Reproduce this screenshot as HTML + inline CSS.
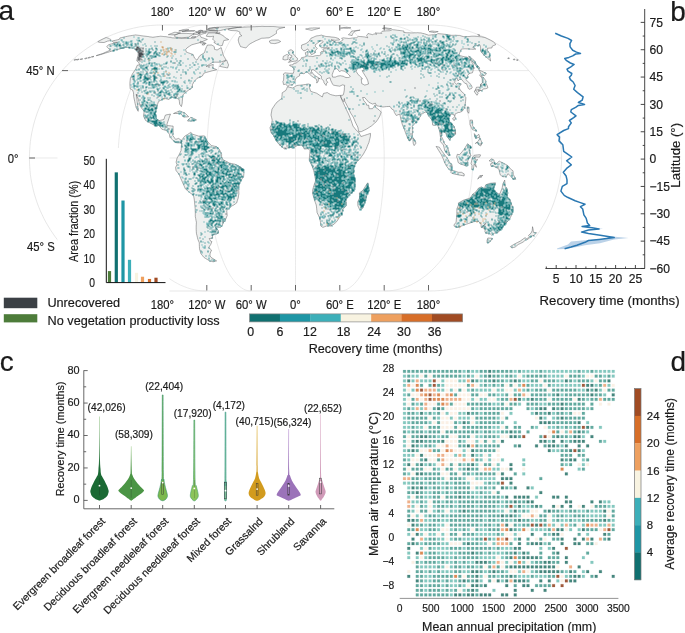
<!DOCTYPE html><html><head><meta charset="utf-8"><style>html,body{margin:0;padding:0;background:#fff;}svg{display:block}</style></head><body><svg width="685" height="633" viewBox="0 0 685 633" font-family="'Liberation Sans', Arial, sans-serif"><rect width="685" height="633" fill="#fff"/><path d="M206.8,25.0 202.7,25.1 198.8,25.5 194.9,26.1 191.2,27.0 187.6,28.1 184.1,29.4 180.7,30.8 177.4,32.5 174.2,34.3 171.1,36.2 168.1,38.3 165.1,40.5 162.3,42.9 159.6,45.4 156.9,48.0 154.4,50.7 151.9,53.5 149.5,56.4 147.2,59.4 145.0,62.5 142.9,65.7 140.9,69.0 138.9,72.3 137.1,75.7 135.3,79.2 133.6,82.8 132.1,86.4 130.5,90.0 129.1,93.8 127.8,97.5 126.5,101.4 125.4,105.2 124.3,109.1 123.3,113.1 122.4,117.0 121.6,121.1 120.9,125.1 120.2,129.2 119.7,133.2 119.2,137.3 118.8,141.4 118.5,145.6 118.3,149.7 118.1,153.9 118.1,158.0 118.1,162.1 118.3,166.3 118.5,170.4 118.8,174.6 119.2,178.7 119.7,182.8 120.2,186.8 120.9,190.9 121.6,194.9 122.4,199.0 123.3,202.9 124.3,206.9 125.4,210.8 126.5,214.6 127.8,218.5 129.1,222.2 130.5,226.0 132.1,229.6 133.6,233.2 135.3,236.8 137.1,240.3 138.9,243.7 140.9,247.0 142.9,250.3 145.0,253.5 147.2,256.6 149.5,259.6 151.9,262.5 154.4,265.3 156.9,268.0 159.6,270.6 162.3,273.1 165.1,275.5 168.1,277.7 171.1,279.8 174.2,281.7 177.4,283.5 180.7,285.2 184.1,286.6 187.6,287.9 191.2,289.0 194.9,289.9 198.8,290.5 202.7,290.9 206.8,291.0M251.2,25.0 249.1,25.1 247.1,25.5 245.2,26.1 243.4,27.0 241.6,28.1 239.8,29.4 238.1,30.8 236.4,32.5 234.8,34.3 233.3,36.2 231.8,38.3 230.3,40.5 228.9,42.9 227.5,45.4 226.2,48.0 224.9,50.7 223.7,53.5 222.5,56.4 221.4,59.4 220.3,62.5 219.2,65.7 218.2,69.0 217.2,72.3 216.3,75.7 215.4,79.2 214.6,82.8 213.8,86.4 213.0,90.0 212.3,93.8 211.6,97.5 211.0,101.4 210.4,105.2 209.9,109.1 209.4,113.1 209.0,117.0 208.5,121.1 208.2,125.1 207.9,129.2 207.6,133.2 207.3,137.3 207.1,141.4 207.0,145.6 206.9,149.7 206.8,153.9 206.8,158.0 206.8,162.1 206.9,166.3 207.0,170.4 207.1,174.6 207.3,178.7 207.6,182.8 207.9,186.8 208.2,190.9 208.5,194.9 209.0,199.0 209.4,202.9 209.9,206.9 210.4,210.8 211.0,214.6 211.6,218.5 212.3,222.2 213.0,226.0 213.8,229.6 214.6,233.2 215.4,236.8 216.3,240.3 217.2,243.7 218.2,247.0 219.2,250.3 220.3,253.5 221.4,256.6 222.5,259.6 223.7,262.5 224.9,265.3 226.2,268.0 227.5,270.6 228.9,273.1 230.3,275.5 231.8,277.7 233.3,279.8 234.8,281.7 236.4,283.5 238.1,285.2 239.8,286.6 241.6,287.9 243.4,289.0 245.2,289.9 247.1,290.5 249.1,290.9 251.2,291.0M295.5,25.0 295.5,25.1 295.5,25.5 295.5,26.1 295.5,27.0 295.5,28.1 295.5,29.4 295.5,30.8 295.5,32.5 295.5,34.3 295.5,36.2 295.5,38.3 295.5,40.5 295.5,42.9 295.5,45.4 295.5,48.0 295.5,50.7 295.5,53.5 295.5,56.4 295.5,59.4 295.5,62.5 295.5,65.7 295.5,69.0 295.5,72.3 295.5,75.7 295.5,79.2 295.5,82.8 295.5,86.4 295.5,90.0 295.5,93.8 295.5,97.5 295.5,101.4 295.5,105.2 295.5,109.1 295.5,113.1 295.5,117.0 295.5,121.1 295.5,125.1 295.5,129.2 295.5,133.2 295.5,137.3 295.5,141.4 295.5,145.6 295.5,149.7 295.5,153.9 295.5,158.0 295.5,162.1 295.5,166.3 295.5,170.4 295.5,174.6 295.5,178.7 295.5,182.8 295.5,186.8 295.5,190.9 295.5,194.9 295.5,199.0 295.5,202.9 295.5,206.9 295.5,210.8 295.5,214.6 295.5,218.5 295.5,222.2 295.5,226.0 295.5,229.6 295.5,233.2 295.5,236.8 295.5,240.3 295.5,243.7 295.5,247.0 295.5,250.3 295.5,253.5 295.5,256.6 295.5,259.6 295.5,262.5 295.5,265.3 295.5,268.0 295.5,270.6 295.5,273.1 295.5,275.5 295.5,277.7 295.5,279.8 295.5,281.7 295.5,283.5 295.5,285.2 295.5,286.6 295.5,287.9 295.5,289.0 295.5,289.9 295.5,290.5 295.5,290.9 295.5,291.0M339.8,25.0 341.9,25.1 343.9,25.5 345.8,26.1 347.6,27.0 349.4,28.1 351.2,29.4 352.9,30.8 354.6,32.5 356.2,34.3 357.7,36.2 359.2,38.3 360.7,40.5 362.1,42.9 363.5,45.4 364.8,48.0 366.1,50.7 367.3,53.5 368.5,56.4 369.6,59.4 370.7,62.5 371.8,65.7 372.8,69.0 373.8,72.3 374.7,75.7 375.6,79.2 376.4,82.8 377.2,86.4 378.0,90.0 378.7,93.8 379.4,97.5 380.0,101.4 380.6,105.2 381.1,109.1 381.6,113.1 382.0,117.0 382.5,121.1 382.8,125.1 383.1,129.2 383.4,133.2 383.7,137.3 383.9,141.4 384.0,145.6 384.1,149.7 384.2,153.9 384.2,158.0 384.2,162.1 384.1,166.3 384.0,170.4 383.9,174.6 383.7,178.7 383.4,182.8 383.1,186.8 382.8,190.9 382.5,194.9 382.0,199.0 381.6,202.9 381.1,206.9 380.6,210.8 380.0,214.6 379.4,218.5 378.7,222.2 378.0,226.0 377.2,229.6 376.4,233.2 375.6,236.8 374.7,240.3 373.8,243.7 372.8,247.0 371.8,250.3 370.7,253.5 369.6,256.6 368.5,259.6 367.3,262.5 366.1,265.3 364.8,268.0 363.5,270.6 362.1,273.1 360.7,275.5 359.2,277.7 357.7,279.8 356.2,281.7 354.6,283.5 352.9,285.2 351.2,286.6 349.4,287.9 347.6,289.0 345.8,289.9 343.9,290.5 341.9,290.9 339.8,291.0M384.2,25.0 388.3,25.1 392.2,25.5 396.1,26.1 399.8,27.0 403.4,28.1 406.9,29.4 410.3,30.8 413.6,32.5 416.8,34.3 419.9,36.2 422.9,38.3 425.9,40.5 428.7,42.9 431.4,45.4 434.1,48.0 436.6,50.7 439.1,53.5 441.5,56.4 443.8,59.4 446.0,62.5 448.1,65.7 450.1,69.0 452.1,72.3 453.9,75.7 455.7,79.2 457.4,82.8 458.9,86.4 460.5,90.0 461.9,93.8 463.2,97.5 464.5,101.4 465.6,105.2 466.7,109.1 467.7,113.1 468.6,117.0 469.4,121.1 470.1,125.1 470.8,129.2 471.3,133.2 471.8,137.3 472.2,141.4 472.5,145.6 472.7,149.7 472.9,153.9 472.9,158.0 472.9,162.1 472.7,166.3 472.5,170.4 472.2,174.6 471.8,178.7 471.3,182.8 470.8,186.8 470.1,190.9 469.4,194.9 468.6,199.0 467.7,202.9 466.7,206.9 465.6,210.8 464.5,214.6 463.2,218.5 461.9,222.2 460.5,226.0 458.9,229.6 457.4,233.2 455.7,236.8 453.9,240.3 452.1,243.7 450.1,247.0 448.1,250.3 446.0,253.5 443.8,256.6 441.5,259.6 439.1,262.5 436.6,265.3 434.1,268.0 431.4,270.6 428.7,273.1 425.9,275.5 422.9,277.7 419.9,279.8 416.8,281.7 413.6,283.5 410.3,285.2 406.9,286.6 403.4,287.9 399.8,289.0 396.1,289.9 392.2,290.5 388.3,290.9 384.2,291.0M62.1,70.6H528.9M29.4,158.0H561.6" fill="none" stroke="#dcdcdc" stroke-width="0.6"/><path d="M428.5,25.0 434.7,25.1 440.6,25.5 446.3,26.1 451.9,27.0 457.3,28.1 462.6,29.4 467.7,30.8 472.7,32.5 477.5,34.3 482.1,36.2 486.7,38.3 491.0,40.5 495.3,42.9 499.4,45.4 503.4,48.0 507.2,50.7 510.9,53.5 514.5,56.4 517.9,59.4 521.2,62.5 524.4,65.7 527.4,69.0 530.3,72.3 533.1,75.7 535.8,79.2 538.3,82.8 540.7,86.4 542.9,90.0 545.1,93.8 547.1,97.5 548.9,101.4 550.7,105.2 552.3,109.1 553.8,113.1 555.1,117.0 556.4,121.1 557.5,125.1 558.4,129.2 559.3,133.2 560.0,137.3 560.6,141.4 561.0,145.6 561.3,149.7 561.5,153.9 561.6,158.0 561.5,162.1 561.3,166.3 561.0,170.4 560.6,174.6 560.0,178.7 559.3,182.8 558.4,186.8 557.5,190.9 556.4,194.9 555.1,199.0 553.8,202.9 552.3,206.9 550.7,210.8 548.9,214.6 547.1,218.5 545.1,222.2 542.9,226.0 540.7,229.6 538.3,233.2 535.8,236.8 533.1,240.3 530.3,243.7 527.4,247.0 524.4,250.3 521.2,253.5 517.9,256.6 514.5,259.6 510.9,262.5 507.2,265.3 503.4,268.0 499.4,270.6 495.3,273.1 491.0,275.5 486.7,277.7 482.1,279.8 477.5,281.7 472.7,283.5 467.7,285.2 462.6,286.6 457.3,287.9 451.9,289.0 446.3,289.9 440.6,290.5 434.7,290.9 428.5,291.0 162.5,291.0 156.3,290.9 150.4,290.5 144.7,289.9 139.1,289.0 133.7,287.9 128.4,286.6 123.3,285.2 118.3,283.5 113.5,281.7 108.9,279.8 104.3,277.7 100.0,275.5 95.7,273.1 91.6,270.6 87.6,268.0 83.8,265.3 80.1,262.5 76.5,259.6 73.1,256.6 69.8,253.5 66.6,250.3 63.6,247.0 60.7,243.7 57.9,240.3 55.2,236.8 52.7,233.2 50.3,229.6 48.1,226.0 45.9,222.2 43.9,218.5 42.1,214.6 40.3,210.8 38.7,206.9 37.2,202.9 35.9,199.0 34.6,194.9 33.5,190.9 32.6,186.8 31.7,182.8 31.0,178.7 30.4,174.6 30.0,170.4 29.7,166.3 29.5,162.1 29.4,158.0 29.5,153.9 29.7,149.7 30.0,145.6 30.4,141.4 31.0,137.3 31.7,133.2 32.6,129.2 33.5,125.1 34.6,121.1 35.9,117.0 37.2,113.1 38.7,109.1 40.3,105.2 42.1,101.4 43.9,97.5 45.9,93.8 48.1,90.0 50.3,86.4 52.7,82.8 55.2,79.2 57.9,75.7 60.7,72.3 63.6,69.0 66.6,65.7 69.8,62.5 73.1,59.4 76.5,56.4 80.1,53.5 83.8,50.7 87.6,48.0 91.6,45.4 95.7,42.9 100.0,40.5 104.3,38.3 108.9,36.2 113.5,34.3 118.3,32.5 123.3,30.8 128.4,29.4 133.7,28.1 139.1,27.0 144.7,26.1 150.4,25.5 156.3,25.1 162.5,25.0Z" fill="none" stroke="#dcdcdc" stroke-width="0.7"/><path d="M112.2,41.0 114.0,40.6 115.8,40.2 117.5,39.8 119.3,39.4 119.6,38.7 119.8,38.0 121.7,37.6 123.6,37.1 125.4,36.7 127.3,36.3 129.2,35.9 130.9,35.7 132.5,35.4 134.2,35.2 135.8,34.9 136.7,35.1 137.6,35.2 138.5,35.3 139.5,35.4 140.3,35.5 141.1,35.7 141.9,35.8 142.7,35.9 143.5,36.0 144.3,36.1 145.1,36.2 146.0,36.3 146.9,36.4 147.7,36.5 148.6,36.6 149.4,36.8 150.2,36.9 151.1,37.0 151.9,37.1 152.8,37.3 154.1,37.1 155.4,36.9 156.7,36.7 158.1,36.6 159.4,36.4 160.7,36.2 161.6,36.3 162.5,36.4 163.4,36.5 164.3,36.6 165.2,36.6 166.1,36.7 167.0,36.9 167.8,37.0 168.6,37.2 169.4,37.3 170.3,37.5 171.1,37.6 172.0,37.8 172.9,37.9 173.9,37.9 174.8,38.0 175.8,38.1 176.8,38.2 177.7,38.2 178.7,38.3 179.7,38.3 180.8,38.3 181.9,38.3 182.9,38.3 184.0,38.3 185.0,38.3 186.1,38.3 187.2,38.3 188.2,38.3 189.3,38.3 190.4,38.3 191.4,38.3 192.7,38.1 193.9,38.0 195.2,37.8 196.7,36.7 198.3,35.7 199.9,34.7 200.1,35.4 200.4,36.0 200.7,36.6 201.0,37.3 201.8,37.5 202.6,37.8 203.4,38.0 204.2,38.3 205.0,38.6 205.8,38.9 206.6,39.1 207.4,39.4 205.7,40.2 203.9,40.9 202.1,41.7 200.5,42.3 198.9,42.9 197.5,43.3 196.1,43.6 194.7,44.0 193.2,44.4 191.8,44.8 189.4,46.3 186.9,48.0 185.6,49.7 186.0,50.9 186.3,52.1 187.3,52.4 188.3,52.8 189.2,53.1 190.2,53.5 191.2,53.8 192.2,54.2 193.2,54.5 193.8,56.3 194.5,58.1 195.7,59.1 196.9,60.2 197.9,58.7 198.8,57.2 199.8,55.7 202.1,54.2 204.3,52.8 204.9,51.2 205.4,49.5 206.0,48.0 206.7,46.5 207.4,45.0 208.5,45.0 209.7,45.0 210.8,45.0 211.9,45.0 212.7,45.6 213.5,46.1 214.3,46.7 214.4,48.0 214.5,49.3 215.8,49.7 217.1,50.0 219.1,48.8 221.2,47.6 221.7,49.5 222.3,51.4 222.7,53.1 223.1,54.9 223.8,56.2 224.6,57.4 225.3,58.7 226.0,60.2 224.6,60.7 223.2,61.2 221.8,61.7 220.4,62.2 219.1,62.2 217.9,62.2 216.6,62.2 215.4,62.2 214.1,62.2 212.9,62.2 211.2,63.3 209.5,64.3 207.9,65.4 206.2,66.5 207.6,66.1 209.0,65.7 210.5,65.3 211.9,64.8 213.3,64.4 213.0,66.3 212.7,68.1 214.0,68.6 215.4,69.1 216.7,69.6 215.3,70.0 213.9,70.4 212.5,70.7 211.1,71.1 209.7,71.5 208.2,71.9 206.8,72.3 205.3,72.7 203.9,73.2 202.3,76.1 200.6,76.8 198.8,77.6 197.0,78.3 195.5,80.1 193.9,81.9 192.5,84.6 192.3,87.7 190.3,89.0 188.2,90.4 186.4,91.8 184.7,93.3 183.0,94.7 182.7,96.8 182.5,99.0 182.3,101.1 182.2,103.3 181.4,106.6 179.7,104.3 179.4,101.8 179.1,99.4 177.8,98.8 176.6,98.1 175.2,97.8 173.9,97.5 172.6,97.3 171.3,97.0 169.2,99.4 167.9,99.2 166.6,98.9 165.3,98.6 163.9,98.3 162.1,99.4 160.2,100.6 158.4,101.7 157.6,104.4 156.8,107.2 156.3,109.1 155.7,111.1 155.2,113.1 155.6,115.6 156.1,118.0 157.4,119.4 158.6,120.7 160.4,120.3 162.1,119.9 163.9,119.5 164.6,117.2 165.4,115.1 167.1,114.7 168.8,114.4 170.5,114.1 169.6,116.4 168.8,118.7 168.0,121.1 167.3,123.3 166.7,125.5 168.3,125.6 169.9,125.8 171.5,126.0 173.1,126.1 173.1,128.5 173.1,130.9 173.1,133.2 172.8,135.5 174.2,137.4 175.6,139.4 177.1,138.9 178.6,138.4 180.0,139.4 181.4,140.4 180.9,142.9 179.2,142.9 177.6,142.9 175.4,142.5 174.0,141.2 172.6,139.9 171.2,138.6 169.9,137.3 169.4,134.3 168.1,132.5 166.8,130.8 165.1,130.2 163.5,129.7 161.8,129.2 160.3,127.1 158.7,125.1 156.8,125.4 155.0,125.7 153.4,124.8 151.8,123.9 150.3,123.1 148.7,122.2 147.1,121.3 145.6,120.5 144.5,118.2 143.5,116.1 143.8,113.8 144.2,111.5 142.8,109.7 141.5,108.0 140.2,106.2 139.5,103.9 138.9,101.7 138.4,99.4 137.3,96.9 136.3,94.3 136.6,96.9 137.0,99.4 137.2,101.7 137.5,103.9 137.9,106.2 138.0,108.7 138.2,111.3 137.1,109.4 136.1,107.6 135.6,105.5 135.1,103.4 134.7,101.4 134.2,99.0 133.7,96.6 133.6,94.7 133.5,92.8 132.6,90.0 131.4,89.5 130.2,88.9 130.0,86.3 129.9,83.7 130.0,81.9 130.2,80.1 130.4,78.3 131.4,76.2 132.4,74.0 133.5,72.3 134.6,70.6 135.7,69.0 136.5,67.0 137.4,65.1 139.6,64.9 139.2,63.7 138.8,62.5 137.8,61.7 136.8,61.0 137.1,59.2 137.5,57.4 138.0,55.7 138.1,54.2 138.2,52.8 137.7,52.1 137.2,51.4 136.7,50.7 136.3,50.0 135.6,49.6 134.9,49.1 134.2,48.7 133.5,48.2 132.6,48.1 131.6,47.9 130.6,47.7 129.7,47.6 128.6,47.5 127.5,47.5 126.5,47.4 125.4,47.3 123.3,47.9 121.3,48.5 119.2,49.1 117.2,49.5 115.2,50.0 113.3,50.6 111.5,51.2 109.6,51.8 107.7,52.4 105.9,52.9 104.0,53.5 102.2,54.1 100.3,54.7 98.3,55.2 96.2,55.7 98.4,54.9 100.6,54.2 102.8,53.5 105.4,52.3 107.9,51.2 110.5,50.0 109.9,49.6 109.3,49.1 108.7,48.7 108.1,48.2 107.6,47.7 107.2,47.2 106.8,46.7 108.4,44.8 111.4,43.9 113.5,43.3 115.6,42.8 117.7,42.3 116.6,42.3 115.5,42.3 114.4,42.3 113.3,42.3 112.9,41.9 112.6,41.4ZM193.4,34.3 194.3,34.3 195.3,34.4 196.2,34.4 197.2,34.5 200.4,32.9 199.5,32.8 198.7,32.7 197.9,32.6 197.1,32.5 195.4,32.9 193.7,33.4ZM191.3,37.5 192.3,37.6 193.2,37.7 194.1,37.8 195.9,36.7 194.9,36.5 193.9,36.2 192.2,36.7ZM198.2,31.2 199.1,31.2 200.1,31.2 201.1,31.2 202.9,30.5 201.9,30.4 201.0,30.3 200.0,30.2ZM202.1,31.8 203.0,31.8 204.0,31.8 205.0,31.8 206.3,31.0 205.3,31.0 204.3,31.0 203.4,31.0ZM207.3,29.4 208.3,29.3 209.4,29.3 210.4,29.2 211.4,29.2 212.4,29.1 213.4,29.1 214.4,29.0 216.6,28.4 218.8,27.8 218.1,27.7 217.3,27.7 216.6,27.6 215.9,27.6 215.2,27.5 214.4,27.4 213.1,27.6 211.8,27.8 210.5,27.9 209.2,28.1 208.2,28.7ZM178.8,30.8 179.7,30.8 180.7,30.8 181.6,30.8 182.6,30.8 183.6,30.8 184.5,30.8 186.7,30.3 188.9,29.7 187.9,29.7 187.0,29.7 186.0,29.7 185.1,29.7 184.2,29.7 183.2,29.7 181.0,30.3ZM215.7,33.4 216.6,33.4 217.5,33.5 218.4,33.6 220.2,32.9 219.3,32.8 218.4,32.8 217.4,32.7 216.5,32.7ZM201.9,44.8 202.9,44.9 203.9,45.1 205.2,44.1 204.2,43.9 203.3,43.8ZM340.5,28.1 341.2,28.0 341.9,27.9 342.7,27.8 343.4,27.6 344.1,27.5 345.1,27.6 346.0,27.6 347.0,27.7 347.9,27.7 348.9,27.7 349.8,27.8 350.8,27.8 350.1,27.9 349.3,28.0 348.6,28.1 347.8,28.2 346.9,28.2 346.0,28.2 345.1,28.2 344.1,28.2 343.2,28.1 342.3,28.1 341.4,28.1ZM228.3,29.0 229.6,28.8 230.8,28.6 232.1,28.4 233.4,28.1 234.6,27.9 235.9,27.7 237.1,27.5 238.1,27.5 239.1,27.4 240.1,27.4 241.1,27.3 242.1,27.2 243.0,27.2 244.0,27.1 245.0,27.1 246.0,27.0 246.9,27.0 247.9,26.9 248.8,26.9 249.7,26.9 250.6,26.8 251.6,26.8 252.5,26.8 253.4,26.7 254.3,26.7 255.2,26.7 256.1,26.6 257.0,26.6 257.9,26.6 258.8,26.5 259.7,26.5 260.6,26.5 261.5,26.4 262.4,26.4 263.2,26.4 264.1,26.5 264.9,26.5 265.7,26.5 266.6,26.5 267.4,26.5 268.3,26.5 269.1,26.5 269.9,26.5 270.8,26.5 271.6,26.5 272.5,26.5 273.3,26.5 274.2,26.6 274.9,26.6 275.7,26.7 276.5,26.8 277.3,26.9 278.1,27.0 279.0,27.1 279.8,27.1 280.7,27.1 281.5,27.1 282.4,27.2 283.3,27.2 284.1,27.2 285.0,27.3 284.0,27.5 283.1,27.7 282.1,28.0 281.1,28.2 280.1,28.5 279.1,28.7 278.2,29.4 277.3,30.1 276.4,30.8 276.4,31.6 276.5,32.5 276.5,33.4 275.3,34.1 274.1,34.9 272.8,35.7 271.6,36.4 270.4,37.1 269.1,37.8 268.0,37.9 266.9,37.9 265.9,38.0 264.8,38.1 263.7,38.2 262.6,38.2 261.5,38.3 260.2,38.9 259.0,39.4 257.7,40.0 256.4,40.5 255.1,41.1 253.7,41.9 252.3,42.6 250.9,43.4 249.5,44.1 248.3,45.4 247.1,46.7 245.8,48.0 244.8,47.7 243.7,47.5 242.7,47.2 241.6,46.9 240.6,46.7 240.0,45.4 239.4,44.1 238.9,42.9 238.5,41.4 238.2,40.0 238.5,38.9 238.8,37.8 239.2,36.7 240.5,36.2 241.9,35.7 241.2,35.2 240.6,34.7 239.9,34.3 239.8,33.1 239.8,32.1 239.1,31.7 238.4,31.4 237.8,31.1 237.1,30.8 236.2,30.8 235.4,30.7 234.5,30.7 233.6,30.6 232.7,30.6 231.8,30.5 230.9,30.5 230.2,30.3 229.5,30.1 228.8,29.9 228.1,29.7ZM222.4,45.4 222.7,44.1 223.1,42.9 223.4,41.7 223.8,40.5 225.0,40.3 226.3,40.1 227.5,39.9 228.7,39.6 227.9,39.1 227.1,38.7 226.2,38.2 225.4,37.7 224.7,37.3 224.0,36.5 223.4,35.7 222.7,35.4 222.0,35.0 221.3,34.7 220.6,34.3 220.0,34.0 219.2,33.8 218.4,33.6 217.7,33.3 217.0,33.1 216.2,32.9 215.2,32.9 214.2,32.9 213.2,32.9 212.3,32.9 211.3,32.9 210.3,32.9 209.3,32.9 208.3,32.9 207.6,34.0 206.9,35.1 206.3,36.2 207.2,36.4 208.1,36.5 209.0,36.6 210.0,36.7 211.2,36.6 212.4,36.4 213.6,36.2 213.3,37.3 213.0,38.3 212.8,39.4 213.4,40.0 214.0,40.5 214.7,41.1 215.3,41.7 213.8,42.3 214.5,42.8 215.3,43.3 216.1,43.9 216.8,44.4 217.7,44.7 218.7,45.1 219.6,45.4 220.5,45.8ZM174.7,35.2 176.7,34.3 178.8,33.4 179.8,33.4 180.8,33.4 181.8,33.4 182.8,33.4 183.8,33.4 184.8,33.4 185.8,33.4 186.7,33.4 187.6,33.5 188.5,33.5 189.4,33.6 190.3,33.6 191.3,33.7 192.2,33.7 193.1,33.8 194.1,33.8 192.2,34.9 190.3,36.1 188.4,37.3 187.3,37.3 186.1,37.4 185.0,37.5 183.8,37.6 182.6,37.7 181.5,37.8 180.5,37.7 179.6,37.6 178.7,37.5 177.7,37.4 176.8,37.3 175.8,37.3 175.3,36.9 174.8,36.5 174.4,36.1 173.9,35.7ZM210.0,30.5 210.9,30.5 211.8,30.5 212.7,30.6 213.6,30.6 214.5,30.7 215.4,30.7 216.3,30.7 217.2,30.8 218.1,30.8 219.0,30.8 220.5,30.5 222.0,30.1 223.5,29.7 224.9,29.4 226.4,29.0 227.7,28.8 228.9,28.7 230.1,28.5 231.3,28.3 232.6,28.1 233.7,28.0 234.9,27.8 236.0,27.7 237.1,27.5 238.3,27.4 239.4,27.3 240.5,27.1 241.6,27.0 240.8,27.0 240.0,26.9 239.2,26.9 238.5,26.9 237.7,26.8 236.9,26.8 236.1,26.8 235.3,26.7 234.6,26.7 233.8,26.7 233.0,26.6 232.2,26.6 231.5,26.6 230.5,26.6 229.5,26.6 228.6,26.7 227.6,26.7 226.6,26.8 225.6,26.8 224.6,26.9 223.6,26.9 222.6,27.0 221.6,27.0 220.6,27.1 219.6,27.1 218.6,27.2 217.6,27.2 216.6,27.3 215.0,27.5 213.5,27.8 211.9,28.1 210.3,28.4 208.7,28.7 208.7,29.2 208.7,29.6 208.8,30.1 209.4,30.3ZM205.6,32.1 206.6,32.1 207.5,32.1 208.5,32.1 209.5,32.1 210.5,32.1 211.4,32.1 212.4,32.1 213.4,32.1 214.4,32.1 215.3,32.1 216.3,32.1 217.3,32.1 217.4,31.2 217.6,30.5 216.7,30.5 215.7,30.5 214.8,30.5 213.8,30.5 212.9,30.5 211.9,30.5 211.0,30.5 210.0,30.5 209.1,30.5 208.1,30.5 206.8,31.2ZM168.3,34.7 171.6,33.4 174.9,32.2 175.7,32.3 176.5,32.4 177.3,32.5 178.1,32.6 178.9,32.7 179.7,32.8 180.5,32.9 178.0,33.8 175.4,34.7 174.4,34.7 173.4,34.7 172.4,34.7 171.4,34.7 170.3,34.7 169.3,34.7ZM198.1,33.8 198.9,33.9 199.8,34.0 200.6,34.2 201.5,34.3 203.1,33.8 204.7,33.4 206.3,32.9 205.5,32.8 204.7,32.6 204.0,32.5 202.9,32.5 201.9,32.5 200.9,32.6 199.9,32.6 198.9,32.6 197.8,32.6 196.8,32.7 196.4,32.3 195.9,32.0 195.5,31.6 196.8,31.5 198.0,31.3 199.3,31.2 200.5,31.0 201.7,30.8 200.5,31.8 199.3,32.8ZM181.9,31.6 183.0,31.6 184.0,31.6 185.0,31.5 186.1,31.5 187.1,31.5 188.1,31.4 189.2,31.4 190.2,31.4 191.2,31.3 192.3,31.3 193.3,31.3 194.3,31.2 194.8,30.5 193.9,30.5 192.9,30.5 192.0,30.5 191.0,30.5 190.1,30.5 189.1,30.5 188.2,30.5 187.2,30.5 186.3,30.5 184.1,31.0ZM200.0,42.9 201.1,43.0 202.1,43.1 203.1,43.2 204.2,43.3 205.2,43.4 206.2,43.5 205.4,43.2 204.6,42.8 203.7,42.5 202.9,42.1 202.1,41.8 201.3,41.5 200.5,41.1ZM219.6,66.4 220.9,66.6 222.2,66.9 223.5,67.2 224.9,67.4 226.2,67.7 227.5,68.0 228.6,64.9 227.9,63.3 227.3,61.7 226.7,60.2 225.2,61.0 223.7,61.7 221.7,64.0ZM173.5,113.5 175.0,112.8 176.6,112.2 178.1,111.5 179.6,110.9 181.0,111.4 182.3,112.0 183.7,112.5 185.0,113.1 186.8,114.9 188.7,116.7 187.0,116.9 185.3,117.0 183.7,117.2 182.2,115.4 180.6,113.5 179.0,113.5 177.3,113.5 175.6,113.5ZM187.6,120.5 189.2,118.8 190.9,117.2 192.3,117.9 193.7,118.5 195.1,119.2 196.5,119.9 194.6,120.5 192.6,121.1 191.0,121.1 189.3,121.1 187.7,121.1ZM181.4,140.4 183.0,138.4 184.6,136.3 186.2,135.3 187.7,134.4 189.2,133.4 190.8,132.4 192.8,134.3 194.3,134.7 195.7,135.2 197.2,135.6 198.6,136.1 200.1,136.1 201.5,136.0 203.0,135.9 204.5,135.9 205.5,138.2 206.5,140.4 208.1,142.1 209.8,143.9 211.4,145.6 213.1,145.9 214.8,146.3 216.6,146.6 218.0,148.0 219.4,149.3 220.5,151.8 221.6,154.3 221.6,158.0 223.8,160.1 225.3,160.9 226.8,161.6 228.3,162.4 229.7,163.2 231.5,163.5 233.2,163.9 234.9,164.2 236.8,165.0 238.6,165.9 240.3,167.0 241.9,168.2 243.6,169.4 243.7,171.5 243.9,173.5 243.6,176.6 242.2,178.7 240.9,180.7 239.7,182.8 238.6,184.8 238.7,187.1 238.7,189.4 238.8,191.7 238.9,193.9 238.5,195.9 238.2,198.0 237.4,200.4 236.7,202.9 235.3,203.9 234.0,204.9 232.6,205.6 231.2,206.3 229.7,207.8 228.2,209.3 226.7,210.8 227.0,213.2 227.2,215.6 226.2,218.0 225.2,220.4 223.2,222.8 222.0,226.0 220.3,227.6 218.8,227.2 217.3,226.9 215.3,226.9 217.5,229.6 218.5,230.7 218.0,233.4 216.5,233.8 215.1,234.1 213.7,234.5 212.3,234.8 212.7,238.2 211.0,238.4 209.2,238.5 210.6,241.1 211.9,241.6 210.7,244.5 209.7,246.0 208.7,247.5 211.5,250.0 210.7,252.0 210.0,253.9 210.0,256.0 211.2,257.3 211.1,257.5 213.0,258.6 214.8,259.8 216.6,260.9 215.5,261.2 214.3,261.5 213.2,261.8 211.5,261.4 209.8,261.1 207.8,259.8 205.8,258.6 203.8,257.3 202.3,255.4 200.8,253.5 200.4,251.9 199.9,250.3 199.5,248.7 199.4,246.6 199.3,244.5 199.3,242.8 198.6,241.1 197.9,239.4 197.4,237.4 196.9,235.3 196.4,233.2 196.3,231.4 196.2,229.6 196.2,227.8 196.2,226.0 196.3,224.1 196.4,222.2 196.0,220.4 195.7,218.5 195.3,216.6 195.3,214.6 195.3,212.7 195.2,210.8 195.2,208.8 195.0,206.9 194.8,204.9 194.6,202.9 194.4,200.9 194.2,199.0 193.5,195.5 191.9,194.2 190.2,192.9 188.6,191.6 187.0,190.2 185.4,188.9 184.5,186.8 183.6,184.8 182.7,182.8 181.8,180.7 180.9,178.7 180.0,176.6 179.2,174.6 177.6,172.5 176.0,170.4 175.6,167.3 177.0,164.8 176.1,162.1 176.6,160.1 177.1,158.0 179.0,154.9 180.0,152.8 181.0,150.7 181.2,148.7 181.3,146.6 181.5,144.5 181.5,142.5ZM271.0,115.1 271.3,113.1 271.7,111.1 272.0,109.1 273.5,106.9 275.0,104.6 277.2,101.9 278.7,100.8 280.2,99.6 281.8,98.5 281.9,96.6 282.1,94.7 282.2,92.8 284.0,91.6 285.9,90.4 286.7,88.6 287.5,86.7 289.2,87.2 291.0,87.6 292.8,88.0 294.1,87.2 295.5,86.3 296.9,85.5 298.2,85.3 299.6,85.2 300.9,85.1 302.3,84.9 303.8,84.7 305.3,84.5 306.8,84.2 308.4,84.0 310.4,84.6 309.4,87.3 310.0,89.3 310.7,91.3 312.1,91.8 313.6,92.3 315.1,92.7 316.5,93.2 318.0,94.1 319.4,95.1 320.9,96.0 322.3,97.0 323.5,93.4 325.4,93.0 327.3,92.6 328.9,93.6 330.5,94.5 332.3,95.0 334.1,95.4 335.9,95.8 337.4,95.6 338.9,95.5 340.4,95.3 341.1,97.9 342.3,100.6 343.5,103.3 344.4,105.2 345.3,107.2 346.1,109.1 347.1,111.1 348.1,113.1 349.0,115.1 349.8,117.0 350.5,119.0 351.3,121.1 352.2,123.6 353.0,126.1 354.6,128.1 356.2,130.2 358.9,132.4 359.9,134.5 360.9,136.5 363.0,135.9 364.5,135.4 366.0,134.9 367.5,134.4 369.0,133.9 370.5,133.4 370.4,136.3 369.9,138.4 369.4,140.4 368.9,142.5 368.0,144.5 367.2,146.6 366.4,148.7 364.9,151.3 363.5,153.9 361.7,156.4 359.8,159.0 358.3,160.4 356.8,161.7 354.6,165.3 354.0,167.3 353.5,169.4 353.6,172.0 353.7,174.6 354.3,177.1 355.0,179.7 354.9,181.7 354.9,183.8 354.8,185.8 354.8,187.9 353.7,190.1 352.6,192.3 350.7,193.6 348.8,194.9 347.4,197.0 346.0,199.0 346.1,201.3 346.2,203.6 346.2,205.9 344.3,207.8 342.4,209.8 342.1,212.2 341.8,214.6 339.6,217.1 338.4,219.0 337.2,220.9 335.7,222.5 334.2,224.1 332.4,225.0 330.7,226.0 329.3,226.0 327.8,226.0 326.4,226.0 324.7,226.7 322.9,227.4 320.8,226.0 320.6,224.1 320.5,222.2 320.0,219.9 319.4,217.5 318.3,215.1 317.1,212.7 316.9,210.8 316.7,208.8 316.5,206.9 316.2,204.9 315.3,202.4 314.4,199.9 313.8,197.8 313.2,195.7 312.6,193.5 312.7,189.9 313.2,187.9 313.8,185.8 314.7,183.3 315.6,180.7 315.3,178.7 314.9,176.6 314.5,174.6 314.1,172.5 313.6,170.4 312.8,168.2 312.0,165.9 310.6,163.0 309.2,160.1 309.4,158.0 309.5,155.9 309.8,153.3 310.0,150.7 308.1,148.7 306.2,148.9 304.4,149.1 303.2,147.0 302.1,145.0 300.7,145.1 299.2,145.2 297.7,145.4 296.0,146.3 294.3,147.2 292.5,148.1 291.1,147.6 289.6,147.2 287.9,147.8 286.1,148.3 284.4,148.9 283.0,147.7 281.5,146.6 280.0,145.2 278.5,143.7 275.9,140.4 274.7,138.0 273.5,135.5 271.0,132.4 270.5,130.1 270.0,127.7 271.5,124.7 271.8,122.4 272.2,120.1 271.6,117.5ZM367.7,182.8 368.2,185.1 368.6,187.5 369.1,189.9 368.2,191.9 367.3,193.9 366.7,196.1 366.0,198.2 365.3,200.3 364.6,202.4 363.9,204.5 363.2,206.6 362.5,208.6 359.7,209.8 358.8,207.8 357.9,205.9 357.8,203.9 357.7,201.9 358.7,199.9 359.6,198.0 359.5,195.4 359.4,192.9 361.2,191.6 362.9,190.3 364.3,188.1 365.7,185.8ZM283.3,74.0 283.9,75.7 283.7,77.9 283.6,80.1 282.9,81.5 283.6,84.6 285.5,84.2 287.3,85.6 287.9,86.4 289.4,85.1 291.0,85.0 292.5,84.9 294.8,82.2 295.1,80.1 296.6,77.5 298.1,76.6 299.7,75.7 299.6,73.8 301.4,73.2 302.7,73.5 304.0,73.8 305.3,72.7 307.0,71.6 309.3,74.0 311.8,76.2 314.1,77.8 316.3,79.2 317.0,81.9 316.5,82.8 317.2,82.8 318.3,81.0 318.4,78.3 320.2,78.9 318.4,77.7 316.7,76.6 315.3,75.7 313.9,74.9 312.7,73.2 311.5,71.5 311.5,69.8 313.2,69.5 314.9,70.6 316.7,72.3 318.5,74.0 319.9,75.0 321.3,76.1 321.4,78.7 323.7,81.0 324.0,82.8 326.1,85.5 326.6,83.1 327.8,82.4 326.1,80.1 326.8,78.7 328.4,78.2 330.1,77.8 330.6,80.1 331.9,82.8 332.8,84.6 333.5,85.1 335.2,85.5 337.0,85.8 338.4,86.0 339.7,86.2 341.0,85.6 342.3,84.9 344.7,85.3 344.4,87.3 344.3,90.0 343.8,92.8 343.4,94.5 343.1,95.1 340.6,95.5 341.1,97.7 342.6,100.4 343.8,101.7 344.4,98.5 344.8,101.4 346.1,103.8 347.3,106.2 348.5,108.5 349.6,110.8 350.7,113.1 352.0,115.1 353.2,117.0 354.1,119.0 354.9,121.1 355.8,123.1 356.8,125.1 357.8,127.1 358.3,129.5 358.9,131.8 361.4,131.6 363.0,130.8 364.7,130.0 366.3,129.2 368.1,128.1 369.8,127.0 371.5,125.9 373.0,124.6 374.4,123.3 375.9,122.1 377.9,119.3 379.8,116.1 380.5,114.1 381.2,112.1 379.1,109.9 377.4,108.6 375.7,107.4 375.1,104.8 374.3,106.2 372.5,108.7 370.8,108.7 369.1,108.7 368.7,105.2 366.7,105.2 366.1,103.3 363.7,100.4 362.6,97.5 364.7,97.5 366.3,99.4 368.8,102.3 370.7,103.2 372.6,104.1 374.0,103.6 375.3,103.1 376.8,105.8 378.4,106.1 380.0,106.4 381.5,106.7 382.9,107.0 384.7,106.8 386.4,106.6 388.2,106.5 390.0,106.4 391.8,109.1 393.8,110.1 394.4,112.5 396.3,115.5 398.0,114.8 399.8,114.1 400.3,116.6 400.8,119.0 401.3,121.1 401.9,123.1 402.5,125.1 403.4,127.1 404.3,129.2 405.3,132.2 406.1,134.3 406.9,136.3 407.7,138.4 409.6,141.2 410.5,139.6 412.0,136.7 412.5,134.3 412.6,132.2 412.7,130.2 412.5,128.1 412.3,126.1 414.0,124.3 415.3,123.1 416.5,121.3 417.7,119.5 419.0,118.2 420.3,117.0 420.5,114.1 422.6,113.7 423.9,112.9 425.2,112.1 427.1,112.5 428.4,115.7 430.2,117.8 432.0,120.1 432.4,122.6 432.7,125.1 434.5,125.5 435.9,124.8 437.3,124.1 438.1,126.4 438.9,128.8 439.6,131.2 439.9,133.2 440.2,135.3 440.5,137.3 440.4,139.4 440.3,141.4 441.8,143.2 443.4,145.0 444.1,147.8 444.7,150.7 446.5,153.0 448.3,155.3 449.5,155.1 449.0,152.4 448.4,149.7 447.3,147.4 446.2,145.2 444.4,143.7 443.5,141.0 442.5,138.4 441.2,136.3 441.4,134.3 441.5,132.2 441.7,130.2 443.2,131.8 445.7,132.8 446.9,136.3 449.7,140.2 450.6,138.2 452.6,136.3 454.1,135.3 455.6,134.3 455.5,132.2 455.3,130.2 454.7,128.1 454.0,126.1 452.0,123.9 449.9,121.7 448.4,119.3 449.2,116.1 450.7,114.1 452.2,114.3 453.6,114.5 454.8,116.5 455.0,114.1 456.6,113.3 458.2,112.5 459.4,112.5 460.8,111.9 462.2,111.3 463.3,109.7 464.3,108.2 465.1,105.2 465.3,103.3 465.6,101.4 465.9,97.7 464.4,95.6 464.5,94.1 461.9,91.9 460.3,90.0 458.8,88.2 459.5,86.0 460.4,85.1 461.4,84.2 458.6,83.1 456.6,84.2 454.5,82.4 454.9,81.9 455.2,79.6 456.0,78.6 456.9,77.6 458.1,81.0 459.2,79.6 461.5,79.4 463.1,81.3 464.8,83.3 466.5,83.7 467.4,85.9 468.2,88.2 469.1,89.3 470.3,88.9 471.5,88.6 472.2,87.3 471.0,84.6 468.0,81.7 465.9,79.6 466.8,78.5 467.7,77.5 467.7,75.2 469.2,73.7 470.3,73.3 471.4,73.0 472.5,72.7 472.9,71.2 473.2,69.8 473.4,68.1 473.5,66.5 473.5,64.9 472.6,63.3 471.5,61.7 470.5,60.2 469.4,58.7 467.1,57.2 465.7,56.9 464.2,56.7 462.8,56.4 460.8,55.8 458.9,55.2 459.3,54.1 459.6,53.1 460.0,52.2 460.3,51.4 460.6,50.6 461.0,49.8 461.3,49.1 462.3,49.0 463.4,48.9 464.5,48.8 465.7,48.8 466.9,48.9 468.1,48.9 469.7,49.1 471.4,49.2 473.0,49.3 474.4,49.2 475.8,49.1 472.7,47.3 473.3,46.8 473.8,46.2 474.3,45.6 475.7,45.6 477.1,45.6 478.0,45.3 478.9,45.0 479.8,44.8 480.2,46.0 480.5,47.3 480.6,48.2 480.6,49.1 480.5,50.0 480.5,51.0 482.1,52.9 483.7,54.9 485.5,56.4 487.2,57.9 488.9,59.4 490.6,61.0 490.1,58.2 489.4,55.7 489.5,54.4 489.6,53.2 487.6,50.7 487.6,49.5 487.6,48.2 488.6,48.2 489.7,48.1 490.8,48.0 491.8,48.0 492.0,47.3 492.2,46.7 492.4,46.0 493.2,45.7 494.0,45.4 494.8,45.1 495.6,44.8 495.2,43.5 493.2,41.7 490.5,40.2 487.7,38.8 484.9,37.5 481.4,36.8 480.1,36.7 478.8,36.6 477.5,36.5 476.2,36.3 474.9,36.2 473.8,36.2 472.8,36.2 471.8,36.2 470.9,36.3 470.0,36.4 469.2,36.5 468.3,36.5 467.4,36.6 466.4,36.6 465.3,36.6 464.3,36.6 463.3,36.6 459.5,35.4 458.1,35.4 456.6,35.3 455.3,35.2 454.3,35.3 453.3,35.3 452.3,35.3 451.4,35.3 449.6,35.0 447.9,34.7 446.6,34.5 445.2,34.3 443.9,34.2 442.5,34.0 441.3,33.9 440.1,33.8 438.9,33.7 437.7,33.6 437.4,34.0 437.1,34.3 436.8,34.7 435.7,34.7 434.7,34.7 433.7,34.7 432.7,34.7 431.9,34.8 431.1,34.9 430.3,35.0 429.4,35.1 428.6,35.2 424.6,33.8 422.7,33.4 420.9,32.9 419.8,32.9 418.7,32.8 417.6,32.7 416.5,32.8 415.5,32.8 414.5,32.8 413.5,32.9 412.4,32.9 411.3,32.9 410.1,32.9 409.0,32.8 407.8,32.8 406.5,32.7 405.1,32.6 403.8,32.5 403.8,32.0 403.9,31.5 403.9,31.0 402.7,30.9 401.4,30.7 400.2,30.6 399.0,30.4 397.8,30.3 396.4,30.1 395.1,29.9 393.8,29.8 392.5,29.6 392.0,29.8 391.5,30.0 391.0,30.2 390.5,30.5 389.9,30.7 389.1,30.7 388.2,30.8 387.3,30.8 386.4,30.8 385.6,30.9 384.7,31.0 383.9,31.1 383.1,31.2 382.2,31.2 381.9,31.6 381.5,32.1 381.1,32.5 381.8,33.4 380.7,33.3 379.6,33.2 378.5,33.1 377.4,33.1 376.4,33.0 375.3,32.9 376.8,34.2 375.4,34.0 373.9,33.9 373.4,34.3 372.8,34.7 371.2,34.3 369.6,33.9 368.0,33.5 367.6,34.2 367.1,35.0 366.6,35.7 367.2,36.7 367.8,37.8 366.2,37.4 364.5,36.9 363.3,36.8 362.1,36.7 360.8,36.6 359.6,36.5 358.4,36.4 357.5,37.0 356.7,37.7 355.7,37.8 354.7,37.8 353.7,37.9 352.6,38.0 351.7,38.1 350.7,38.3 349.7,38.4 348.7,38.5 347.4,38.3 346.1,38.2 344.8,38.0 343.5,37.8 342.6,38.0 341.6,38.2 343.2,39.9 342.3,40.4 341.4,41.0 340.5,41.6 339.6,42.2 338.3,42.2 337.1,42.3 335.8,42.3 333.3,40.8 331.1,39.8 332.2,39.9 333.3,40.0 334.5,40.2 335.6,40.3 336.6,40.2 337.7,40.1 338.7,40.0 339.7,39.9 338.7,38.6 337.1,38.0 335.5,37.5 334.4,37.3 333.3,37.2 332.2,37.1 331.1,37.0 330.0,36.8 328.9,36.7 327.8,36.6 326.7,36.5 325.6,36.4 324.3,36.0 322.9,35.6 321.6,35.1 320.5,35.3 319.4,35.5 318.4,35.7 317.3,35.8 316.2,36.0 315.2,36.4 314.3,36.8 313.3,37.3 312.1,37.8 310.9,38.3 310.0,39.7 309.2,41.1 308.2,41.9 307.1,42.7 306.1,43.5 305.0,43.9 303.9,44.3 302.8,44.6 301.7,45.0 301.5,46.5 301.3,48.0 302.3,49.6 303.7,50.7 305.1,50.6 306.4,49.7 307.7,48.9 308.6,50.3 309.4,51.4 310.4,53.1 311.1,54.4 312.7,54.2 313.9,53.5 315.2,52.8 315.0,50.8 316.2,49.7 317.3,48.6 316.2,47.3 315.1,46.0 315.5,44.5 316.6,43.8 317.6,43.0 318.7,42.3 319.8,40.8 321.0,40.8 322.2,40.8 323.3,41.7 322.1,42.6 320.9,43.6 319.7,44.5 319.7,46.0 321.4,47.7 322.9,47.7 324.3,47.7 325.4,47.6 326.6,47.5 327.7,47.3 329.6,48.1 328.0,48.6 326.6,48.7 325.3,48.7 324.0,48.8 322.9,49.3 323.1,50.4 324.1,51.0 323.6,51.8 321.5,51.4 320.5,52.4 321.0,54.7 319.7,55.2 319.1,55.8 317.9,55.5 316.7,55.6 315.5,55.7 314.1,56.1 312.8,56.6 311.4,56.3 310.1,56.1 308.8,56.4 308.2,55.8 307.6,55.2 307.9,54.2 307.9,52.8 307.9,51.4 306.8,51.9 305.2,52.8 305.9,55.1 306.2,56.4 304.0,57.2 302.8,57.4 301.6,57.6 301.1,59.1 299.8,60.3 298.6,60.8 297.5,62.2 295.8,63.2 293.9,63.2 293.1,64.7 291.3,64.9 289.5,65.1 290.2,66.0 291.4,66.5 292.7,67.0 294.0,69.0 293.8,71.5 293.3,73.3 291.4,73.3 289.6,73.3 288.1,73.2 286.6,73.0 285.0,72.8ZM288.4,62.4 290.1,62.0 291.8,61.6 293.1,61.4 294.4,61.2 295.8,61.0 297.1,60.8 297.6,58.4 295.9,57.2 294.9,55.7 293.3,53.8 292.5,53.1 293.4,51.2 291.4,49.9 289.7,49.9 288.2,51.4 288.8,53.5 289.7,54.9 291.7,55.5 291.8,57.3 289.9,57.5 290.3,59.0 288.9,59.9 290.2,60.1 291.4,60.3 289.9,60.8ZM288.1,59.3 288.0,56.6 288.7,55.2 286.7,54.5 285.2,55.4 283.3,56.4 283.1,57.9 282.8,59.4 285.0,60.0 286.5,59.7ZM269.3,41.1 270.5,40.6 271.7,40.1 272.8,40.1 273.9,40.1 275.0,40.0 276.0,40.0 277.1,40.0 278.2,40.0 279.4,40.7 280.7,41.5 278.9,42.5 277.5,42.9 276.1,43.3 274.6,43.6 273.5,43.5 272.4,43.4 271.3,43.3 270.3,43.1ZM475.4,90.0 476.4,87.3 477.7,87.2 479.1,87.2 480.4,87.1 480.7,84.0 482.4,82.9 482.3,80.9 482.2,78.9 481.2,76.6 483.1,77.1 484.6,79.0 486.0,81.0 485.5,82.4 487.1,85.5 487.9,87.7 486.8,88.4 485.3,88.8 483.3,88.9 481.8,90.8 480.0,90.2 478.2,89.7 476.9,89.9 475.7,90.2ZM474.2,91.0 475.7,90.2 478.1,93.4 477.0,95.3 475.1,92.8ZM478.4,91.9 479.5,91.2 480.5,90.4 478.2,89.9ZM480.8,76.6 481.8,74.9 484.7,75.7 485.6,74.6 486.5,73.5 484.0,72.3 481.5,71.1 478.9,70.0 480.0,71.8 481.0,73.7 479.6,74.9ZM478.5,69.0 479.8,68.1 478.4,66.5 476.9,64.9 475.5,63.3 474.8,61.0 472.8,59.3 470.8,57.6 468.6,56.0 469.9,57.9 471.4,60.2 472.7,61.7 474.1,63.3 475.4,64.9 477.0,66.9ZM467.3,111.1 467.4,108.9 467.5,106.8 469.0,107.2 469.0,109.3 469.0,111.5 468.7,113.3ZM452.5,118.6 454.8,116.9 455.8,117.8 454.1,120.7ZM413.0,141.4 413.1,137.7 414.7,140.2 416.0,143.1 414.2,145.6 413.3,143.7ZM470.1,124.7 470.1,122.4 470.1,120.1 472.4,120.1 472.7,123.1 472.6,125.7 474.8,128.7 476.9,131.2 475.4,130.6 473.8,130.1 472.3,129.6 471.5,127.9ZM475.3,143.5 477.4,141.9 478.4,141.0 480.0,138.0 481.0,140.4 482.0,142.9 480.6,146.0 478.4,144.7 477.6,142.1ZM474.3,133.6 476.4,136.3 478.8,134.3 479.9,137.3 477.7,137.7 475.6,138.4 474.6,136.1ZM457.3,154.3 459.6,154.7 461.0,153.0 462.4,151.4 463.9,149.5 465.2,147.6 467.5,143.7 469.5,145.4 471.4,147.0 469.7,149.1 469.3,151.8 470.2,153.9 471.1,155.9 469.6,156.3 468.7,158.7 467.7,161.1 467.7,163.2 467.6,165.3 466.1,166.3 464.6,165.3 462.6,164.7 460.5,164.2 458.1,162.4 457.5,159.0 456.6,157.0ZM436.1,146.4 437.8,146.8 439.4,147.2 441.0,149.7 442.5,151.8 444.0,153.9 445.9,156.4 447.8,159.0 449.9,162.8 452.1,164.6 451.9,167.3 451.6,170.0 449.7,170.2 448.1,168.3 446.6,166.3 444.8,163.0 443.8,160.5 442.9,158.0 441.1,154.3 438.8,150.7 437.5,148.6ZM450.6,172.1 451.9,170.2 453.7,170.7 455.5,171.3 456.9,171.8 458.4,172.3 459.9,172.3 461.5,172.3 464.2,173.9 464.1,176.0 462.4,175.6 460.7,175.3 458.9,175.0 457.5,174.7 456.0,174.4 454.6,174.1 453.1,173.7 451.7,173.3ZM471.7,169.6 471.9,167.4 472.0,165.3 471.0,163.8 471.6,160.9 472.2,158.0 474.1,155.3 475.9,155.1 477.7,154.9 479.5,154.7 480.6,154.9 479.5,157.2 477.8,157.1 476.1,157.0 474.4,157.0 475.1,159.9 477.8,159.7 475.1,161.9 475.7,164.6 476.4,167.3 474.3,163.8 473.8,166.6 473.3,169.4ZM489.1,160.9 491.4,158.8 493.9,159.9 494.4,162.4 494.9,164.8 497.1,163.0 499.2,161.1 500.7,161.9 502.3,162.6 503.9,163.4 505.3,164.2 506.8,165.0 508.2,165.9 510.7,169.2 513.0,170.8 513.3,174.6 514.6,176.9 515.8,179.3 514.4,179.2 512.9,179.1 511.0,176.4 509.5,175.1 507.9,173.7 506.3,176.6 504.6,176.7 502.9,176.8 501.5,175.8 500.2,174.8 499.5,171.9 498.9,169.0 497.1,168.0 495.3,167.1 493.1,165.9 491.2,166.5 490.5,163.8 492.8,162.8 490.3,161.1ZM477.7,179.1 479.8,175.6 481.3,175.5 482.9,175.4 481.1,176.5 479.3,177.6ZM458.4,202.9 459.3,202.5 461.4,201.3 463.6,200.1 465.2,199.6 466.9,199.1 468.6,198.5 470.2,198.0 471.6,195.9 472.9,193.9 474.9,192.9 476.8,190.4 478.7,187.9 480.2,187.4 481.7,186.8 483.0,187.9 484.3,188.9 485.0,186.8 485.7,184.8 487.6,184.1 489.6,183.4 491.1,183.2 492.6,183.1 494.0,182.9 495.5,182.8 494.4,185.4 493.1,188.9 494.3,190.1 495.5,191.3 497.5,193.7 499.8,193.9 500.6,191.9 501.4,189.9 502.2,187.9 502.8,184.0 504.7,180.1 504.9,182.2 505.1,184.3 505.2,186.4 507.4,188.9 507.3,190.9 507.3,192.9 507.2,194.9 507.0,197.0 508.5,198.3 510.0,199.5 510.7,201.7 511.3,203.9 512.3,206.4 513.2,208.8 512.7,211.1 512.0,213.4 511.4,215.6 510.0,218.0 508.5,220.4 506.1,223.0 503.7,225.6 501.9,227.9 500.1,230.1 498.3,232.3 496.4,232.8 494.4,233.2 491.7,235.2 490.7,234.3 489.6,233.4 488.3,233.4 487.0,233.3 485.7,233.2 484.9,231.4 485.3,228.7 483.8,228.9 485.6,226.0 483.7,227.6 481.7,227.6 483.9,225.4 486.2,223.2 483.7,225.3 481.2,227.4 481.1,225.6 480.9,223.7 479.6,222.5 478.2,221.3 476.8,221.4 475.3,221.5 473.9,221.7 472.1,222.3 470.3,222.9 468.5,223.5 466.7,224.1 464.7,224.8 462.7,225.6 461.0,226.2 459.4,226.8 457.8,227.4 456.0,226.9 454.3,226.3 453.9,225.0 456.1,222.2 456.3,219.9 456.5,217.5 456.7,215.6 456.8,213.7 456.8,211.7 456.9,208.8 457.7,206.9 458.5,204.9ZM487.8,238.0 489.3,238.1 490.9,238.2 492.5,238.4 491.0,240.4 489.5,242.3 487.1,243.0 487.0,240.6ZM532.5,226.7 533.2,229.6 533.3,232.3 535.0,232.5 536.6,232.7 534.0,235.4 532.1,235.9 529.7,237.8 527.3,239.6 527.0,238.9 529.3,236.4 528.5,235.4 531.0,233.2 532.2,230.5 532.4,228.6ZM525.4,237.7 526.5,239.1 523.2,242.0 520.7,243.3 518.2,244.5 515.2,247.0 513.5,247.5 511.8,248.0 511.1,247.3 510.4,246.5 515.1,243.7 517.7,242.4 520.3,241.1 523.8,238.5ZM305.6,29.0 306.5,28.8 307.4,28.7 308.2,28.5 309.1,28.3 309.9,28.1 310.8,28.1 311.6,28.0 312.5,28.0 313.4,27.9 314.3,27.9 315.1,27.9 316.1,27.9 317.0,28.0 317.9,28.0 318.8,28.1 319.8,28.1 319.0,28.3 318.2,28.5 317.5,28.8 316.7,29.0 315.9,29.2 315.0,29.5 314.2,29.7 313.3,29.9 312.5,30.2 311.6,30.4 310.6,30.2 309.6,29.9 308.6,29.7 307.6,29.5 306.6,29.3ZM348.4,34.7 349.1,34.1 349.8,33.5 350.5,32.9 351.0,32.1 351.4,31.2 352.2,31.1 353.0,31.0 353.9,30.8 354.7,30.7 355.5,30.6 356.3,30.5 357.2,30.4 358.2,30.3 359.1,30.2 360.1,30.1 359.3,30.3 358.5,30.5 357.7,30.6 356.9,30.8 356.1,31.0 355.3,31.2 354.5,31.4 354.1,32.0 353.7,32.6 353.2,33.2 352.7,33.8 352.4,34.7 352.1,35.6 350.9,35.3 349.6,35.0ZM382.5,28.4 383.0,28.2 383.4,28.0 383.8,27.8 384.2,27.6 385.6,27.8 387.1,28.1 388.5,28.3 390.0,28.5 391.5,28.7 390.9,28.9 390.4,29.0 389.8,29.2 389.3,29.4 387.9,29.2 386.5,29.0 385.2,28.8 383.9,28.6ZM429.0,31.6 429.7,31.5 430.4,31.3 431.1,31.2 431.8,31.0 433.0,31.1 434.3,31.3 435.6,31.4 436.9,31.5 438.2,31.6 437.6,31.8 437.0,32.0 436.5,32.1 435.9,32.3 435.3,32.5 434.7,32.7 432.8,32.3 430.9,32.0ZM97.8,41.7 98.4,42.0 99.0,42.3 100.0,42.3 101.0,42.4 102.0,42.4 103.1,42.5 104.1,42.5 107.6,41.1 109.2,40.8 110.8,40.5 110.8,40.0 110.7,39.4 110.2,39.1 109.6,38.9 109.1,38.6 108.6,38.3 108.0,38.1 107.3,37.9 106.7,37.7 106.1,37.5 103.3,38.8 100.5,40.2ZM477.6,34.7 479.0,34.9 480.0,35.3 478.8,35.2ZM91.3,56.9 92.1,57.2 94.0,56.5 93.1,56.3ZM87.9,57.8 88.7,58.1 90.6,57.4 89.7,57.2ZM84.6,58.6 85.5,58.8 87.3,58.1 86.4,57.9ZM80.1,59.3 81.0,59.6 82.8,58.9 81.9,58.7ZM76.5,59.8 77.4,60.0 79.2,59.3 78.4,59.1ZM73.9,60.0 74.7,60.2 76.6,59.5 75.7,59.3ZM516.5,60.3 517.8,60.5 518.2,59.8 516.8,59.6ZM513.3,59.7 514.7,59.9 515.1,59.2 513.7,59.0ZM507.7,58.4 509.1,58.7 509.4,58.0 508.1,57.8Z" fill="#eef0ef" stroke="#5a5d5f" stroke-width="0.5" fill-rule="nonzero"/><path d="M332.6,77.1 332.1,74.9 332.9,72.7 333.8,70.3 335.1,68.1 337.4,69.0 339.4,71.6 341.5,70.6 342.9,70.9 344.2,71.1 345.7,72.1 347.2,73.2 348.8,74.8 350.4,76.4 348.6,77.5 347.3,77.5 346.0,77.6 344.5,76.9 343.1,76.2 341.7,76.0 340.4,75.7 339.1,75.9 337.8,76.1 336.5,76.6 335.3,77.1 334.0,77.1ZM356.2,71.5 356.8,69.5 358.4,68.1 359.9,67.7 361.4,67.3 363.4,67.7 364.1,70.1 362.0,70.6 363.0,72.3 364.1,74.0 365.1,75.7 366.3,77.5 367.6,80.1 368.1,82.0 368.5,84.0 366.6,84.6 364.7,85.1 363.2,84.3 361.7,83.5 361.5,81.2 361.2,78.9 362.5,78.7 359.7,76.1 357.8,74.0Z" fill="#fff" stroke="#5a5d5f" stroke-width="0.5"/><g transform="translate(0.5,0.5)"><path d="M216 28h1v1h-1zM224 29h1v1h-1zM392 34h1v1h-1zM408 34h1v1h-1zM435 34h1v1h-1zM446 34h1v1h-1zM390 35h1v1h-1zM394 35h1v1h-1zM422 35h1v1h-1zM432 35h1v1h-1zM434 35h1v1h-1zM442 35h1v1h-1zM446 35h4v1h-4zM322 36h1v1h-1zM390 36h1v1h-1zM395 36h1v1h-1zM406 36h1v1h-1zM417 36h1v1h-1zM424 36h1v1h-1zM435 36h1v1h-1zM442 36h2v1h-2zM446 36h3v1h-3zM452 36h2v1h-2zM465 36h1v1h-1zM123 37h1v1h-1zM138 37h1v1h-1zM176 37h1v1h-1zM187 37h1v1h-1zM391 37h2v1h-2zM400 37h1v1h-1zM404 37h1v1h-1zM407 37h1v1h-1zM415 37h1v1h-1zM426 37h1v1h-1zM428 37h1v1h-1zM432 37h1v1h-1zM447 37h2v1h-2zM464 37h1v1h-1zM142 38h1v1h-1zM353 38h1v1h-1zM399 38h3v1h-3zM403 38h2v1h-2zM414 38h1v1h-1zM416 38h1v1h-1zM423 38h1v1h-1zM428 38h1v1h-1zM432 38h1v1h-1zM446 38h1v1h-1zM448 38h2v1h-2zM453 38h1v1h-1zM466 38h2v1h-2zM121 39h1v1h-1zM138 39h1v1h-1zM141 39h1v1h-1zM197 39h1v1h-1zM355 39h1v1h-1zM393 39h1v1h-1zM395 39h2v1h-2zM407 39h1v1h-1zM409 39h1v1h-1zM411 39h2v1h-2zM416 39h1v1h-1zM420 39h2v1h-2zM423 39h1v1h-1zM428 39h1v1h-1zM430 39h1v1h-1zM436 39h1v1h-1zM448 39h1v1h-1zM450 39h1v1h-1zM467 39h1v1h-1zM110 40h1v1h-1zM130 40h1v1h-1zM138 40h2v1h-2zM310 40h2v1h-2zM318 40h2v1h-2zM328 40h1v1h-1zM330 40h1v1h-1zM407 40h1v1h-1zM415 40h1v1h-1zM426 40h1v1h-1zM428 40h1v1h-1zM434 40h2v1h-2zM439 40h2v1h-2zM445 40h2v1h-2zM452 40h1v1h-1zM456 40h2v1h-2zM467 40h1v1h-1zM118 41h1v1h-1zM122 41h1v1h-1zM125 41h1v1h-1zM130 41h1v1h-1zM140 41h1v1h-1zM154 41h1v1h-1zM329 41h1v1h-1zM333 41h2v1h-2zM353 41h2v1h-2zM393 41h1v1h-1zM400 41h2v1h-2zM403 41h1v1h-1zM405 41h1v1h-1zM413 41h2v1h-2zM418 41h1v1h-1zM420 41h1v1h-1zM423 41h1v1h-1zM426 41h1v1h-1zM428 41h1v1h-1zM431 41h2v1h-2zM435 41h1v1h-1zM439 41h1v1h-1zM441 41h3v1h-3zM450 41h1v1h-1zM466 41h1v1h-1zM478 41h1v1h-1zM125 42h2v1h-2zM137 42h1v1h-1zM312 42h2v1h-2zM326 42h2v1h-2zM338 42h1v1h-1zM340 42h2v1h-2zM352 42h1v1h-1zM355 42h1v1h-1zM363 42h1v1h-1zM390 42h1v1h-1zM403 42h1v1h-1zM405 42h1v1h-1zM410 42h4v1h-4zM423 42h1v1h-1zM425 42h1v1h-1zM437 42h1v1h-1zM440 42h3v1h-3zM471 42h1v1h-1zM113 43h2v1h-2zM116 43h2v1h-2zM119 43h1v1h-1zM123 43h1v1h-1zM125 43h1v1h-1zM127 43h1v1h-1zM130 43h1v1h-1zM134 43h2v1h-2zM137 43h1v1h-1zM144 43h1v1h-1zM217 43h1v1h-1zM324 43h1v1h-1zM329 43h1v1h-1zM335 43h1v1h-1zM339 43h1v1h-1zM343 43h1v1h-1zM351 43h1v1h-1zM363 43h1v1h-1zM392 43h1v1h-1zM397 43h1v1h-1zM408 43h3v1h-3zM416 43h2v1h-2zM423 43h1v1h-1zM426 43h1v1h-1zM429 43h1v1h-1zM432 43h1v1h-1zM434 43h1v1h-1zM438 43h1v1h-1zM442 43h2v1h-2zM446 43h1v1h-1zM452 43h1v1h-1zM455 43h1v1h-1zM474 43h2v1h-2zM114 44h1v1h-1zM116 44h1v1h-1zM118 44h2v1h-2zM122 44h1v1h-1zM126 44h1v1h-1zM130 44h2v1h-2zM307 44h1v1h-1zM324 44h1v1h-1zM329 44h3v1h-3zM337 44h1v1h-1zM341 44h3v1h-3zM347 44h1v1h-1zM363 44h1v1h-1zM376 44h1v1h-1zM392 44h1v1h-1zM397 44h3v1h-3zM402 44h2v1h-2zM406 44h2v1h-2zM409 44h1v1h-1zM413 44h5v1h-5zM419 44h1v1h-1zM424 44h2v1h-2zM428 44h1v1h-1zM430 44h1v1h-1zM437 44h2v1h-2zM441 44h1v1h-1zM443 44h1v1h-1zM447 44h1v1h-1zM449 44h1v1h-1zM452 44h1v1h-1zM454 44h1v1h-1zM467 44h1v1h-1zM478 44h1v1h-1zM483 44h1v1h-1zM109 45h2v1h-2zM115 45h2v1h-2zM118 45h3v1h-3zM123 45h1v1h-1zM131 45h1v1h-1zM135 45h1v1h-1zM145 45h1v1h-1zM154 45h1v1h-1zM156 45h1v1h-1zM319 45h1v1h-1zM323 45h1v1h-1zM326 45h1v1h-1zM344 45h1v1h-1zM361 45h1v1h-1zM386 45h1v1h-1zM399 45h1v1h-1zM402 45h1v1h-1zM404 45h1v1h-1zM406 45h2v1h-2zM409 45h1v1h-1zM416 45h2v1h-2zM422 45h1v1h-1zM424 45h2v1h-2zM427 45h4v1h-4zM437 45h2v1h-2zM443 45h1v1h-1zM445 45h2v1h-2zM448 45h1v1h-1zM451 45h1v1h-1zM477 45h1v1h-1zM125 46h1v1h-1zM128 46h1v1h-1zM133 46h1v1h-1zM342 46h1v1h-1zM355 46h1v1h-1zM388 46h1v1h-1zM395 46h1v1h-1zM398 46h1v1h-1zM401 46h2v1h-2zM404 46h4v1h-4zM409 46h1v1h-1zM411 46h2v1h-2zM415 46h2v1h-2zM419 46h1v1h-1zM423 46h1v1h-1zM430 46h1v1h-1zM440 46h1v1h-1zM442 46h2v1h-2zM448 46h3v1h-3zM473 46h1v1h-1zM485 46h1v1h-1zM119 47h5v1h-5zM128 47h2v1h-2zM151 47h1v1h-1zM155 47h1v1h-1zM169 47h1v1h-1zM313 47h1v1h-1zM331 47h1v1h-1zM340 47h1v1h-1zM349 47h2v1h-2zM391 47h1v1h-1zM399 47h1v1h-1zM402 47h5v1h-5zM408 47h2v1h-2zM411 47h2v1h-2zM416 47h3v1h-3zM420 47h2v1h-2zM423 47h2v1h-2zM427 47h3v1h-3zM433 47h1v1h-1zM435 47h2v1h-2zM438 47h5v1h-5zM444 47h1v1h-1zM109 48h1v1h-1zM137 48h1v1h-1zM145 48h1v1h-1zM149 48h1v1h-1zM151 48h1v1h-1zM155 48h2v1h-2zM167 48h1v1h-1zM171 48h1v1h-1zM327 48h1v1h-1zM336 48h1v1h-1zM340 48h2v1h-2zM343 48h1v1h-1zM345 48h6v1h-6zM383 48h1v1h-1zM394 48h1v1h-1zM397 48h7v1h-7zM405 48h2v1h-2zM408 48h1v1h-1zM410 48h1v1h-1zM412 48h1v1h-1zM414 48h1v1h-1zM418 48h1v1h-1zM421 48h5v1h-5zM427 48h4v1h-4zM435 48h1v1h-1zM438 48h2v1h-2zM442 48h1v1h-1zM453 48h1v1h-1zM468 48h1v1h-1zM482 48h1v1h-1zM113 49h1v1h-1zM116 49h1v1h-1zM148 49h1v1h-1zM152 49h1v1h-1zM175 49h1v1h-1zM311 49h1v1h-1zM329 49h1v1h-1zM333 49h1v1h-1zM340 49h1v1h-1zM343 49h1v1h-1zM350 49h1v1h-1zM352 49h1v1h-1zM360 49h1v1h-1zM366 49h1v1h-1zM392 49h1v1h-1zM394 49h1v1h-1zM396 49h1v1h-1zM399 49h1v1h-1zM403 49h5v1h-5zM410 49h1v1h-1zM416 49h3v1h-3zM420 49h1v1h-1zM425 49h1v1h-1zM427 49h1v1h-1zM429 49h8v1h-8zM439 49h2v1h-2zM443 49h7v1h-7zM454 49h1v1h-1zM481 49h2v1h-2zM485 49h1v1h-1zM112 50h2v1h-2zM140 50h1v1h-1zM145 50h1v1h-1zM148 50h1v1h-1zM155 50h1v1h-1zM160 50h1v1h-1zM167 50h1v1h-1zM311 50h2v1h-2zM324 50h1v1h-1zM331 50h1v1h-1zM336 50h2v1h-2zM341 50h1v1h-1zM343 50h1v1h-1zM350 50h2v1h-2zM353 50h2v1h-2zM365 50h2v1h-2zM374 50h1v1h-1zM389 50h2v1h-2zM394 50h1v1h-1zM400 50h1v1h-1zM404 50h1v1h-1zM407 50h1v1h-1zM409 50h3v1h-3zM414 50h5v1h-5zM420 50h1v1h-1zM424 50h1v1h-1zM427 50h1v1h-1zM429 50h1v1h-1zM431 50h1v1h-1zM435 50h5v1h-5zM442 50h4v1h-4zM448 50h2v1h-2zM451 50h2v1h-2zM454 50h1v1h-1zM460 50h1v1h-1zM481 50h4v1h-4zM147 51h4v1h-4zM154 51h2v1h-2zM173 51h3v1h-3zM206 51h1v1h-1zM292 51h1v1h-1zM309 51h1v1h-1zM311 51h1v1h-1zM314 51h1v1h-1zM325 51h1v1h-1zM330 51h3v1h-3zM334 51h6v1h-6zM343 51h1v1h-1zM348 51h1v1h-1zM350 51h1v1h-1zM354 51h1v1h-1zM365 51h1v1h-1zM381 51h1v1h-1zM384 51h1v1h-1zM390 51h1v1h-1zM400 51h1v1h-1zM402 51h4v1h-4zM407 51h2v1h-2zM411 51h6v1h-6zM418 51h3v1h-3zM425 51h1v1h-1zM427 51h1v1h-1zM429 51h2v1h-2zM432 51h1v1h-1zM441 51h1v1h-1zM447 51h3v1h-3zM451 51h2v1h-2zM481 51h1v1h-1zM484 51h2v1h-2zM487 51h1v1h-1zM148 52h2v1h-2zM153 52h2v1h-2zM156 52h1v1h-1zM158 52h2v1h-2zM292 52h1v1h-1zM321 52h1v1h-1zM325 52h1v1h-1zM328 52h1v1h-1zM331 52h4v1h-4zM337 52h1v1h-1zM339 52h2v1h-2zM342 52h1v1h-1zM346 52h4v1h-4zM351 52h2v1h-2zM367 52h1v1h-1zM373 52h1v1h-1zM378 52h1v1h-1zM400 52h5v1h-5zM408 52h2v1h-2zM419 52h2v1h-2zM422 52h1v1h-1zM424 52h1v1h-1zM427 52h4v1h-4zM433 52h1v1h-1zM435 52h1v1h-1zM437 52h1v1h-1zM441 52h2v1h-2zM445 52h1v1h-1zM447 52h2v1h-2zM452 52h5v1h-5zM483 52h2v1h-2zM143 53h1v1h-1zM146 53h3v1h-3zM153 53h1v1h-1zM155 53h2v1h-2zM164 53h1v1h-1zM329 53h2v1h-2zM332 53h1v1h-1zM337 53h2v1h-2zM340 53h1v1h-1zM342 53h5v1h-5zM349 53h1v1h-1zM353 53h1v1h-1zM365 53h3v1h-3zM370 53h1v1h-1zM373 53h1v1h-1zM375 53h1v1h-1zM377 53h2v1h-2zM383 53h2v1h-2zM392 53h2v1h-2zM400 53h1v1h-1zM402 53h3v1h-3zM409 53h5v1h-5zM416 53h1v1h-1zM418 53h1v1h-1zM420 53h1v1h-1zM422 53h1v1h-1zM424 53h1v1h-1zM426 53h1v1h-1zM430 53h1v1h-1zM433 53h2v1h-2zM438 53h2v1h-2zM445 53h3v1h-3zM449 53h1v1h-1zM453 53h1v1h-1zM484 53h2v1h-2zM145 54h1v1h-1zM147 54h1v1h-1zM156 54h3v1h-3zM163 54h1v1h-1zM191 54h1v1h-1zM220 54h1v1h-1zM329 54h3v1h-3zM334 54h2v1h-2zM340 54h1v1h-1zM346 54h1v1h-1zM360 54h1v1h-1zM365 54h1v1h-1zM367 54h2v1h-2zM372 54h1v1h-1zM374 54h1v1h-1zM378 54h1v1h-1zM387 54h1v1h-1zM391 54h1v1h-1zM396 54h1v1h-1zM404 54h1v1h-1zM406 54h1v1h-1zM408 54h5v1h-5zM414 54h2v1h-2zM417 54h1v1h-1zM419 54h2v1h-2zM433 54h1v1h-1zM435 54h1v1h-1zM437 54h4v1h-4zM442 54h1v1h-1zM446 54h2v1h-2zM450 54h2v1h-2zM457 54h1v1h-1zM483 54h1v1h-1zM489 54h1v1h-1zM142 55h1v1h-1zM146 55h1v1h-1zM149 55h3v1h-3zM154 55h2v1h-2zM159 55h1v1h-1zM167 55h1v1h-1zM202 55h1v1h-1zM331 55h1v1h-1zM337 55h1v1h-1zM339 55h1v1h-1zM341 55h4v1h-4zM350 55h1v1h-1zM352 55h1v1h-1zM361 55h1v1h-1zM365 55h4v1h-4zM370 55h1v1h-1zM376 55h1v1h-1zM379 55h1v1h-1zM385 55h1v1h-1zM390 55h1v1h-1zM403 55h2v1h-2zM406 55h5v1h-5zM413 55h2v1h-2zM417 55h3v1h-3zM422 55h1v1h-1zM425 55h4v1h-4zM433 55h1v1h-1zM435 55h3v1h-3zM441 55h1v1h-1zM445 55h3v1h-3zM449 55h3v1h-3zM455 55h2v1h-2zM458 55h1v1h-1zM489 55h1v1h-1zM142 56h1v1h-1zM152 56h4v1h-4zM166 56h1v1h-1zM202 56h1v1h-1zM350 56h1v1h-1zM352 56h3v1h-3zM358 56h1v1h-1zM364 56h1v1h-1zM366 56h2v1h-2zM369 56h1v1h-1zM376 56h1v1h-1zM390 56h2v1h-2zM402 56h4v1h-4zM408 56h2v1h-2zM413 56h1v1h-1zM418 56h1v1h-1zM421 56h1v1h-1zM424 56h1v1h-1zM426 56h3v1h-3zM430 56h2v1h-2zM433 56h1v1h-1zM435 56h1v1h-1zM442 56h2v1h-2zM445 56h2v1h-2zM449 56h2v1h-2zM454 56h3v1h-3zM485 56h1v1h-1zM488 56h1v1h-1zM148 57h1v1h-1zM150 57h2v1h-2zM171 57h1v1h-1zM202 57h1v1h-1zM208 57h1v1h-1zM211 57h1v1h-1zM316 57h1v1h-1zM330 57h1v1h-1zM339 57h3v1h-3zM355 57h1v1h-1zM362 57h1v1h-1zM366 57h2v1h-2zM371 57h1v1h-1zM373 57h1v1h-1zM387 57h1v1h-1zM389 57h2v1h-2zM394 57h1v1h-1zM398 57h2v1h-2zM401 57h1v1h-1zM404 57h1v1h-1zM408 57h2v1h-2zM412 57h2v1h-2zM416 57h2v1h-2zM419 57h3v1h-3zM423 57h1v1h-1zM426 57h3v1h-3zM437 57h1v1h-1zM439 57h1v1h-1zM441 57h3v1h-3zM445 57h4v1h-4zM452 57h1v1h-1zM454 57h2v1h-2zM457 57h1v1h-1zM461 57h1v1h-1zM464 57h3v1h-3zM144 58h1v1h-1zM147 58h2v1h-2zM175 58h1v1h-1zM187 58h1v1h-1zM203 58h2v1h-2zM208 58h1v1h-1zM212 58h1v1h-1zM292 58h1v1h-1zM302 58h1v1h-1zM330 58h1v1h-1zM341 58h1v1h-1zM355 58h1v1h-1zM357 58h1v1h-1zM368 58h1v1h-1zM370 58h1v1h-1zM375 58h1v1h-1zM383 58h1v1h-1zM389 58h2v1h-2zM393 58h1v1h-1zM409 58h1v1h-1zM411 58h1v1h-1zM416 58h8v1h-8zM426 58h1v1h-1zM430 58h2v1h-2zM435 58h4v1h-4zM440 58h3v1h-3zM445 58h1v1h-1zM447 58h3v1h-3zM452 58h1v1h-1zM455 58h2v1h-2zM459 58h2v1h-2zM462 58h6v1h-6zM470 58h1v1h-1zM200 59h1v1h-1zM212 59h1v1h-1zM306 59h1v1h-1zM353 59h1v1h-1zM356 59h3v1h-3zM360 59h1v1h-1zM363 59h1v1h-1zM367 59h2v1h-2zM373 59h1v1h-1zM381 59h3v1h-3zM389 59h2v1h-2zM394 59h1v1h-1zM399 59h1v1h-1zM404 59h3v1h-3zM409 59h4v1h-4zM414 59h1v1h-1zM417 59h5v1h-5zM423 59h2v1h-2zM430 59h5v1h-5zM436 59h1v1h-1zM440 59h3v1h-3zM444 59h5v1h-5zM450 59h2v1h-2zM453 59h1v1h-1zM456 59h1v1h-1zM458 59h3v1h-3zM462 59h1v1h-1zM465 59h2v1h-2zM469 59h1v1h-1zM143 60h1v1h-1zM148 60h1v1h-1zM170 60h1v1h-1zM176 60h1v1h-1zM179 60h2v1h-2zM219 60h1v1h-1zM303 60h1v1h-1zM306 60h1v1h-1zM322 60h1v1h-1zM344 60h1v1h-1zM351 60h1v1h-1zM361 60h1v1h-1zM363 60h1v1h-1zM367 60h7v1h-7zM381 60h4v1h-4zM386 60h1v1h-1zM388 60h3v1h-3zM393 60h3v1h-3zM399 60h1v1h-1zM401 60h4v1h-4zM406 60h2v1h-2zM409 60h1v1h-1zM414 60h1v1h-1zM417 60h5v1h-5zM423 60h1v1h-1zM425 60h7v1h-7zM433 60h1v1h-1zM435 60h2v1h-2zM439 60h1v1h-1zM441 60h2v1h-2zM445 60h1v1h-1zM449 60h5v1h-5zM455 60h2v1h-2zM466 60h1v1h-1zM468 60h1v1h-1zM472 60h1v1h-1zM141 61h1v1h-1zM170 61h1v1h-1zM195 61h1v1h-1zM212 61h1v1h-1zM329 61h1v1h-1zM350 61h1v1h-1zM352 61h6v1h-6zM360 61h4v1h-4zM366 61h8v1h-8zM375 61h5v1h-5zM384 61h2v1h-2zM387 61h3v1h-3zM391 61h1v1h-1zM393 61h3v1h-3zM397 61h1v1h-1zM399 61h1v1h-1zM401 61h2v1h-2zM404 61h1v1h-1zM409 61h2v1h-2zM412 61h2v1h-2zM415 61h1v1h-1zM417 61h1v1h-1zM421 61h1v1h-1zM423 61h3v1h-3zM430 61h2v1h-2zM433 61h1v1h-1zM438 61h1v1h-1zM441 61h2v1h-2zM448 61h4v1h-4zM460 61h2v1h-2zM464 61h1v1h-1zM474 61h1v1h-1zM148 62h2v1h-2zM151 62h1v1h-1zM153 62h2v1h-2zM165 62h2v1h-2zM172 62h1v1h-1zM178 62h2v1h-2zM192 62h1v1h-1zM325 62h1v1h-1zM336 62h1v1h-1zM338 62h1v1h-1zM342 62h1v1h-1zM351 62h1v1h-1zM353 62h1v1h-1zM355 62h4v1h-4zM362 62h3v1h-3zM366 62h8v1h-8zM377 62h1v1h-1zM380 62h5v1h-5zM386 62h2v1h-2zM389 62h1v1h-1zM391 62h8v1h-8zM400 62h5v1h-5zM406 62h1v1h-1zM409 62h2v1h-2zM414 62h1v1h-1zM419 62h1v1h-1zM421 62h2v1h-2zM425 62h2v1h-2zM431 62h2v1h-2zM434 62h2v1h-2zM437 62h1v1h-1zM439 62h1v1h-1zM441 62h2v1h-2zM445 62h1v1h-1zM450 62h1v1h-1zM453 62h1v1h-1zM458 62h1v1h-1zM463 62h3v1h-3zM468 62h1v1h-1zM474 62h1v1h-1zM148 63h1v1h-1zM151 63h1v1h-1zM156 63h1v1h-1zM163 63h1v1h-1zM165 63h1v1h-1zM197 63h1v1h-1zM222 63h1v1h-1zM305 63h1v1h-1zM320 63h2v1h-2zM325 63h1v1h-1zM331 63h1v1h-1zM339 63h1v1h-1zM351 63h5v1h-5zM357 63h4v1h-4zM363 63h5v1h-5zM370 63h7v1h-7zM378 63h8v1h-8zM387 63h3v1h-3zM391 63h2v1h-2zM394 63h5v1h-5zM400 63h7v1h-7zM410 63h1v1h-1zM414 63h2v1h-2zM418 63h2v1h-2zM427 63h1v1h-1zM429 63h1v1h-1zM433 63h1v1h-1zM435 63h1v1h-1zM437 63h1v1h-1zM439 63h3v1h-3zM449 63h1v1h-1zM455 63h1v1h-1zM457 63h2v1h-2zM461 63h1v1h-1zM465 63h1v1h-1zM140 64h1v1h-1zM143 64h1v1h-1zM145 64h1v1h-1zM154 64h1v1h-1zM177 64h1v1h-1zM179 64h2v1h-2zM189 64h1v1h-1zM193 64h2v1h-2zM201 64h1v1h-1zM203 64h1v1h-1zM205 64h1v1h-1zM320 64h1v1h-1zM328 64h1v1h-1zM330 64h1v1h-1zM340 64h1v1h-1zM352 64h4v1h-4zM357 64h2v1h-2zM360 64h4v1h-4zM365 64h4v1h-4zM371 64h2v1h-2zM375 64h3v1h-3zM380 64h15v1h-15zM397 64h3v1h-3zM405 64h2v1h-2zM415 64h2v1h-2zM421 64h2v1h-2zM429 64h2v1h-2zM433 64h1v1h-1zM437 64h3v1h-3zM443 64h2v1h-2zM456 64h1v1h-1zM458 64h2v1h-2zM463 64h2v1h-2zM468 64h2v1h-2zM471 64h1v1h-1zM139 65h1v1h-1zM141 65h2v1h-2zM147 65h1v1h-1zM151 65h1v1h-1zM160 65h1v1h-1zM201 65h1v1h-1zM302 65h1v1h-1zM305 65h1v1h-1zM321 65h1v1h-1zM323 65h1v1h-1zM326 65h1v1h-1zM328 65h1v1h-1zM331 65h1v1h-1zM334 65h1v1h-1zM337 65h1v1h-1zM351 65h3v1h-3zM356 65h2v1h-2zM359 65h8v1h-8zM370 65h4v1h-4zM380 65h3v1h-3zM385 65h1v1h-1zM387 65h1v1h-1zM389 65h5v1h-5zM397 65h1v1h-1zM400 65h4v1h-4zM418 65h2v1h-2zM421 65h2v1h-2zM427 65h1v1h-1zM433 65h2v1h-2zM438 65h1v1h-1zM443 65h1v1h-1zM446 65h1v1h-1zM448 65h1v1h-1zM451 65h1v1h-1zM454 65h2v1h-2zM461 65h1v1h-1zM464 65h1v1h-1zM467 65h2v1h-2zM471 65h2v1h-2zM476 65h1v1h-1zM140 66h1v1h-1zM145 66h2v1h-2zM154 66h1v1h-1zM163 66h1v1h-1zM165 66h1v1h-1zM170 66h1v1h-1zM292 66h1v1h-1zM294 66h1v1h-1zM309 66h1v1h-1zM319 66h1v1h-1zM325 66h1v1h-1zM334 66h1v1h-1zM338 66h1v1h-1zM349 66h1v1h-1zM352 66h3v1h-3zM357 66h1v1h-1zM359 66h9v1h-9zM369 66h2v1h-2zM373 66h1v1h-1zM377 66h1v1h-1zM379 66h3v1h-3zM385 66h3v1h-3zM389 66h3v1h-3zM394 66h1v1h-1zM400 66h2v1h-2zM410 66h1v1h-1zM414 66h1v1h-1zM425 66h2v1h-2zM428 66h1v1h-1zM435 66h2v1h-2zM441 66h2v1h-2zM447 66h1v1h-1zM452 66h1v1h-1zM456 66h1v1h-1zM463 66h2v1h-2zM467 66h3v1h-3zM471 66h2v1h-2zM476 66h2v1h-2zM140 67h1v1h-1zM142 67h1v1h-1zM144 67h3v1h-3zM153 67h4v1h-4zM161 67h1v1h-1zM175 67h1v1h-1zM189 67h1v1h-1zM212 67h1v1h-1zM316 67h1v1h-1zM348 67h1v1h-1zM351 67h3v1h-3zM355 67h1v1h-1zM357 67h1v1h-1zM359 67h1v1h-1zM364 67h4v1h-4zM370 67h1v1h-1zM373 67h4v1h-4zM380 67h2v1h-2zM385 67h2v1h-2zM388 67h1v1h-1zM392 67h1v1h-1zM400 67h1v1h-1zM404 67h1v1h-1zM428 67h1v1h-1zM441 67h1v1h-1zM445 67h1v1h-1zM452 67h1v1h-1zM456 67h1v1h-1zM459 67h2v1h-2zM470 67h1v1h-1zM138 68h1v1h-1zM143 68h1v1h-1zM146 68h1v1h-1zM151 68h6v1h-6zM161 68h1v1h-1zM197 68h1v1h-1zM293 68h1v1h-1zM309 68h1v1h-1zM315 68h2v1h-2zM324 68h1v1h-1zM328 68h1v1h-1zM334 68h1v1h-1zM344 68h2v1h-2zM350 68h1v1h-1zM352 68h4v1h-4zM364 68h4v1h-4zM372 68h2v1h-2zM375 68h1v1h-1zM378 68h1v1h-1zM381 68h2v1h-2zM385 68h1v1h-1zM388 68h1v1h-1zM400 68h2v1h-2zM421 68h2v1h-2zM424 68h1v1h-1zM441 68h1v1h-1zM445 68h1v1h-1zM449 68h1v1h-1zM456 68h2v1h-2zM459 68h1v1h-1zM461 68h1v1h-1zM470 68h2v1h-2zM478 68h1v1h-1zM136 69h1v1h-1zM138 69h1v1h-1zM142 69h1v1h-1zM144 69h1v1h-1zM147 69h1v1h-1zM154 69h1v1h-1zM156 69h1v1h-1zM178 69h1v1h-1zM182 69h1v1h-1zM187 69h1v1h-1zM195 69h1v1h-1zM308 69h1v1h-1zM345 69h2v1h-2zM352 69h1v1h-1zM378 69h1v1h-1zM381 69h2v1h-2zM388 69h1v1h-1zM402 69h1v1h-1zM427 69h1v1h-1zM430 69h1v1h-1zM437 69h2v1h-2zM444 69h1v1h-1zM453 69h1v1h-1zM459 69h1v1h-1zM466 69h1v1h-1zM155 70h1v1h-1zM165 70h1v1h-1zM204 70h1v1h-1zM297 70h2v1h-2zM308 70h1v1h-1zM325 70h1v1h-1zM327 70h1v1h-1zM346 70h2v1h-2zM354 70h1v1h-1zM363 70h1v1h-1zM373 70h1v1h-1zM379 70h1v1h-1zM420 70h1v1h-1zM439 70h1v1h-1zM446 70h1v1h-1zM456 70h5v1h-5zM463 70h1v1h-1zM467 70h1v1h-1zM140 71h1v1h-1zM142 71h1v1h-1zM155 71h2v1h-2zM176 71h1v1h-1zM182 71h1v1h-1zM184 71h1v1h-1zM193 71h1v1h-1zM306 71h1v1h-1zM319 71h1v1h-1zM323 71h1v1h-1zM346 71h1v1h-1zM353 71h1v1h-1zM374 71h1v1h-1zM390 71h1v1h-1zM427 71h1v1h-1zM440 71h1v1h-1zM446 71h1v1h-1zM462 71h1v1h-1zM467 71h1v1h-1zM137 72h2v1h-2zM146 72h1v1h-1zM149 72h3v1h-3zM154 72h1v1h-1zM185 72h1v1h-1zM199 72h1v1h-1zM301 72h1v1h-1zM321 72h1v1h-1zM327 72h2v1h-2zM428 72h3v1h-3zM455 72h1v1h-1zM458 72h1v1h-1zM460 72h3v1h-3zM468 72h1v1h-1zM484 72h1v1h-1zM139 73h2v1h-2zM145 73h2v1h-2zM154 73h1v1h-1zM162 73h2v1h-2zM166 73h1v1h-1zM185 73h1v1h-1zM420 73h1v1h-1zM438 73h1v1h-1zM445 73h1v1h-1zM455 73h1v1h-1zM460 73h1v1h-1zM138 74h4v1h-4zM144 74h1v1h-1zM153 74h1v1h-1zM157 74h1v1h-1zM168 74h1v1h-1zM180 74h1v1h-1zM286 74h1v1h-1zM291 74h1v1h-1zM422 74h1v1h-1zM453 74h1v1h-1zM457 74h1v1h-1zM460 74h1v1h-1zM462 74h2v1h-2zM482 74h1v1h-1zM132 75h2v1h-2zM137 75h1v1h-1zM140 75h1v1h-1zM144 75h1v1h-1zM147 75h1v1h-1zM149 75h1v1h-1zM152 75h3v1h-3zM159 75h1v1h-1zM163 75h1v1h-1zM286 75h1v1h-1zM289 75h3v1h-3zM388 75h1v1h-1zM436 75h1v1h-1zM454 75h1v1h-1zM456 75h2v1h-2zM462 75h2v1h-2zM131 76h3v1h-3zM139 76h2v1h-2zM143 76h3v1h-3zM150 76h1v1h-1zM153 76h2v1h-2zM173 76h1v1h-1zM199 76h1v1h-1zM287 76h2v1h-2zM291 76h1v1h-1zM293 76h1v1h-1zM314 76h1v1h-1zM386 76h1v1h-1zM423 76h1v1h-1zM438 76h1v1h-1zM459 76h1v1h-1zM464 76h1v1h-1zM467 76h1v1h-1zM139 77h2v1h-2zM144 77h4v1h-4zM149 77h1v1h-1zM153 77h4v1h-4zM169 77h1v1h-1zM180 77h1v1h-1zM191 77h1v1h-1zM286 77h1v1h-1zM420 77h1v1h-1zM443 77h1v1h-1zM459 77h1v1h-1zM465 77h2v1h-2zM482 77h1v1h-1zM133 78h1v1h-1zM139 78h1v1h-1zM143 78h6v1h-6zM153 78h2v1h-2zM292 78h2v1h-2zM452 78h1v1h-1zM454 78h1v1h-1zM133 79h1v1h-1zM143 79h1v1h-1zM146 79h2v1h-2zM153 79h2v1h-2zM160 79h1v1h-1zM188 79h1v1h-1zM287 79h1v1h-1zM449 79h2v1h-2zM453 79h1v1h-1zM482 79h1v1h-1zM134 80h1v1h-1zM140 80h1v1h-1zM144 80h2v1h-2zM153 80h1v1h-1zM155 80h1v1h-1zM159 80h1v1h-1zM163 80h1v1h-1zM165 80h2v1h-2zM171 80h1v1h-1zM174 80h1v1h-1zM188 80h1v1h-1zM190 80h1v1h-1zM289 80h1v1h-1zM137 81h1v1h-1zM143 81h2v1h-2zM148 81h2v1h-2zM151 81h1v1h-1zM153 81h1v1h-1zM160 81h5v1h-5zM167 81h1v1h-1zM183 81h1v1h-1zM286 81h1v1h-1zM290 81h1v1h-1zM389 81h2v1h-2zM482 81h1v1h-1zM137 82h1v1h-1zM143 82h1v1h-1zM145 82h2v1h-2zM148 82h2v1h-2zM160 82h4v1h-4zM166 82h1v1h-1zM184 82h1v1h-1zM286 82h1v1h-1zM288 82h1v1h-1zM449 82h1v1h-1zM137 83h1v1h-1zM148 83h1v1h-1zM151 83h1v1h-1zM155 83h3v1h-3zM162 83h1v1h-1zM446 83h1v1h-1zM450 83h1v1h-1zM459 83h1v1h-1zM483 83h2v1h-2zM133 84h1v1h-1zM148 84h2v1h-2zM151 84h5v1h-5zM158 84h2v1h-2zM162 84h1v1h-1zM168 84h1v1h-1zM172 84h2v1h-2zM175 84h1v1h-1zM177 84h1v1h-1zM291 84h1v1h-1zM306 84h1v1h-1zM309 84h1v1h-1zM446 84h1v1h-1zM482 84h3v1h-3zM133 85h3v1h-3zM137 85h1v1h-1zM142 85h1v1h-1zM167 85h1v1h-1zM174 85h1v1h-1zM176 85h2v1h-2zM301 85h1v1h-1zM309 85h1v1h-1zM441 85h1v1h-1zM447 85h1v1h-1zM450 85h2v1h-2zM455 85h1v1h-1zM480 85h1v1h-1zM484 85h1v1h-1zM133 86h1v1h-1zM136 86h1v1h-1zM142 86h1v1h-1zM145 86h2v1h-2zM152 86h3v1h-3zM169 86h1v1h-1zM173 86h1v1h-1zM175 86h1v1h-1zM177 86h2v1h-2zM191 86h1v1h-1zM350 86h1v1h-1zM437 86h1v1h-1zM455 86h2v1h-2zM140 87h1v1h-1zM142 87h1v1h-1zM145 87h1v1h-1zM148 87h1v1h-1zM150 87h1v1h-1zM152 87h1v1h-1zM162 87h2v1h-2zM167 87h1v1h-1zM172 87h1v1h-1zM176 87h2v1h-2zM186 87h2v1h-2zM303 87h1v1h-1zM437 87h2v1h-2zM479 87h1v1h-1zM138 88h1v1h-1zM156 88h2v1h-2zM163 88h1v1h-1zM174 88h1v1h-1zM176 88h1v1h-1zM178 88h2v1h-2zM181 88h1v1h-1zM189 88h1v1h-1zM293 88h1v1h-1zM302 88h1v1h-1zM306 88h1v1h-1zM352 88h1v1h-1zM435 88h2v1h-2zM448 88h1v1h-1zM458 88h1v1h-1zM137 89h2v1h-2zM145 89h1v1h-1zM157 89h1v1h-1zM165 89h1v1h-1zM170 89h1v1h-1zM178 89h2v1h-2zM304 89h1v1h-1zM404 89h1v1h-1zM447 89h1v1h-1zM143 90h2v1h-2zM149 90h1v1h-1zM151 90h1v1h-1zM153 90h1v1h-1zM157 90h1v1h-1zM160 90h2v1h-2zM167 90h1v1h-1zM177 90h2v1h-2zM180 90h2v1h-2zM183 90h1v1h-1zM295 90h1v1h-1zM297 90h1v1h-1zM306 90h1v1h-1zM351 90h1v1h-1zM360 90h1v1h-1zM438 90h1v1h-1zM481 90h1v1h-1zM141 91h1v1h-1zM147 91h1v1h-1zM149 91h1v1h-1zM154 91h1v1h-1zM159 91h2v1h-2zM162 91h1v1h-1zM165 91h2v1h-2zM171 91h1v1h-1zM176 91h2v1h-2zM183 91h1v1h-1zM349 91h1v1h-1zM351 91h1v1h-1zM137 92h1v1h-1zM145 92h3v1h-3zM158 92h3v1h-3zM163 92h1v1h-1zM165 92h1v1h-1zM168 92h2v1h-2zM300 92h1v1h-1zM438 92h2v1h-2zM442 92h1v1h-1zM449 92h1v1h-1zM454 92h1v1h-1zM146 93h1v1h-1zM157 93h1v1h-1zM166 93h3v1h-3zM174 93h4v1h-4zM353 93h1v1h-1zM433 93h1v1h-1zM449 93h1v1h-1zM151 94h1v1h-1zM159 94h2v1h-2zM163 94h2v1h-2zM168 94h2v1h-2zM173 94h1v1h-1zM436 94h1v1h-1zM445 94h1v1h-1zM448 94h2v1h-2zM452 94h2v1h-2zM458 94h1v1h-1zM464 94h1v1h-1zM138 95h2v1h-2zM142 95h1v1h-1zM153 95h1v1h-1zM158 95h2v1h-2zM164 95h1v1h-1zM173 95h1v1h-1zM176 95h1v1h-1zM356 95h2v1h-2zM406 95h1v1h-1zM425 95h1v1h-1zM434 95h1v1h-1zM447 95h1v1h-1zM453 95h1v1h-1zM164 96h1v1h-1zM170 96h2v1h-2zM174 96h1v1h-1zM180 96h1v1h-1zM405 96h1v1h-1zM410 96h1v1h-1zM412 96h1v1h-1zM424 96h1v1h-1zM439 96h1v1h-1zM441 96h1v1h-1zM446 96h2v1h-2zM454 96h1v1h-1zM460 96h3v1h-3zM141 97h1v1h-1zM143 97h2v1h-2zM147 97h1v1h-1zM149 97h1v1h-1zM166 97h1v1h-1zM169 97h1v1h-1zM174 97h2v1h-2zM178 97h1v1h-1zM300 97h1v1h-1zM346 97h1v1h-1zM409 97h2v1h-2zM413 97h1v1h-1zM445 97h2v1h-2zM452 97h2v1h-2zM460 97h1v1h-1zM143 98h1v1h-1zM281 98h1v1h-1zM417 98h1v1h-1zM429 98h1v1h-1zM436 98h1v1h-1zM446 98h1v1h-1zM453 98h1v1h-1zM139 99h1v1h-1zM143 99h1v1h-1zM147 99h2v1h-2zM161 99h1v1h-1zM359 99h1v1h-1zM410 99h2v1h-2zM417 99h1v1h-1zM425 99h1v1h-1zM462 99h1v1h-1zM143 100h2v1h-2zM150 100h1v1h-1zM409 100h2v1h-2zM412 100h2v1h-2zM415 100h3v1h-3zM422 100h3v1h-3zM426 100h1v1h-1zM435 100h1v1h-1zM447 100h2v1h-2zM450 100h1v1h-1zM460 100h1v1h-1zM141 101h1v1h-1zM143 101h1v1h-1zM146 101h1v1h-1zM151 101h1v1h-1zM398 101h1v1h-1zM407 101h1v1h-1zM411 101h1v1h-1zM414 101h1v1h-1zM416 101h1v1h-1zM424 101h2v1h-2zM427 101h2v1h-2zM430 101h2v1h-2zM449 101h1v1h-1zM142 102h1v1h-1zM146 102h2v1h-2zM149 102h1v1h-1zM398 102h1v1h-1zM401 102h1v1h-1zM407 102h2v1h-2zM411 102h1v1h-1zM413 102h1v1h-1zM416 102h1v1h-1zM422 102h3v1h-3zM427 102h2v1h-2zM434 102h1v1h-1zM436 102h1v1h-1zM443 102h2v1h-2zM137 103h1v1h-1zM142 103h1v1h-1zM144 103h1v1h-1zM151 103h1v1h-1zM153 103h1v1h-1zM362 103h2v1h-2zM399 103h1v1h-1zM406 103h2v1h-2zM409 103h1v1h-1zM422 103h1v1h-1zM424 103h1v1h-1zM426 103h1v1h-1zM429 103h2v1h-2zM436 103h1v1h-1zM438 103h1v1h-1zM442 103h1v1h-1zM444 103h1v1h-1zM141 104h2v1h-2zM145 104h2v1h-2zM148 104h1v1h-1zM150 104h6v1h-6zM358 104h1v1h-1zM396 104h1v1h-1zM404 104h1v1h-1zM406 104h2v1h-2zM410 104h1v1h-1zM413 104h1v1h-1zM418 104h4v1h-4zM424 104h2v1h-2zM428 104h1v1h-1zM430 104h2v1h-2zM440 104h1v1h-1zM464 104h1v1h-1zM143 105h1v1h-1zM145 105h2v1h-2zM150 105h3v1h-3zM156 105h1v1h-1zM380 105h1v1h-1zM398 105h1v1h-1zM405 105h1v1h-1zM413 105h1v1h-1zM417 105h2v1h-2zM420 105h1v1h-1zM424 105h2v1h-2zM428 105h3v1h-3zM434 105h1v1h-1zM437 105h2v1h-2zM441 105h2v1h-2zM136 106h1v1h-1zM146 106h2v1h-2zM149 106h1v1h-1zM153 106h1v1h-1zM155 106h1v1h-1zM398 106h1v1h-1zM403 106h1v1h-1zM406 106h2v1h-2zM413 106h1v1h-1zM423 106h5v1h-5zM431 106h4v1h-4zM447 106h1v1h-1zM452 106h1v1h-1zM456 106h1v1h-1zM462 106h1v1h-1zM144 107h2v1h-2zM148 107h1v1h-1zM151 107h1v1h-1zM154 107h3v1h-3zM401 107h1v1h-1zM410 107h2v1h-2zM418 107h1v1h-1zM420 107h1v1h-1zM424 107h1v1h-1zM426 107h7v1h-7zM435 107h1v1h-1zM438 107h2v1h-2zM464 107h1v1h-1zM467 107h1v1h-1zM137 108h1v1h-1zM144 108h5v1h-5zM150 108h3v1h-3zM154 108h2v1h-2zM348 108h2v1h-2zM352 108h1v1h-1zM406 108h1v1h-1zM418 108h1v1h-1zM421 108h1v1h-1zM428 108h2v1h-2zM431 108h2v1h-2zM436 108h3v1h-3zM440 108h2v1h-2zM446 108h1v1h-1zM461 108h1v1h-1zM144 109h1v1h-1zM147 109h6v1h-6zM402 109h2v1h-2zM413 109h1v1h-1zM415 109h1v1h-1zM417 109h1v1h-1zM424 109h1v1h-1zM426 109h3v1h-3zM430 109h3v1h-3zM435 109h8v1h-8zM446 109h1v1h-1zM460 109h2v1h-2zM143 110h2v1h-2zM148 110h2v1h-2zM151 110h2v1h-2zM155 110h1v1h-1zM408 110h1v1h-1zM416 110h2v1h-2zM425 110h1v1h-1zM427 110h6v1h-6zM434 110h7v1h-7zM444 110h2v1h-2zM145 111h3v1h-3zM150 111h1v1h-1zM154 111h2v1h-2zM178 111h1v1h-1zM402 111h1v1h-1zM406 111h3v1h-3zM414 111h1v1h-1zM417 111h1v1h-1zM426 111h1v1h-1zM429 111h3v1h-3zM434 111h5v1h-5zM440 111h1v1h-1zM444 111h2v1h-2zM447 111h1v1h-1zM149 112h3v1h-3zM153 112h2v1h-2zM183 112h1v1h-1zM402 112h1v1h-1zM404 112h1v1h-1zM406 112h1v1h-1zM408 112h1v1h-1zM412 112h1v1h-1zM427 112h4v1h-4zM432 112h10v1h-10zM443 112h4v1h-4zM448 112h1v1h-1zM451 112h1v1h-1zM150 113h1v1h-1zM153 113h2v1h-2zM401 113h1v1h-1zM403 113h1v1h-1zM406 113h1v1h-1zM408 113h1v1h-1zM410 113h1v1h-1zM418 113h1v1h-1zM427 113h1v1h-1zM429 113h6v1h-6zM437 113h1v1h-1zM441 113h2v1h-2zM444 113h5v1h-5zM144 114h1v1h-1zM147 114h1v1h-1zM149 114h1v1h-1zM151 114h1v1h-1zM153 114h3v1h-3zM404 114h5v1h-5zM410 114h2v1h-2zM414 114h1v1h-1zM418 114h1v1h-1zM428 114h5v1h-5zM434 114h1v1h-1zM437 114h2v1h-2zM440 114h1v1h-1zM442 114h2v1h-2zM445 114h5v1h-5zM144 115h1v1h-1zM147 115h1v1h-1zM152 115h2v1h-2zM155 115h1v1h-1zM182 115h2v1h-2zM354 115h1v1h-1zM374 115h1v1h-1zM402 115h1v1h-1zM407 115h1v1h-1zM409 115h3v1h-3zM414 115h1v1h-1zM430 115h1v1h-1zM432 115h3v1h-3zM436 115h11v1h-11zM448 115h2v1h-2zM145 116h2v1h-2zM149 116h2v1h-2zM152 116h2v1h-2zM155 116h1v1h-1zM411 116h3v1h-3zM431 116h12v1h-12zM444 116h3v1h-3zM144 117h1v1h-1zM148 117h1v1h-1zM150 117h4v1h-4zM401 117h1v1h-1zM403 117h1v1h-1zM407 117h1v1h-1zM412 117h1v1h-1zM414 117h2v1h-2zM417 117h1v1h-1zM431 117h5v1h-5zM438 117h4v1h-4zM443 117h2v1h-2zM446 117h3v1h-3zM147 118h2v1h-2zM150 118h1v1h-1zM153 118h2v1h-2zM403 118h1v1h-1zM405 118h1v1h-1zM409 118h1v1h-1zM411 118h3v1h-3zM416 118h3v1h-3zM431 118h5v1h-5zM437 118h1v1h-1zM439 118h2v1h-2zM442 118h7v1h-7zM455 118h1v1h-1zM147 119h2v1h-2zM155 119h3v1h-3zM188 119h1v1h-1zM191 119h3v1h-3zM289 119h1v1h-1zM348 119h1v1h-1zM405 119h1v1h-1zM407 119h1v1h-1zM412 119h1v1h-1zM417 119h1v1h-1zM431 119h3v1h-3zM436 119h1v1h-1zM438 119h5v1h-5zM445 119h1v1h-1zM447 119h2v1h-2zM147 120h10v1h-10zM193 120h1v1h-1zM275 120h1v1h-1zM401 120h2v1h-2zM405 120h1v1h-1zM412 120h3v1h-3zM432 120h1v1h-1zM434 120h1v1h-1zM437 120h7v1h-7zM445 120h2v1h-2zM448 120h1v1h-1zM147 121h1v1h-1zM151 121h6v1h-6zM158 121h2v1h-2zM163 121h1v1h-1zM275 121h3v1h-3zM292 121h2v1h-2zM402 121h1v1h-1zM405 121h1v1h-1zM411 121h2v1h-2zM415 121h2v1h-2zM434 121h3v1h-3zM438 121h2v1h-2zM441 121h3v1h-3zM445 121h4v1h-4zM471 121h1v1h-1zM153 122h4v1h-4zM158 122h4v1h-4zM276 122h6v1h-6zM283 122h1v1h-1zM289 122h1v1h-1zM412 122h1v1h-1zM415 122h1v1h-1zM434 122h4v1h-4zM442 122h2v1h-2zM445 122h1v1h-1zM447 122h4v1h-4zM153 123h5v1h-5zM159 123h2v1h-2zM163 123h1v1h-1zM271 123h3v1h-3zM275 123h2v1h-2zM279 123h3v1h-3zM283 123h2v1h-2zM288 123h1v1h-1zM292 123h5v1h-5zM299 123h1v1h-1zM307 123h1v1h-1zM408 123h2v1h-2zM435 123h1v1h-1zM437 123h2v1h-2zM440 123h1v1h-1zM445 123h3v1h-3zM450 123h2v1h-2zM154 124h2v1h-2zM157 124h3v1h-3zM161 124h2v1h-2zM164 124h1v1h-1zM271 124h1v1h-1zM274 124h1v1h-1zM278 124h7v1h-7zM286 124h4v1h-4zM292 124h7v1h-7zM303 124h2v1h-2zM318 124h1v1h-1zM329 124h1v1h-1zM435 124h1v1h-1zM437 124h2v1h-2zM440 124h1v1h-1zM443 124h6v1h-6zM450 124h2v1h-2zM154 125h3v1h-3zM159 125h4v1h-4zM272 125h1v1h-1zM274 125h1v1h-1zM276 125h5v1h-5zM283 125h4v1h-4zM288 125h9v1h-9zM298 125h1v1h-1zM302 125h1v1h-1zM307 125h1v1h-1zM314 125h3v1h-3zM320 125h1v1h-1zM403 125h2v1h-2zM443 125h5v1h-5zM451 125h1v1h-1zM162 126h1v1h-1zM164 126h1v1h-1zM166 126h1v1h-1zM271 126h4v1h-4zM276 126h2v1h-2zM279 126h3v1h-3zM283 126h8v1h-8zM293 126h6v1h-6zM303 126h2v1h-2zM309 126h1v1h-1zM311 126h1v1h-1zM315 126h1v1h-1zM317 126h1v1h-1zM320 126h2v1h-2zM327 126h1v1h-1zM444 126h4v1h-4zM450 126h2v1h-2zM453 126h1v1h-1zM272 127h2v1h-2zM275 127h5v1h-5zM281 127h3v1h-3zM285 127h2v1h-2zM289 127h3v1h-3zM293 127h8v1h-8zM302 127h2v1h-2zM305 127h1v1h-1zM308 127h6v1h-6zM317 127h2v1h-2zM325 127h2v1h-2zM328 127h1v1h-1zM403 127h1v1h-1zM409 127h1v1h-1zM412 127h1v1h-1zM438 127h1v1h-1zM444 127h4v1h-4zM451 127h1v1h-1zM473 127h1v1h-1zM164 128h1v1h-1zM167 128h1v1h-1zM171 128h1v1h-1zM272 128h1v1h-1zM274 128h6v1h-6zM281 128h1v1h-1zM284 128h3v1h-3zM289 128h1v1h-1zM291 128h1v1h-1zM295 128h2v1h-2zM299 128h9v1h-9zM309 128h2v1h-2zM312 128h3v1h-3zM316 128h3v1h-3zM320 128h2v1h-2zM323 128h1v1h-1zM325 128h1v1h-1zM328 128h1v1h-1zM331 128h2v1h-2zM408 128h1v1h-1zM440 128h1v1h-1zM442 128h1v1h-1zM444 128h5v1h-5zM450 128h2v1h-2zM166 129h1v1h-1zM171 129h1v1h-1zM270 129h6v1h-6zM277 129h5v1h-5zM283 129h4v1h-4zM288 129h5v1h-5zM295 129h10v1h-10zM306 129h1v1h-1zM309 129h1v1h-1zM311 129h8v1h-8zM321 129h1v1h-1zM323 129h1v1h-1zM325 129h1v1h-1zM328 129h1v1h-1zM330 129h3v1h-3zM334 129h2v1h-2zM408 129h1v1h-1zM440 129h1v1h-1zM443 129h3v1h-3zM447 129h6v1h-6zM454 129h1v1h-1zM167 130h1v1h-1zM170 130h2v1h-2zM273 130h1v1h-1zM275 130h1v1h-1zM277 130h10v1h-10zM288 130h1v1h-1zM292 130h2v1h-2zM295 130h3v1h-3zM299 130h2v1h-2zM302 130h1v1h-1zM304 130h3v1h-3zM308 130h2v1h-2zM311 130h6v1h-6zM318 130h4v1h-4zM324 130h3v1h-3zM332 130h1v1h-1zM334 130h1v1h-1zM338 130h2v1h-2zM406 130h1v1h-1zM408 130h1v1h-1zM439 130h16v1h-16zM475 130h1v1h-1zM170 131h2v1h-2zM271 131h1v1h-1zM273 131h13v1h-13zM289 131h3v1h-3zM295 131h1v1h-1zM298 131h1v1h-1zM300 131h1v1h-1zM303 131h4v1h-4zM308 131h1v1h-1zM311 131h2v1h-2zM314 131h4v1h-4zM320 131h1v1h-1zM322 131h4v1h-4zM327 131h2v1h-2zM332 131h6v1h-6zM412 131h1v1h-1zM440 131h2v1h-2zM443 131h2v1h-2zM446 131h3v1h-3zM450 131h1v1h-1zM170 132h1v1h-1zM271 132h1v1h-1zM273 132h1v1h-1zM275 132h15v1h-15zM291 132h3v1h-3zM295 132h1v1h-1zM297 132h8v1h-8zM306 132h4v1h-4zM311 132h1v1h-1zM313 132h8v1h-8zM322 132h3v1h-3zM327 132h2v1h-2zM331 132h3v1h-3zM335 132h3v1h-3zM408 132h1v1h-1zM441 132h1v1h-1zM448 132h1v1h-1zM450 132h2v1h-2zM172 133h1v1h-1zM190 133h1v1h-1zM272 133h1v1h-1zM276 133h17v1h-17zM295 133h5v1h-5zM301 133h8v1h-8zM311 133h1v1h-1zM314 133h2v1h-2zM317 133h1v1h-1zM319 133h1v1h-1zM321 133h4v1h-4zM326 133h1v1h-1zM328 133h11v1h-11zM341 133h1v1h-1zM343 133h3v1h-3zM348 133h1v1h-1zM446 133h1v1h-1zM448 133h2v1h-2zM451 133h3v1h-3zM191 134h1v1h-1zM275 134h13v1h-13zM289 134h1v1h-1zM292 134h9v1h-9zM303 134h3v1h-3zM308 134h2v1h-2zM312 134h4v1h-4zM319 134h3v1h-3zM323 134h2v1h-2zM327 134h1v1h-1zM332 134h1v1h-1zM334 134h4v1h-4zM339 134h2v1h-2zM344 134h1v1h-1zM357 134h1v1h-1zM408 134h1v1h-1zM441 134h1v1h-1zM447 134h2v1h-2zM450 134h1v1h-1zM452 134h1v1h-1zM186 135h1v1h-1zM188 135h1v1h-1zM273 135h3v1h-3zM277 135h5v1h-5zM284 135h2v1h-2zM287 135h1v1h-1zM292 135h5v1h-5zM298 135h12v1h-12zM312 135h2v1h-2zM315 135h4v1h-4zM320 135h2v1h-2zM325 135h4v1h-4zM330 135h1v1h-1zM332 135h1v1h-1zM334 135h2v1h-2zM337 135h4v1h-4zM342 135h5v1h-5zM349 135h1v1h-1zM411 135h1v1h-1zM440 135h1v1h-1zM447 135h4v1h-4zM452 135h1v1h-1zM474 135h1v1h-1zM170 136h1v1h-1zM186 136h1v1h-1zM191 136h2v1h-2zM199 136h3v1h-3zM274 136h4v1h-4zM280 136h2v1h-2zM283 136h1v1h-1zM285 136h1v1h-1zM287 136h10v1h-10zM298 136h4v1h-4zM303 136h3v1h-3zM307 136h4v1h-4zM312 136h4v1h-4zM317 136h2v1h-2zM321 136h4v1h-4zM327 136h1v1h-1zM329 136h5v1h-5zM335 136h3v1h-3zM339 136h8v1h-8zM348 136h2v1h-2zM354 136h1v1h-1zM407 136h1v1h-1zM447 136h5v1h-5zM475 136h1v1h-1zM186 137h2v1h-2zM189 137h2v1h-2zM192 137h1v1h-1zM200 137h1v1h-1zM203 137h2v1h-2zM276 137h2v1h-2zM279 137h3v1h-3zM283 137h1v1h-1zM285 137h1v1h-1zM288 137h8v1h-8zM297 137h3v1h-3zM301 137h1v1h-1zM303 137h3v1h-3zM309 137h10v1h-10zM321 137h1v1h-1zM324 137h2v1h-2zM328 137h6v1h-6zM335 137h3v1h-3zM340 137h5v1h-5zM346 137h1v1h-1zM348 137h1v1h-1zM353 137h2v1h-2zM407 137h2v1h-2zM411 137h1v1h-1zM449 137h1v1h-1zM475 137h1v1h-1zM183 138h1v1h-1zM187 138h1v1h-1zM189 138h6v1h-6zM197 138h4v1h-4zM205 138h1v1h-1zM275 138h2v1h-2zM279 138h2v1h-2zM283 138h10v1h-10zM294 138h2v1h-2zM297 138h5v1h-5zM303 138h2v1h-2zM308 138h1v1h-1zM310 138h2v1h-2zM314 138h5v1h-5zM321 138h1v1h-1zM323 138h4v1h-4zM329 138h1v1h-1zM331 138h1v1h-1zM333 138h6v1h-6zM342 138h7v1h-7zM351 138h1v1h-1zM357 138h1v1h-1zM440 138h1v1h-1zM186 139h1v1h-1zM188 139h4v1h-4zM200 139h1v1h-1zM202 139h2v1h-2zM205 139h1v1h-1zM275 139h2v1h-2zM278 139h2v1h-2zM281 139h6v1h-6zM288 139h3v1h-3zM292 139h4v1h-4zM297 139h2v1h-2zM300 139h1v1h-1zM303 139h1v1h-1zM308 139h1v1h-1zM310 139h1v1h-1zM314 139h1v1h-1zM317 139h2v1h-2zM320 139h3v1h-3zM324 139h6v1h-6zM331 139h1v1h-1zM334 139h5v1h-5zM340 139h9v1h-9zM354 139h1v1h-1zM356 139h1v1h-1zM408 139h2v1h-2zM413 139h1v1h-1zM449 139h1v1h-1zM173 140h1v1h-1zM181 140h1v1h-1zM189 140h1v1h-1zM195 140h1v1h-1zM200 140h3v1h-3zM204 140h2v1h-2zM276 140h2v1h-2zM281 140h1v1h-1zM285 140h9v1h-9zM297 140h1v1h-1zM299 140h2v1h-2zM302 140h1v1h-1zM305 140h2v1h-2zM308 140h5v1h-5zM314 140h2v1h-2zM317 140h14v1h-14zM332 140h1v1h-1zM334 140h2v1h-2zM337 140h4v1h-4zM342 140h2v1h-2zM345 140h4v1h-4zM353 140h1v1h-1zM355 140h1v1h-1zM414 140h1v1h-1zM174 141h5v1h-5zM180 141h1v1h-1zM190 141h2v1h-2zM194 141h4v1h-4zM200 141h7v1h-7zM282 141h2v1h-2zM285 141h8v1h-8zM295 141h5v1h-5zM302 141h10v1h-10zM316 141h1v1h-1zM319 141h3v1h-3zM323 141h2v1h-2zM326 141h5v1h-5zM335 141h4v1h-4zM340 141h3v1h-3zM346 141h1v1h-1zM349 141h1v1h-1zM352 141h5v1h-5zM443 141h1v1h-1zM180 142h1v1h-1zM186 142h3v1h-3zM194 142h1v1h-1zM203 142h1v1h-1zM206 142h1v1h-1zM282 142h1v1h-1zM288 142h3v1h-3zM293 142h4v1h-4zM300 142h1v1h-1zM302 142h4v1h-4zM309 142h1v1h-1zM311 142h1v1h-1zM313 142h1v1h-1zM316 142h2v1h-2zM319 142h2v1h-2zM322 142h1v1h-1zM324 142h1v1h-1zM326 142h6v1h-6zM333 142h6v1h-6zM340 142h3v1h-3zM344 142h4v1h-4zM352 142h2v1h-2zM357 142h1v1h-1zM477 142h1v1h-1zM481 142h1v1h-1zM187 143h2v1h-2zM194 143h1v1h-1zM196 143h1v1h-1zM200 143h5v1h-5zM206 143h2v1h-2zM280 143h4v1h-4zM288 143h2v1h-2zM293 143h2v1h-2zM296 143h2v1h-2zM302 143h2v1h-2zM307 143h1v1h-1zM309 143h5v1h-5zM315 143h5v1h-5zM321 143h1v1h-1zM323 143h7v1h-7zM331 143h8v1h-8zM342 143h1v1h-1zM344 143h3v1h-3zM351 143h2v1h-2zM478 143h1v1h-1zM184 144h1v1h-1zM186 144h3v1h-3zM190 144h2v1h-2zM193 144h1v1h-1zM196 144h5v1h-5zM203 144h1v1h-1zM206 144h1v1h-1zM282 144h1v1h-1zM288 144h1v1h-1zM291 144h2v1h-2zM294 144h2v1h-2zM297 144h3v1h-3zM301 144h1v1h-1zM303 144h1v1h-1zM305 144h2v1h-2zM308 144h3v1h-3zM312 144h7v1h-7zM321 144h8v1h-8zM332 144h1v1h-1zM334 144h5v1h-5zM340 144h1v1h-1zM342 144h2v1h-2zM351 144h2v1h-2zM355 144h1v1h-1zM467 144h1v1h-1zM181 145h1v1h-1zM184 145h2v1h-2zM187 145h2v1h-2zM191 145h1v1h-1zM197 145h3v1h-3zM201 145h6v1h-6zM281 145h1v1h-1zM288 145h1v1h-1zM291 145h1v1h-1zM302 145h2v1h-2zM305 145h1v1h-1zM311 145h21v1h-21zM333 145h5v1h-5zM339 145h1v1h-1zM341 145h1v1h-1zM344 145h2v1h-2zM347 145h3v1h-3zM351 145h1v1h-1zM354 145h1v1h-1zM356 145h1v1h-1zM446 145h1v1h-1zM467 145h1v1h-1zM469 145h1v1h-1zM181 146h1v1h-1zM185 146h2v1h-2zM197 146h3v1h-3zM201 146h1v1h-1zM203 146h6v1h-6zM210 146h1v1h-1zM281 146h1v1h-1zM288 146h5v1h-5zM306 146h1v1h-1zM309 146h1v1h-1zM313 146h2v1h-2zM317 146h1v1h-1zM319 146h2v1h-2zM324 146h8v1h-8zM334 146h2v1h-2zM339 146h1v1h-1zM341 146h4v1h-4zM347 146h3v1h-3zM354 146h1v1h-1zM360 146h1v1h-1zM467 146h1v1h-1zM469 146h2v1h-2zM185 147h1v1h-1zM187 147h1v1h-1zM190 147h1v1h-1zM197 147h3v1h-3zM201 147h1v1h-1zM203 147h2v1h-2zM206 147h3v1h-3zM212 147h2v1h-2zM216 147h2v1h-2zM288 147h1v1h-1zM293 147h1v1h-1zM304 147h1v1h-1zM306 147h3v1h-3zM310 147h1v1h-1zM314 147h4v1h-4zM319 147h2v1h-2zM328 147h1v1h-1zM334 147h3v1h-3zM340 147h2v1h-2zM354 147h1v1h-1zM360 147h1v1h-1zM447 147h1v1h-1zM467 147h1v1h-1zM469 147h2v1h-2zM184 148h2v1h-2zM187 148h1v1h-1zM190 148h6v1h-6zM197 148h2v1h-2zM201 148h6v1h-6zM285 148h1v1h-1zM310 148h4v1h-4zM315 148h1v1h-1zM317 148h4v1h-4zM322 148h1v1h-1zM325 148h2v1h-2zM328 148h2v1h-2zM331 148h1v1h-1zM334 148h2v1h-2zM337 148h1v1h-1zM339 148h1v1h-1zM343 148h1v1h-1zM345 148h1v1h-1zM349 148h1v1h-1zM464 148h1v1h-1zM185 149h3v1h-3zM191 149h6v1h-6zM203 149h3v1h-3zM210 149h2v1h-2zM310 149h3v1h-3zM314 149h3v1h-3zM318 149h2v1h-2zM324 149h1v1h-1zM327 149h2v1h-2zM330 149h5v1h-5zM337 149h1v1h-1zM340 149h2v1h-2zM344 149h1v1h-1zM348 149h1v1h-1zM350 149h1v1h-1zM355 149h1v1h-1zM464 149h1v1h-1zM184 150h2v1h-2zM191 150h3v1h-3zM195 150h1v1h-1zM205 150h1v1h-1zM208 150h2v1h-2zM218 150h1v1h-1zM310 150h7v1h-7zM319 150h3v1h-3zM323 150h1v1h-1zM326 150h1v1h-1zM328 150h1v1h-1zM333 150h2v1h-2zM337 150h1v1h-1zM341 150h1v1h-1zM349 150h1v1h-1zM445 150h1v1h-1zM469 150h1v1h-1zM186 151h2v1h-2zM190 151h2v1h-2zM203 151h1v1h-1zM205 151h2v1h-2zM211 151h1v1h-1zM218 151h1v1h-1zM310 151h3v1h-3zM314 151h3v1h-3zM319 151h1v1h-1zM321 151h2v1h-2zM324 151h1v1h-1zM326 151h1v1h-1zM331 151h1v1h-1zM335 151h1v1h-1zM343 151h2v1h-2zM348 151h1v1h-1zM354 151h2v1h-2zM357 151h1v1h-1zM445 151h2v1h-2zM191 152h2v1h-2zM201 152h1v1h-1zM210 152h1v1h-1zM215 152h1v1h-1zM220 152h1v1h-1zM310 152h1v1h-1zM312 152h2v1h-2zM315 152h3v1h-3zM319 152h1v1h-1zM325 152h5v1h-5zM331 152h4v1h-4zM339 152h1v1h-1zM346 152h1v1h-1zM348 152h1v1h-1zM352 152h1v1h-1zM356 152h2v1h-2zM448 152h1v1h-1zM464 152h1v1h-1zM466 152h1v1h-1zM469 152h1v1h-1zM180 153h1v1h-1zM187 153h1v1h-1zM190 153h2v1h-2zM200 153h1v1h-1zM202 153h2v1h-2zM214 153h2v1h-2zM311 153h1v1h-1zM315 153h1v1h-1zM319 153h1v1h-1zM324 153h1v1h-1zM326 153h1v1h-1zM329 153h2v1h-2zM333 153h1v1h-1zM337 153h1v1h-1zM339 153h1v1h-1zM342 153h1v1h-1zM345 153h1v1h-1zM353 153h1v1h-1zM463 153h1v1h-1zM465 153h1v1h-1zM179 154h1v1h-1zM184 154h2v1h-2zM189 154h1v1h-1zM191 154h1v1h-1zM198 154h1v1h-1zM205 154h1v1h-1zM207 154h1v1h-1zM217 154h1v1h-1zM219 154h1v1h-1zM312 154h3v1h-3zM318 154h1v1h-1zM328 154h4v1h-4zM336 154h1v1h-1zM339 154h1v1h-1zM346 154h3v1h-3zM357 154h1v1h-1zM359 154h1v1h-1zM448 154h2v1h-2zM463 154h3v1h-3zM190 155h1v1h-1zM201 155h2v1h-2zM208 155h2v1h-2zM211 155h3v1h-3zM217 155h2v1h-2zM310 155h1v1h-1zM313 155h1v1h-1zM315 155h5v1h-5zM323 155h1v1h-1zM328 155h4v1h-4zM337 155h1v1h-1zM340 155h2v1h-2zM346 155h1v1h-1zM350 155h2v1h-2zM354 155h1v1h-1zM443 155h1v1h-1zM467 155h1v1h-1zM183 156h1v1h-1zM198 156h1v1h-1zM202 156h1v1h-1zM209 156h6v1h-6zM217 156h1v1h-1zM310 156h3v1h-3zM316 156h3v1h-3zM332 156h2v1h-2zM337 156h1v1h-1zM340 156h2v1h-2zM346 156h1v1h-1zM350 156h2v1h-2zM356 156h2v1h-2zM469 156h1v1h-1zM188 157h3v1h-3zM210 157h2v1h-2zM216 157h1v1h-1zM219 157h1v1h-1zM221 157h1v1h-1zM312 157h2v1h-2zM317 157h4v1h-4zM322 157h4v1h-4zM331 157h1v1h-1zM333 157h1v1h-1zM341 157h1v1h-1zM344 157h1v1h-1zM350 157h1v1h-1zM354 157h1v1h-1zM356 157h1v1h-1zM459 157h1v1h-1zM461 157h2v1h-2zM467 157h2v1h-2zM472 157h1v1h-1zM474 157h1v1h-1zM188 158h2v1h-2zM199 158h1v1h-1zM204 158h2v1h-2zM212 158h1v1h-1zM215 158h2v1h-2zM218 158h2v1h-2zM309 158h1v1h-1zM312 158h3v1h-3zM317 158h3v1h-3zM324 158h1v1h-1zM329 158h1v1h-1zM332 158h3v1h-3zM337 158h2v1h-2zM342 158h4v1h-4zM351 158h2v1h-2zM354 158h1v1h-1zM459 158h1v1h-1zM467 158h1v1h-1zM472 158h1v1h-1zM187 159h3v1h-3zM201 159h1v1h-1zM206 159h1v1h-1zM211 159h4v1h-4zM216 159h3v1h-3zM221 159h1v1h-1zM310 159h3v1h-3zM314 159h1v1h-1zM316 159h4v1h-4zM325 159h1v1h-1zM331 159h2v1h-2zM334 159h1v1h-1zM336 159h2v1h-2zM339 159h1v1h-1zM341 159h2v1h-2zM344 159h3v1h-3zM353 159h5v1h-5zM445 159h1v1h-1zM460 159h2v1h-2zM465 159h1v1h-1zM491 159h1v1h-1zM187 160h2v1h-2zM192 160h1v1h-1zM194 160h1v1h-1zM197 160h3v1h-3zM201 160h4v1h-4zM206 160h1v1h-1zM208 160h1v1h-1zM211 160h4v1h-4zM217 160h2v1h-2zM223 160h1v1h-1zM309 160h1v1h-1zM313 160h7v1h-7zM321 160h2v1h-2zM324 160h1v1h-1zM326 160h2v1h-2zM339 160h1v1h-1zM342 160h1v1h-1zM347 160h1v1h-1zM447 160h1v1h-1zM187 161h1v1h-1zM194 161h1v1h-1zM196 161h1v1h-1zM199 161h1v1h-1zM201 161h2v1h-2zM206 161h1v1h-1zM208 161h1v1h-1zM213 161h1v1h-1zM216 161h8v1h-8zM310 161h2v1h-2zM313 161h2v1h-2zM318 161h1v1h-1zM321 161h2v1h-2zM328 161h1v1h-1zM332 161h1v1h-1zM334 161h1v1h-1zM336 161h1v1h-1zM340 161h1v1h-1zM345 161h3v1h-3zM355 161h1v1h-1zM444 161h1v1h-1zM462 161h1v1h-1zM474 161h2v1h-2zM193 162h1v1h-1zM195 162h1v1h-1zM197 162h1v1h-1zM203 162h3v1h-3zM207 162h3v1h-3zM211 162h3v1h-3zM215 162h3v1h-3zM219 162h1v1h-1zM222 162h5v1h-5zM311 162h1v1h-1zM313 162h1v1h-1zM315 162h1v1h-1zM318 162h2v1h-2zM321 162h3v1h-3zM331 162h1v1h-1zM334 162h1v1h-1zM336 162h1v1h-1zM340 162h1v1h-1zM342 162h1v1h-1zM344 162h2v1h-2zM350 162h2v1h-2zM353 162h3v1h-3zM448 162h1v1h-1zM460 162h1v1h-1zM463 162h4v1h-4zM493 162h2v1h-2zM501 162h1v1h-1zM183 163h1v1h-1zM185 163h2v1h-2zM188 163h1v1h-1zM191 163h2v1h-2zM196 163h1v1h-1zM198 163h3v1h-3zM202 163h2v1h-2zM207 163h4v1h-4zM217 163h2v1h-2zM221 163h1v1h-1zM223 163h1v1h-1zM228 163h2v1h-2zM319 163h1v1h-1zM328 163h1v1h-1zM334 163h1v1h-1zM336 163h1v1h-1zM339 163h4v1h-4zM344 163h1v1h-1zM349 163h1v1h-1zM450 163h1v1h-1zM465 163h1v1h-1zM494 163h1v1h-1zM496 163h1v1h-1zM498 163h1v1h-1zM177 164h1v1h-1zM182 164h1v1h-1zM194 164h2v1h-2zM199 164h3v1h-3zM207 164h1v1h-1zM209 164h3v1h-3zM213 164h2v1h-2zM219 164h7v1h-7zM229 164h1v1h-1zM231 164h2v1h-2zM311 164h1v1h-1zM317 164h5v1h-5zM326 164h2v1h-2zM330 164h1v1h-1zM334 164h1v1h-1zM338 164h5v1h-5zM344 164h2v1h-2zM347 164h1v1h-1zM350 164h3v1h-3zM446 164h1v1h-1zM464 164h2v1h-2zM467 164h1v1h-1zM187 165h1v1h-1zM196 165h1v1h-1zM198 165h1v1h-1zM200 165h2v1h-2zM205 165h1v1h-1zM209 165h1v1h-1zM211 165h1v1h-1zM219 165h3v1h-3zM224 165h1v1h-1zM226 165h2v1h-2zM231 165h1v1h-1zM233 165h1v1h-1zM237 165h1v1h-1zM312 165h1v1h-1zM316 165h2v1h-2zM323 165h3v1h-3zM327 165h1v1h-1zM329 165h4v1h-4zM334 165h3v1h-3zM339 165h2v1h-2zM345 165h1v1h-1zM347 165h8v1h-8zM491 165h2v1h-2zM506 165h1v1h-1zM187 166h3v1h-3zM194 166h3v1h-3zM202 166h2v1h-2zM205 166h1v1h-1zM209 166h1v1h-1zM211 166h1v1h-1zM214 166h1v1h-1zM216 166h1v1h-1zM218 166h1v1h-1zM220 166h2v1h-2zM225 166h1v1h-1zM230 166h6v1h-6zM239 166h1v1h-1zM312 166h1v1h-1zM317 166h3v1h-3zM321 166h8v1h-8zM330 166h3v1h-3zM335 166h1v1h-1zM337 166h6v1h-6zM345 166h1v1h-1zM347 166h1v1h-1zM349 166h1v1h-1zM353 166h1v1h-1zM451 166h1v1h-1zM495 166h1v1h-1zM500 166h1v1h-1zM506 166h2v1h-2zM177 167h1v1h-1zM183 167h1v1h-1zM192 167h1v1h-1zM196 167h1v1h-1zM199 167h1v1h-1zM201 167h2v1h-2zM208 167h1v1h-1zM210 167h4v1h-4zM217 167h2v1h-2zM220 167h2v1h-2zM223 167h1v1h-1zM225 167h1v1h-1zM229 167h1v1h-1zM235 167h1v1h-1zM238 167h1v1h-1zM240 167h1v1h-1zM314 167h6v1h-6zM321 167h1v1h-1zM324 167h5v1h-5zM330 167h1v1h-1zM332 167h1v1h-1zM334 167h2v1h-2zM337 167h1v1h-1zM339 167h1v1h-1zM341 167h2v1h-2zM344 167h2v1h-2zM347 167h4v1h-4zM352 167h1v1h-1zM450 167h1v1h-1zM501 167h2v1h-2zM506 167h2v1h-2zM183 168h1v1h-1zM192 168h1v1h-1zM196 168h1v1h-1zM200 168h1v1h-1zM203 168h4v1h-4zM209 168h1v1h-1zM211 168h1v1h-1zM215 168h1v1h-1zM217 168h2v1h-2zM222 168h6v1h-6zM234 168h2v1h-2zM238 168h1v1h-1zM240 168h3v1h-3zM313 168h1v1h-1zM316 168h15v1h-15zM332 168h3v1h-3zM337 168h3v1h-3zM341 168h1v1h-1zM344 168h1v1h-1zM346 168h5v1h-5zM352 168h1v1h-1zM505 168h2v1h-2zM183 169h2v1h-2zM191 169h1v1h-1zM196 169h2v1h-2zM203 169h4v1h-4zM210 169h1v1h-1zM212 169h1v1h-1zM217 169h2v1h-2zM220 169h2v1h-2zM224 169h2v1h-2zM227 169h2v1h-2zM231 169h1v1h-1zM233 169h2v1h-2zM236 169h3v1h-3zM240 169h4v1h-4zM316 169h1v1h-1zM318 169h6v1h-6zM325 169h10v1h-10zM336 169h6v1h-6zM344 169h3v1h-3zM351 169h1v1h-1zM353 169h1v1h-1zM450 169h1v1h-1zM505 169h1v1h-1zM184 170h1v1h-1zM195 170h1v1h-1zM199 170h3v1h-3zM205 170h3v1h-3zM213 170h3v1h-3zM217 170h1v1h-1zM220 170h1v1h-1zM222 170h2v1h-2zM226 170h2v1h-2zM229 170h3v1h-3zM234 170h1v1h-1zM238 170h1v1h-1zM241 170h2v1h-2zM314 170h1v1h-1zM316 170h7v1h-7zM324 170h11v1h-11zM336 170h9v1h-9zM348 170h1v1h-1zM351 170h1v1h-1zM353 170h1v1h-1zM499 170h1v1h-1zM501 170h1v1h-1zM507 170h1v1h-1zM183 171h1v1h-1zM196 171h1v1h-1zM201 171h4v1h-4zM206 171h5v1h-5zM212 171h1v1h-1zM214 171h5v1h-5zM221 171h2v1h-2zM226 171h4v1h-4zM231 171h1v1h-1zM236 171h2v1h-2zM314 171h12v1h-12zM327 171h9v1h-9zM338 171h3v1h-3zM342 171h3v1h-3zM347 171h4v1h-4zM352 171h2v1h-2zM184 172h2v1h-2zM193 172h2v1h-2zM205 172h2v1h-2zM208 172h3v1h-3zM215 172h3v1h-3zM221 172h3v1h-3zM225 172h2v1h-2zM237 172h2v1h-2zM315 172h3v1h-3zM319 172h10v1h-10zM331 172h2v1h-2zM334 172h15v1h-15zM350 172h3v1h-3zM452 172h1v1h-1zM511 172h1v1h-1zM178 173h1v1h-1zM183 173h1v1h-1zM185 173h1v1h-1zM188 173h1v1h-1zM193 173h2v1h-2zM200 173h2v1h-2zM203 173h1v1h-1zM205 173h2v1h-2zM208 173h5v1h-5zM217 173h2v1h-2zM220 173h1v1h-1zM222 173h5v1h-5zM228 173h3v1h-3zM232 173h1v1h-1zM236 173h5v1h-5zM314 173h14v1h-14zM330 173h3v1h-3zM335 173h6v1h-6zM342 173h2v1h-2zM349 173h3v1h-3zM457 173h1v1h-1zM185 174h2v1h-2zM193 174h2v1h-2zM197 174h3v1h-3zM202 174h2v1h-2zM206 174h5v1h-5zM213 174h1v1h-1zM218 174h1v1h-1zM225 174h6v1h-6zM232 174h2v1h-2zM235 174h1v1h-1zM238 174h1v1h-1zM240 174h1v1h-1zM314 174h4v1h-4zM319 174h6v1h-6zM326 174h3v1h-3zM330 174h4v1h-4zM335 174h1v1h-1zM337 174h8v1h-8zM347 174h1v1h-1zM350 174h1v1h-1zM352 174h1v1h-1zM511 174h1v1h-1zM198 175h2v1h-2zM201 175h2v1h-2zM206 175h2v1h-2zM210 175h3v1h-3zM214 175h1v1h-1zM216 175h1v1h-1zM220 175h4v1h-4zM225 175h1v1h-1zM228 175h1v1h-1zM232 175h5v1h-5zM241 175h1v1h-1zM315 175h5v1h-5zM321 175h1v1h-1zM324 175h3v1h-3zM330 175h1v1h-1zM332 175h2v1h-2zM335 175h1v1h-1zM338 175h8v1h-8zM348 175h1v1h-1zM350 175h1v1h-1zM352 175h1v1h-1zM502 175h1v1h-1zM511 175h1v1h-1zM199 176h4v1h-4zM204 176h3v1h-3zM208 176h1v1h-1zM212 176h1v1h-1zM216 176h4v1h-4zM221 176h3v1h-3zM228 176h5v1h-5zM234 176h1v1h-1zM237 176h6v1h-6zM315 176h3v1h-3zM319 176h5v1h-5zM325 176h3v1h-3zM329 176h13v1h-13zM343 176h4v1h-4zM350 176h4v1h-4zM505 176h1v1h-1zM192 177h1v1h-1zM195 177h2v1h-2zM199 177h1v1h-1zM202 177h4v1h-4zM211 177h2v1h-2zM216 177h5v1h-5zM223 177h1v1h-1zM226 177h1v1h-1zM228 177h1v1h-1zM230 177h2v1h-2zM233 177h1v1h-1zM237 177h1v1h-1zM239 177h1v1h-1zM315 177h9v1h-9zM326 177h6v1h-6zM334 177h7v1h-7zM343 177h2v1h-2zM349 177h6v1h-6zM514 177h1v1h-1zM184 178h2v1h-2zM190 178h1v1h-1zM197 178h1v1h-1zM199 178h1v1h-1zM201 178h4v1h-4zM210 178h2v1h-2zM216 178h2v1h-2zM219 178h2v1h-2zM222 178h2v1h-2zM227 178h1v1h-1zM233 178h2v1h-2zM237 178h3v1h-3zM315 178h2v1h-2zM318 178h2v1h-2zM321 178h4v1h-4zM326 178h6v1h-6zM333 178h4v1h-4zM338 178h3v1h-3zM345 178h1v1h-1zM347 178h2v1h-2zM350 178h5v1h-5zM512 178h2v1h-2zM201 179h1v1h-1zM203 179h2v1h-2zM206 179h2v1h-2zM210 179h3v1h-3zM215 179h3v1h-3zM219 179h1v1h-1zM223 179h1v1h-1zM228 179h5v1h-5zM234 179h2v1h-2zM239 179h2v1h-2zM315 179h1v1h-1zM319 179h1v1h-1zM321 179h2v1h-2zM324 179h21v1h-21zM346 179h9v1h-9zM184 180h1v1h-1zM187 180h1v1h-1zM194 180h1v1h-1zM197 180h6v1h-6zM204 180h1v1h-1zM206 180h3v1h-3zM210 180h3v1h-3zM215 180h3v1h-3zM221 180h2v1h-2zM226 180h1v1h-1zM229 180h1v1h-1zM232 180h2v1h-2zM236 180h1v1h-1zM240 180h1v1h-1zM315 180h4v1h-4zM321 180h8v1h-8zM331 180h14v1h-14zM347 180h1v1h-1zM349 180h1v1h-1zM351 180h1v1h-1zM353 180h2v1h-2zM185 181h1v1h-1zM187 181h1v1h-1zM200 181h1v1h-1zM202 181h4v1h-4zM207 181h6v1h-6zM215 181h3v1h-3zM222 181h1v1h-1zM225 181h1v1h-1zM227 181h2v1h-2zM230 181h1v1h-1zM237 181h1v1h-1zM316 181h1v1h-1zM318 181h3v1h-3zM323 181h3v1h-3zM327 181h7v1h-7zM336 181h6v1h-6zM344 181h2v1h-2zM348 181h5v1h-5zM354 181h1v1h-1zM185 182h1v1h-1zM195 182h2v1h-2zM199 182h2v1h-2zM204 182h2v1h-2zM208 182h3v1h-3zM212 182h1v1h-1zM215 182h1v1h-1zM217 182h1v1h-1zM219 182h2v1h-2zM223 182h3v1h-3zM227 182h4v1h-4zM233 182h7v1h-7zM316 182h4v1h-4zM323 182h3v1h-3zM328 182h4v1h-4zM333 182h2v1h-2zM337 182h4v1h-4zM345 182h9v1h-9zM183 183h1v1h-1zM186 183h1v1h-1zM188 183h1v1h-1zM194 183h2v1h-2zM203 183h1v1h-1zM209 183h1v1h-1zM212 183h4v1h-4zM219 183h3v1h-3zM223 183h1v1h-1zM226 183h1v1h-1zM231 183h8v1h-8zM314 183h1v1h-1zM318 183h4v1h-4zM323 183h1v1h-1zM326 183h2v1h-2zM329 183h1v1h-1zM331 183h6v1h-6zM338 183h5v1h-5zM344 183h2v1h-2zM348 183h4v1h-4zM354 183h1v1h-1zM367 183h1v1h-1zM490 183h5v1h-5zM503 183h1v1h-1zM187 184h1v1h-1zM199 184h3v1h-3zM207 184h1v1h-1zM211 184h2v1h-2zM217 184h1v1h-1zM222 184h1v1h-1zM224 184h2v1h-2zM227 184h3v1h-3zM232 184h1v1h-1zM235 184h1v1h-1zM238 184h1v1h-1zM317 184h5v1h-5zM324 184h2v1h-2zM327 184h3v1h-3zM332 184h4v1h-4zM338 184h2v1h-2zM342 184h2v1h-2zM347 184h4v1h-4zM353 184h2v1h-2zM366 184h1v1h-1zM486 184h4v1h-4zM491 184h2v1h-2zM494 184h1v1h-1zM503 184h2v1h-2zM192 185h1v1h-1zM197 185h2v1h-2zM200 185h1v1h-1zM210 185h2v1h-2zM213 185h1v1h-1zM215 185h1v1h-1zM217 185h2v1h-2zM221 185h6v1h-6zM229 185h1v1h-1zM232 185h5v1h-5zM314 185h6v1h-6zM321 185h2v1h-2zM324 185h7v1h-7zM333 185h3v1h-3zM337 185h3v1h-3zM341 185h3v1h-3zM345 185h6v1h-6zM354 185h1v1h-1zM366 185h2v1h-2zM490 185h1v1h-1zM493 185h1v1h-1zM197 186h1v1h-1zM200 186h1v1h-1zM206 186h1v1h-1zM211 186h3v1h-3zM215 186h2v1h-2zM219 186h5v1h-5zM225 186h4v1h-4zM231 186h1v1h-1zM233 186h2v1h-2zM236 186h1v1h-1zM238 186h1v1h-1zM315 186h10v1h-10zM326 186h1v1h-1zM328 186h1v1h-1zM331 186h3v1h-3zM335 186h3v1h-3zM339 186h11v1h-11zM351 186h1v1h-1zM353 186h2v1h-2zM366 186h2v1h-2zM486 186h4v1h-4zM493 186h1v1h-1zM186 187h2v1h-2zM191 187h1v1h-1zM204 187h1v1h-1zM206 187h7v1h-7zM215 187h3v1h-3zM220 187h3v1h-3zM226 187h1v1h-1zM231 187h2v1h-2zM234 187h1v1h-1zM236 187h1v1h-1zM315 187h1v1h-1zM317 187h13v1h-13zM335 187h5v1h-5zM342 187h2v1h-2zM345 187h7v1h-7zM365 187h4v1h-4zM480 187h2v1h-2zM485 187h1v1h-1zM487 187h1v1h-1zM489 187h5v1h-5zM505 187h1v1h-1zM186 188h1v1h-1zM192 188h2v1h-2zM197 188h5v1h-5zM204 188h1v1h-1zM206 188h2v1h-2zM210 188h1v1h-1zM212 188h3v1h-3zM217 188h1v1h-1zM222 188h2v1h-2zM226 188h3v1h-3zM230 188h3v1h-3zM234 188h2v1h-2zM313 188h4v1h-4zM318 188h1v1h-1zM321 188h2v1h-2zM324 188h2v1h-2zM328 188h3v1h-3zM332 188h1v1h-1zM334 188h11v1h-11zM348 188h1v1h-1zM351 188h2v1h-2zM354 188h1v1h-1zM364 188h4v1h-4zM478 188h13v1h-13zM492 188h1v1h-1zM502 188h1v1h-1zM505 188h1v1h-1zM194 189h1v1h-1zM197 189h1v1h-1zM199 189h2v1h-2zM207 189h1v1h-1zM210 189h4v1h-4zM219 189h2v1h-2zM222 189h1v1h-1zM230 189h4v1h-4zM236 189h1v1h-1zM314 189h3v1h-3zM319 189h1v1h-1zM322 189h4v1h-4zM329 189h2v1h-2zM332 189h6v1h-6zM339 189h2v1h-2zM343 189h4v1h-4zM348 189h1v1h-1zM351 189h3v1h-3zM363 189h4v1h-4zM368 189h1v1h-1zM478 189h1v1h-1zM480 189h14v1h-14zM503 189h1v1h-1zM505 189h2v1h-2zM191 190h3v1h-3zM197 190h1v1h-1zM199 190h1v1h-1zM203 190h1v1h-1zM205 190h4v1h-4zM212 190h2v1h-2zM217 190h1v1h-1zM219 190h4v1h-4zM224 190h1v1h-1zM226 190h6v1h-6zM233 190h3v1h-3zM313 190h7v1h-7zM321 190h4v1h-4zM327 190h20v1h-20zM351 190h3v1h-3zM363 190h6v1h-6zM477 190h13v1h-13zM491 190h4v1h-4zM503 190h1v1h-1zM505 190h2v1h-2zM206 191h4v1h-4zM211 191h3v1h-3zM215 191h2v1h-2zM221 191h2v1h-2zM227 191h3v1h-3zM232 191h2v1h-2zM313 191h1v1h-1zM315 191h1v1h-1zM317 191h5v1h-5zM325 191h1v1h-1zM327 191h1v1h-1zM333 191h1v1h-1zM335 191h10v1h-10zM349 191h1v1h-1zM351 191h1v1h-1zM361 191h1v1h-1zM364 191h4v1h-4zM476 191h2v1h-2zM480 191h2v1h-2zM483 191h5v1h-5zM490 191h5v1h-5zM503 191h1v1h-1zM505 191h2v1h-2zM202 192h2v1h-2zM205 192h2v1h-2zM209 192h1v1h-1zM211 192h1v1h-1zM213 192h1v1h-1zM216 192h2v1h-2zM220 192h3v1h-3zM224 192h2v1h-2zM232 192h3v1h-3zM236 192h1v1h-1zM312 192h2v1h-2zM315 192h3v1h-3zM319 192h3v1h-3zM325 192h7v1h-7zM333 192h11v1h-11zM345 192h4v1h-4zM350 192h2v1h-2zM360 192h1v1h-1zM366 192h2v1h-2zM475 192h3v1h-3zM479 192h4v1h-4zM484 192h5v1h-5zM490 192h3v1h-3zM494 192h2v1h-2zM502 192h4v1h-4zM192 193h2v1h-2zM202 193h2v1h-2zM209 193h5v1h-5zM215 193h12v1h-12zM229 193h4v1h-4zM234 193h1v1h-1zM313 193h5v1h-5zM320 193h5v1h-5zM327 193h3v1h-3zM333 193h15v1h-15zM359 193h3v1h-3zM363 193h1v1h-1zM365 193h2v1h-2zM475 193h8v1h-8zM485 193h12v1h-12zM501 193h1v1h-1zM504 193h3v1h-3zM192 194h1v1h-1zM195 194h1v1h-1zM198 194h1v1h-1zM200 194h1v1h-1zM202 194h1v1h-1zM205 194h1v1h-1zM209 194h3v1h-3zM213 194h6v1h-6zM222 194h2v1h-2zM226 194h2v1h-2zM230 194h1v1h-1zM232 194h1v1h-1zM235 194h1v1h-1zM314 194h1v1h-1zM316 194h10v1h-10zM327 194h1v1h-1zM329 194h11v1h-11zM341 194h6v1h-6zM348 194h2v1h-2zM360 194h4v1h-4zM472 194h2v1h-2zM475 194h3v1h-3zM479 194h7v1h-7zM487 194h5v1h-5zM493 194h4v1h-4zM498 194h2v1h-2zM501 194h2v1h-2zM504 194h3v1h-3zM198 195h1v1h-1zM200 195h1v1h-1zM204 195h1v1h-1zM206 195h2v1h-2zM209 195h3v1h-3zM214 195h1v1h-1zM218 195h2v1h-2zM223 195h1v1h-1zM226 195h5v1h-5zM232 195h4v1h-4zM316 195h3v1h-3zM320 195h2v1h-2zM323 195h1v1h-1zM325 195h17v1h-17zM345 195h2v1h-2zM359 195h5v1h-5zM365 195h1v1h-1zM474 195h3v1h-3zM478 195h5v1h-5zM484 195h5v1h-5zM490 195h4v1h-4zM495 195h4v1h-4zM506 195h1v1h-1zM204 196h1v1h-1zM208 196h2v1h-2zM215 196h1v1h-1zM217 196h2v1h-2zM220 196h5v1h-5zM227 196h7v1h-7zM313 196h3v1h-3zM320 196h5v1h-5zM326 196h6v1h-6zM333 196h8v1h-8zM342 196h1v1h-1zM344 196h4v1h-4zM359 196h3v1h-3zM363 196h1v1h-1zM365 196h1v1h-1zM471 196h2v1h-2zM475 196h5v1h-5zM482 196h1v1h-1zM485 196h2v1h-2zM488 196h1v1h-1zM490 196h4v1h-4zM495 196h9v1h-9zM204 197h2v1h-2zM207 197h4v1h-4zM212 197h4v1h-4zM222 197h1v1h-1zM224 197h2v1h-2zM227 197h5v1h-5zM233 197h1v1h-1zM314 197h1v1h-1zM316 197h1v1h-1zM318 197h2v1h-2zM322 197h6v1h-6zM329 197h5v1h-5zM335 197h1v1h-1zM337 197h8v1h-8zM346 197h1v1h-1zM359 197h1v1h-1zM361 197h2v1h-2zM365 197h1v1h-1zM470 197h2v1h-2zM474 197h6v1h-6zM484 197h1v1h-1zM487 197h3v1h-3zM491 197h6v1h-6zM499 197h1v1h-1zM502 197h6v1h-6zM204 198h3v1h-3zM208 198h4v1h-4zM213 198h3v1h-3zM218 198h1v1h-1zM220 198h3v1h-3zM227 198h2v1h-2zM230 198h1v1h-1zM233 198h1v1h-1zM314 198h1v1h-1zM316 198h1v1h-1zM318 198h3v1h-3zM323 198h3v1h-3zM328 198h9v1h-9zM339 198h4v1h-4zM344 198h2v1h-2zM359 198h5v1h-5zM469 198h4v1h-4zM474 198h3v1h-3zM478 198h1v1h-1zM480 198h6v1h-6zM487 198h1v1h-1zM492 198h6v1h-6zM499 198h1v1h-1zM501 198h4v1h-4zM508 198h1v1h-1zM206 199h1v1h-1zM210 199h2v1h-2zM216 199h1v1h-1zM221 199h4v1h-4zM226 199h2v1h-2zM229 199h2v1h-2zM314 199h1v1h-1zM317 199h2v1h-2zM321 199h3v1h-3zM326 199h2v1h-2zM329 199h2v1h-2zM332 199h6v1h-6zM340 199h3v1h-3zM344 199h2v1h-2zM359 199h7v1h-7zM465 199h9v1h-9zM476 199h2v1h-2zM479 199h3v1h-3zM483 199h5v1h-5zM489 199h1v1h-1zM494 199h1v1h-1zM496 199h4v1h-4zM501 199h4v1h-4zM506 199h1v1h-1zM508 199h2v1h-2zM199 200h1v1h-1zM202 200h1v1h-1zM204 200h2v1h-2zM211 200h2v1h-2zM214 200h1v1h-1zM229 200h1v1h-1zM318 200h2v1h-2zM321 200h1v1h-1zM323 200h1v1h-1zM327 200h5v1h-5zM333 200h4v1h-4zM338 200h4v1h-4zM343 200h2v1h-2zM358 200h7v1h-7zM463 200h2v1h-2zM466 200h4v1h-4zM471 200h4v1h-4zM476 200h3v1h-3zM480 200h2v1h-2zM483 200h1v1h-1zM485 200h10v1h-10zM496 200h1v1h-1zM498 200h6v1h-6zM195 201h1v1h-1zM200 201h1v1h-1zM202 201h3v1h-3zM206 201h2v1h-2zM209 201h3v1h-3zM213 201h4v1h-4zM220 201h3v1h-3zM225 201h2v1h-2zM228 201h1v1h-1zM233 201h1v1h-1zM319 201h2v1h-2zM327 201h15v1h-15zM343 201h2v1h-2zM358 201h5v1h-5zM364 201h1v1h-1zM461 201h1v1h-1zM463 201h2v1h-2zM467 201h9v1h-9zM477 201h11v1h-11zM491 201h5v1h-5zM497 201h7v1h-7zM505 201h2v1h-2zM508 201h2v1h-2zM198 202h1v1h-1zM200 202h1v1h-1zM202 202h4v1h-4zM208 202h2v1h-2zM212 202h2v1h-2zM218 202h1v1h-1zM220 202h2v1h-2zM226 202h1v1h-1zM229 202h1v1h-1zM320 202h1v1h-1zM322 202h1v1h-1zM325 202h1v1h-1zM329 202h4v1h-4zM336 202h6v1h-6zM343 202h1v1h-1zM345 202h1v1h-1zM359 202h3v1h-3zM364 202h1v1h-1zM459 202h2v1h-2zM462 202h2v1h-2zM465 202h1v1h-1zM469 202h6v1h-6zM476 202h2v1h-2zM479 202h2v1h-2zM482 202h3v1h-3zM486 202h2v1h-2zM489 202h1v1h-1zM492 202h2v1h-2zM495 202h13v1h-13zM510 202h1v1h-1zM205 203h1v1h-1zM208 203h1v1h-1zM212 203h4v1h-4zM218 203h5v1h-5zM225 203h2v1h-2zM229 203h1v1h-1zM319 203h1v1h-1zM323 203h2v1h-2zM326 203h2v1h-2zM329 203h2v1h-2zM334 203h3v1h-3zM338 203h3v1h-3zM342 203h3v1h-3zM359 203h2v1h-2zM362 203h1v1h-1zM458 203h1v1h-1zM460 203h7v1h-7zM468 203h1v1h-1zM470 203h4v1h-4zM475 203h1v1h-1zM477 203h1v1h-1zM480 203h4v1h-4zM487 203h3v1h-3zM492 203h4v1h-4zM498 203h6v1h-6zM505 203h1v1h-1zM508 203h1v1h-1zM510 203h1v1h-1zM203 204h1v1h-1zM206 204h2v1h-2zM212 204h3v1h-3zM216 204h1v1h-1zM218 204h2v1h-2zM226 204h2v1h-2zM229 204h2v1h-2zM319 204h1v1h-1zM324 204h4v1h-4zM329 204h1v1h-1zM331 204h1v1h-1zM334 204h10v1h-10zM345 204h1v1h-1zM359 204h5v1h-5zM458 204h3v1h-3zM462 204h8v1h-8zM471 204h10v1h-10zM482 204h6v1h-6zM489 204h1v1h-1zM495 204h8v1h-8zM505 204h5v1h-5zM195 205h1v1h-1zM202 205h1v1h-1zM204 205h1v1h-1zM208 205h2v1h-2zM213 205h2v1h-2zM216 205h1v1h-1zM220 205h2v1h-2zM229 205h1v1h-1zM329 205h2v1h-2zM332 205h11v1h-11zM360 205h3v1h-3zM459 205h4v1h-4zM464 205h2v1h-2zM467 205h2v1h-2zM470 205h2v1h-2zM473 205h6v1h-6zM480 205h3v1h-3zM487 205h3v1h-3zM492 205h1v1h-1zM495 205h2v1h-2zM498 205h5v1h-5zM505 205h2v1h-2zM508 205h2v1h-2zM200 206h1v1h-1zM204 206h1v1h-1zM206 206h1v1h-1zM208 206h3v1h-3zM216 206h2v1h-2zM221 206h4v1h-4zM229 206h1v1h-1zM324 206h2v1h-2zM327 206h1v1h-1zM329 206h2v1h-2zM334 206h2v1h-2zM338 206h1v1h-1zM340 206h4v1h-4zM360 206h3v1h-3zM459 206h1v1h-1zM461 206h2v1h-2zM466 206h3v1h-3zM471 206h7v1h-7zM479 206h4v1h-4zM484 206h2v1h-2zM489 206h2v1h-2zM492 206h1v1h-1zM496 206h1v1h-1zM499 206h1v1h-1zM502 206h8v1h-8zM511 206h2v1h-2zM201 207h2v1h-2zM205 207h1v1h-1zM207 207h1v1h-1zM215 207h1v1h-1zM219 207h3v1h-3zM223 207h1v1h-1zM226 207h1v1h-1zM321 207h1v1h-1zM325 207h1v1h-1zM332 207h7v1h-7zM341 207h1v1h-1zM360 207h1v1h-1zM462 207h1v1h-1zM465 207h2v1h-2zM469 207h1v1h-1zM472 207h1v1h-1zM479 207h1v1h-1zM481 207h2v1h-2zM486 207h1v1h-1zM488 207h2v1h-2zM491 207h2v1h-2zM494 207h2v1h-2zM497 207h1v1h-1zM499 207h1v1h-1zM501 207h1v1h-1zM503 207h7v1h-7zM203 208h1v1h-1zM207 208h1v1h-1zM209 208h3v1h-3zM215 208h1v1h-1zM219 208h1v1h-1zM222 208h1v1h-1zM225 208h2v1h-2zM325 208h1v1h-1zM329 208h2v1h-2zM332 208h9v1h-9zM457 208h2v1h-2zM461 208h1v1h-1zM466 208h2v1h-2zM472 208h2v1h-2zM482 208h2v1h-2zM486 208h2v1h-2zM490 208h3v1h-3zM498 208h2v1h-2zM502 208h2v1h-2zM505 208h5v1h-5zM511 208h1v1h-1zM196 209h1v1h-1zM203 209h2v1h-2zM207 209h1v1h-1zM211 209h1v1h-1zM214 209h1v1h-1zM217 209h1v1h-1zM219 209h2v1h-2zM222 209h1v1h-1zM329 209h1v1h-1zM335 209h1v1h-1zM338 209h1v1h-1zM342 209h1v1h-1zM360 209h1v1h-1zM459 209h2v1h-2zM464 209h1v1h-1zM467 209h1v1h-1zM469 209h2v1h-2zM472 209h1v1h-1zM474 209h3v1h-3zM493 209h1v1h-1zM498 209h6v1h-6zM505 209h1v1h-1zM508 209h1v1h-1zM510 209h3v1h-3zM201 210h1v1h-1zM210 210h2v1h-2zM214 210h3v1h-3zM223 210h1v1h-1zM330 210h1v1h-1zM337 210h3v1h-3zM342 210h1v1h-1zM459 210h1v1h-1zM462 210h1v1h-1zM467 210h4v1h-4zM472 210h1v1h-1zM476 210h1v1h-1zM478 210h1v1h-1zM482 210h1v1h-1zM498 210h3v1h-3zM502 210h2v1h-2zM505 210h2v1h-2zM511 210h1v1h-1zM195 211h1v1h-1zM212 211h1v1h-1zM217 211h1v1h-1zM219 211h1v1h-1zM222 211h2v1h-2zM321 211h1v1h-1zM331 211h1v1h-1zM333 211h1v1h-1zM335 211h3v1h-3zM460 211h1v1h-1zM470 211h1v1h-1zM472 211h2v1h-2zM478 211h1v1h-1zM490 211h1v1h-1zM492 211h1v1h-1zM498 211h6v1h-6zM506 211h1v1h-1zM508 211h2v1h-2zM511 211h2v1h-2zM204 212h4v1h-4zM209 212h2v1h-2zM212 212h1v1h-1zM215 212h1v1h-1zM217 212h2v1h-2zM322 212h1v1h-1zM327 212h1v1h-1zM333 212h1v1h-1zM336 212h1v1h-1zM340 212h2v1h-2zM457 212h1v1h-1zM462 212h3v1h-3zM470 212h2v1h-2zM473 212h1v1h-1zM495 212h1v1h-1zM497 212h6v1h-6zM505 212h3v1h-3zM209 213h4v1h-4zM216 213h1v1h-1zM218 213h2v1h-2zM221 213h1v1h-1zM320 213h1v1h-1zM325 213h1v1h-1zM332 213h2v1h-2zM338 213h1v1h-1zM340 213h2v1h-2zM470 213h2v1h-2zM498 213h10v1h-10zM510 213h2v1h-2zM206 214h2v1h-2zM215 214h1v1h-1zM218 214h1v1h-1zM320 214h1v1h-1zM329 214h4v1h-4zM338 214h1v1h-1zM341 214h1v1h-1zM457 214h4v1h-4zM469 214h2v1h-2zM474 214h1v1h-1zM499 214h3v1h-3zM504 214h6v1h-6zM206 215h1v1h-1zM209 215h1v1h-1zM216 215h1v1h-1zM218 215h4v1h-4zM324 215h1v1h-1zM327 215h2v1h-2zM330 215h1v1h-1zM332 215h1v1h-1zM338 215h1v1h-1zM456 215h5v1h-5zM468 215h1v1h-1zM470 215h1v1h-1zM480 215h1v1h-1zM485 215h1v1h-1zM495 215h1v1h-1zM497 215h2v1h-2zM503 215h1v1h-1zM505 215h1v1h-1zM508 215h1v1h-1zM204 216h1v1h-1zM206 216h1v1h-1zM211 216h1v1h-1zM213 216h1v1h-1zM215 216h3v1h-3zM220 216h3v1h-3zM319 216h1v1h-1zM324 216h1v1h-1zM330 216h1v1h-1zM335 216h3v1h-3zM457 216h3v1h-3zM466 216h1v1h-1zM481 216h1v1h-1zM502 216h2v1h-2zM505 216h2v1h-2zM211 217h1v1h-1zM217 217h5v1h-5zM319 217h1v1h-1zM323 217h1v1h-1zM466 217h1v1h-1zM472 217h1v1h-1zM497 217h2v1h-2zM500 217h2v1h-2zM503 217h1v1h-1zM505 217h3v1h-3zM210 218h1v1h-1zM217 218h1v1h-1zM219 218h1v1h-1zM221 218h1v1h-1zM223 218h2v1h-2zM319 218h1v1h-1zM329 218h1v1h-1zM460 218h1v1h-1zM464 218h2v1h-2zM474 218h1v1h-1zM491 218h1v1h-1zM505 218h4v1h-4zM209 219h3v1h-3zM214 219h2v1h-2zM217 219h1v1h-1zM219 219h1v1h-1zM222 219h1v1h-1zM326 219h1v1h-1zM328 219h1v1h-1zM334 219h1v1h-1zM460 219h2v1h-2zM465 219h2v1h-2zM471 219h1v1h-1zM473 219h2v1h-2zM491 219h1v1h-1zM497 219h1v1h-1zM499 219h4v1h-4zM504 219h1v1h-1zM209 220h12v1h-12zM222 220h1v1h-1zM224 220h1v1h-1zM321 220h1v1h-1zM326 220h1v1h-1zM328 220h1v1h-1zM331 220h1v1h-1zM460 220h1v1h-1zM473 220h1v1h-1zM477 220h1v1h-1zM494 220h1v1h-1zM498 220h1v1h-1zM501 220h1v1h-1zM504 220h3v1h-3zM208 221h2v1h-2zM212 221h2v1h-2zM219 221h1v1h-1zM326 221h1v1h-1zM332 221h1v1h-1zM466 221h1v1h-1zM470 221h2v1h-2zM485 221h1v1h-1zM487 221h1v1h-1zM499 221h1v1h-1zM501 221h3v1h-3zM210 222h3v1h-3zM216 222h1v1h-1zM218 222h1v1h-1zM323 222h1v1h-1zM326 222h2v1h-2zM329 222h1v1h-1zM457 222h2v1h-2zM479 222h1v1h-1zM483 222h1v1h-1zM494 222h1v1h-1zM497 222h3v1h-3zM503 222h3v1h-3zM207 223h1v1h-1zM209 223h1v1h-1zM211 223h1v1h-1zM215 223h2v1h-2zM218 223h1v1h-1zM327 223h2v1h-2zM330 223h1v1h-1zM456 223h1v1h-1zM462 223h2v1h-2zM488 223h1v1h-1zM493 223h1v1h-1zM495 223h4v1h-4zM500 223h1v1h-1zM503 223h2v1h-2zM207 224h1v1h-1zM210 224h2v1h-2zM214 224h2v1h-2zM217 224h3v1h-3zM321 224h1v1h-1zM463 224h1v1h-1zM487 224h2v1h-2zM490 224h1v1h-1zM493 224h1v1h-1zM495 224h1v1h-1zM497 224h1v1h-1zM499 224h3v1h-3zM503 224h2v1h-2zM207 225h2v1h-2zM211 225h1v1h-1zM214 225h1v1h-1zM220 225h1v1h-1zM327 225h1v1h-1zM331 225h1v1h-1zM458 225h1v1h-1zM482 225h2v1h-2zM488 225h1v1h-1zM491 225h1v1h-1zM495 225h1v1h-1zM499 225h1v1h-1zM502 225h1v1h-1zM206 226h1v1h-1zM209 226h1v1h-1zM212 226h1v1h-1zM217 226h1v1h-1zM455 226h2v1h-2zM458 226h1v1h-1zM492 226h1v1h-1zM496 226h7v1h-7zM207 227h1v1h-1zM215 227h1v1h-1zM484 227h1v1h-1zM489 227h2v1h-2zM492 227h2v1h-2zM495 227h1v1h-1zM497 227h2v1h-2zM500 227h2v1h-2zM209 228h1v1h-1zM215 228h2v1h-2zM484 228h1v1h-1zM487 228h1v1h-1zM489 228h2v1h-2zM493 228h3v1h-3zM497 228h3v1h-3zM501 228h1v1h-1zM211 229h1v1h-1zM213 229h1v1h-1zM487 229h2v1h-2zM491 229h1v1h-1zM493 229h1v1h-1zM496 229h1v1h-1zM498 229h3v1h-3zM207 230h1v1h-1zM212 230h1v1h-1zM214 230h1v1h-1zM488 230h3v1h-3zM494 230h1v1h-1zM496 230h2v1h-2zM210 231h6v1h-6zM217 231h1v1h-1zM486 231h1v1h-1zM495 231h1v1h-1zM200 232h1v1h-1zM217 232h1v1h-1zM485 232h1v1h-1zM491 232h1v1h-1zM496 232h1v1h-1zM201 233h1v1h-1zM213 233h1v1h-1zM488 233h1v1h-1zM492 233h1v1h-1zM200 234h1v1h-1zM211 234h2v1h-2zM530 235h1v1h-1zM533 235h1v1h-1zM530 236h1v1h-1zM199 237h1v1h-1zM211 237h1v1h-1zM202 238h1v1h-1zM491 238h1v1h-1zM487 239h1v1h-1zM525 239h1v1h-1zM200 240h1v1h-1zM489 240h1v1h-1zM200 241h1v1h-1zM207 241h1v1h-1zM487 241h1v1h-1zM204 242h1v1h-1zM514 244h1v1h-1zM204 245h1v1h-1zM511 246h1v1h-1zM204 247h1v1h-1zM208 247h1v1h-1zM200 250h1v1h-1zM207 250h1v1h-1zM201 251h1v1h-1zM207 251h1v1h-1zM205 255h1v1h-1zM208 258h1v1h-1zM211 259h1v1h-1zM213 259h1v1h-1zM209 260h1v1h-1zM213 260h1v1h-1z" fill="#17797c"/><path d="M394 34h1v1h-1zM403 34h1v1h-1zM445 34h1v1h-1zM455 35h1v1h-1zM133 36h1v1h-1zM385 36h1v1h-1zM396 36h1v1h-1zM434 36h1v1h-1zM137 37h1v1h-1zM393 37h1v1h-1zM413 37h1v1h-1zM420 37h1v1h-1zM443 37h1v1h-1zM324 38h1v1h-1zM409 38h1v1h-1zM415 38h1v1h-1zM450 38h1v1h-1zM120 39h1v1h-1zM136 39h1v1h-1zM328 39h1v1h-1zM400 39h1v1h-1zM413 39h1v1h-1zM424 39h1v1h-1zM427 39h1v1h-1zM121 40h1v1h-1zM131 40h1v1h-1zM137 40h1v1h-1zM317 40h1v1h-1zM395 40h1v1h-1zM398 40h1v1h-1zM405 40h1v1h-1zM416 40h1v1h-1zM430 40h1v1h-1zM455 40h1v1h-1zM461 40h1v1h-1zM123 41h1v1h-1zM126 41h1v1h-1zM128 41h1v1h-1zM326 41h1v1h-1zM352 41h1v1h-1zM412 41h1v1h-1zM417 41h1v1h-1zM434 41h1v1h-1zM456 41h1v1h-1zM467 41h1v1h-1zM469 41h1v1h-1zM117 42h1v1h-1zM127 42h1v1h-1zM131 42h1v1h-1zM332 42h1v1h-1zM339 42h1v1h-1zM356 42h1v1h-1zM392 42h1v1h-1zM399 42h1v1h-1zM417 42h2v1h-2zM420 42h1v1h-1zM449 42h1v1h-1zM461 42h1v1h-1zM131 43h1v1h-1zM332 43h1v1h-1zM391 43h1v1h-1zM406 43h1v1h-1zM424 43h1v1h-1zM436 43h1v1h-1zM463 43h1v1h-1zM112 44h1v1h-1zM128 44h1v1h-1zM137 44h1v1h-1zM142 44h1v1h-1zM323 44h1v1h-1zM334 44h2v1h-2zM344 44h1v1h-1zM346 44h1v1h-1zM359 44h1v1h-1zM405 44h1v1h-1zM410 44h1v1h-1zM429 44h1v1h-1zM436 44h1v1h-1zM444 44h1v1h-1zM448 44h1v1h-1zM114 45h1v1h-1zM126 45h1v1h-1zM130 45h1v1h-1zM134 45h1v1h-1zM150 45h1v1h-1zM320 45h1v1h-1zM397 45h1v1h-1zM421 45h1v1h-1zM431 45h1v1h-1zM440 45h1v1h-1zM442 45h1v1h-1zM474 45h1v1h-1zM485 45h1v1h-1zM116 46h1v1h-1zM124 46h1v1h-1zM138 46h1v1h-1zM344 46h2v1h-2zM371 46h1v1h-1zM396 46h1v1h-1zM403 46h1v1h-1zM417 46h1v1h-1zM420 46h1v1h-1zM424 46h1v1h-1zM438 46h1v1h-1zM441 46h1v1h-1zM462 46h1v1h-1zM131 47h2v1h-2zM167 47h1v1h-1zM353 47h1v1h-1zM357 47h1v1h-1zM380 47h1v1h-1zM396 47h1v1h-1zM400 47h1v1h-1zM425 47h2v1h-2zM114 48h1v1h-1zM116 48h1v1h-1zM134 48h1v1h-1zM148 48h1v1h-1zM335 48h1v1h-1zM344 48h1v1h-1zM361 48h1v1h-1zM372 48h1v1h-1zM379 48h1v1h-1zM389 48h1v1h-1zM404 48h1v1h-1zM409 48h1v1h-1zM420 48h1v1h-1zM431 48h1v1h-1zM434 48h1v1h-1zM436 48h1v1h-1zM444 48h1v1h-1zM448 48h1v1h-1zM452 48h1v1h-1zM138 49h1v1h-1zM156 49h1v1h-1zM160 49h1v1h-1zM183 49h1v1h-1zM330 49h2v1h-2zM353 49h1v1h-1zM388 49h2v1h-2zM398 49h1v1h-1zM424 49h1v1h-1zM428 49h1v1h-1zM438 49h1v1h-1zM450 49h1v1h-1zM136 50h1v1h-1zM146 50h1v1h-1zM334 50h1v1h-1zM352 50h1v1h-1zM402 50h1v1h-1zM412 50h2v1h-2zM419 50h1v1h-1zM422 50h1v1h-1zM434 50h1v1h-1zM164 51h1v1h-1zM307 51h1v1h-1zM310 51h1v1h-1zM340 51h1v1h-1zM342 51h1v1h-1zM344 51h1v1h-1zM346 51h1v1h-1zM352 51h1v1h-1zM362 51h1v1h-1zM367 51h1v1h-1zM406 51h1v1h-1zM422 51h2v1h-2zM439 51h1v1h-1zM442 51h1v1h-1zM453 51h1v1h-1zM145 52h1v1h-1zM147 52h1v1h-1zM288 52h1v1h-1zM326 52h1v1h-1zM341 52h1v1h-1zM343 52h1v1h-1zM381 52h1v1h-1zM412 52h2v1h-2zM416 52h2v1h-2zM485 52h1v1h-1zM184 53h1v1h-1zM334 53h1v1h-1zM339 53h1v1h-1zM348 53h1v1h-1zM401 53h1v1h-1zM405 53h3v1h-3zM419 53h1v1h-1zM421 53h1v1h-1zM427 53h2v1h-2zM436 53h1v1h-1zM440 53h2v1h-2zM451 53h1v1h-1zM455 53h1v1h-1zM489 53h1v1h-1zM153 54h1v1h-1zM202 54h1v1h-1zM332 54h1v1h-1zM342 54h1v1h-1zM349 54h1v1h-1zM359 54h1v1h-1zM376 54h1v1h-1zM432 54h1v1h-1zM436 54h1v1h-1zM441 54h1v1h-1zM443 54h1v1h-1zM452 54h1v1h-1zM458 54h1v1h-1zM152 55h1v1h-1zM158 55h1v1h-1zM172 55h1v1h-1zM180 55h1v1h-1zM306 55h1v1h-1zM326 55h1v1h-1zM329 55h1v1h-1zM335 55h1v1h-1zM351 55h1v1h-1zM374 55h1v1h-1zM397 55h1v1h-1zM401 55h1v1h-1zM405 55h1v1h-1zM452 55h2v1h-2zM457 55h1v1h-1zM143 56h1v1h-1zM146 56h1v1h-1zM343 56h1v1h-1zM357 56h1v1h-1zM368 56h1v1h-1zM406 56h2v1h-2zM411 56h1v1h-1zM414 56h1v1h-1zM434 56h1v1h-1zM459 56h1v1h-1zM469 56h1v1h-1zM487 56h1v1h-1zM334 57h1v1h-1zM357 57h1v1h-1zM386 57h1v1h-1zM402 57h1v1h-1zM405 57h1v1h-1zM414 57h1v1h-1zM449 57h2v1h-2zM367 58h1v1h-1zM373 58h2v1h-2zM386 58h1v1h-1zM401 58h1v1h-1zM403 58h1v1h-1zM405 58h1v1h-1zM408 58h1v1h-1zM425 58h1v1h-1zM443 58h2v1h-2zM457 58h1v1h-1zM149 59h1v1h-1zM204 59h1v1h-1zM207 59h1v1h-1zM305 59h1v1h-1zM332 59h1v1h-1zM351 59h2v1h-2zM370 59h1v1h-1zM379 59h1v1h-1zM387 59h1v1h-1zM398 59h1v1h-1zM416 59h1v1h-1zM428 59h1v1h-1zM449 59h1v1h-1zM461 59h1v1h-1zM467 59h1v1h-1zM144 60h1v1h-1zM205 60h1v1h-1zM326 60h1v1h-1zM354 60h2v1h-2zM360 60h1v1h-1zM385 60h1v1h-1zM387 60h1v1h-1zM391 60h2v1h-2zM400 60h1v1h-1zM408 60h1v1h-1zM410 60h1v1h-1zM424 60h1v1h-1zM438 60h1v1h-1zM447 60h1v1h-1zM457 60h1v1h-1zM460 60h1v1h-1zM166 61h1v1h-1zM316 61h1v1h-1zM336 61h1v1h-1zM358 61h2v1h-2zM374 61h1v1h-1zM383 61h1v1h-1zM386 61h1v1h-1zM390 61h1v1h-1zM396 61h1v1h-1zM411 61h1v1h-1zM414 61h1v1h-1zM422 61h1v1h-1zM426 61h1v1h-1zM447 61h1v1h-1zM466 61h1v1h-1zM468 61h1v1h-1zM173 62h1v1h-1zM182 62h1v1h-1zM324 62h1v1h-1zM327 62h1v1h-1zM331 62h1v1h-1zM361 62h1v1h-1zM374 62h2v1h-2zM379 62h1v1h-1zM385 62h1v1h-1zM388 62h1v1h-1zM412 62h2v1h-2zM420 62h1v1h-1zM449 62h1v1h-1zM455 62h3v1h-3zM461 62h1v1h-1zM146 63h1v1h-1zM155 63h1v1h-1zM158 63h1v1h-1zM340 63h1v1h-1zM345 63h1v1h-1zM356 63h1v1h-1zM386 63h1v1h-1zM390 63h1v1h-1zM393 63h1v1h-1zM399 63h1v1h-1zM421 63h2v1h-2zM436 63h1v1h-1zM446 63h1v1h-1zM464 63h1v1h-1zM466 63h1v1h-1zM475 63h1v1h-1zM150 64h2v1h-2zM156 64h1v1h-1zM159 64h1v1h-1zM161 64h1v1h-1zM202 64h1v1h-1zM318 64h1v1h-1zM322 64h1v1h-1zM349 64h1v1h-1zM351 64h1v1h-1zM356 64h1v1h-1zM359 64h1v1h-1zM370 64h1v1h-1zM400 64h1v1h-1zM402 64h2v1h-2zM419 64h1v1h-1zM451 64h1v1h-1zM454 64h1v1h-1zM457 64h1v1h-1zM143 65h1v1h-1zM150 65h1v1h-1zM152 65h1v1h-1zM185 65h1v1h-1zM314 65h1v1h-1zM320 65h1v1h-1zM322 65h1v1h-1zM325 65h1v1h-1zM355 65h1v1h-1zM358 65h1v1h-1zM374 65h1v1h-1zM377 65h2v1h-2zM383 65h1v1h-1zM386 65h1v1h-1zM388 65h1v1h-1zM411 65h1v1h-1zM417 65h1v1h-1zM431 65h1v1h-1zM447 65h1v1h-1zM452 65h1v1h-1zM463 65h1v1h-1zM172 66h1v1h-1zM176 66h1v1h-1zM191 66h1v1h-1zM198 66h1v1h-1zM351 66h1v1h-1zM356 66h1v1h-1zM358 66h1v1h-1zM372 66h1v1h-1zM376 66h1v1h-1zM382 66h1v1h-1zM384 66h1v1h-1zM388 66h1v1h-1zM417 66h1v1h-1zM424 66h1v1h-1zM444 66h1v1h-1zM453 66h1v1h-1zM465 66h2v1h-2zM470 66h1v1h-1zM141 67h1v1h-1zM167 67h1v1h-1zM172 67h1v1h-1zM334 67h1v1h-1zM338 67h1v1h-1zM349 67h2v1h-2zM356 67h1v1h-1zM363 67h1v1h-1zM371 67h1v1h-1zM383 67h1v1h-1zM421 67h1v1h-1zM424 67h1v1h-1zM429 67h1v1h-1zM434 67h1v1h-1zM437 67h1v1h-1zM442 67h1v1h-1zM444 67h1v1h-1zM454 67h1v1h-1zM458 67h1v1h-1zM462 67h1v1h-1zM471 67h1v1h-1zM142 68h1v1h-1zM158 68h1v1h-1zM162 68h1v1h-1zM175 68h1v1h-1zM371 68h1v1h-1zM380 68h1v1h-1zM383 68h2v1h-2zM411 68h1v1h-1zM431 68h1v1h-1zM448 68h1v1h-1zM460 68h1v1h-1zM135 69h1v1h-1zM151 69h1v1h-1zM298 69h1v1h-1zM326 69h1v1h-1zM365 69h2v1h-2zM374 69h3v1h-3zM395 69h1v1h-1zM455 69h1v1h-1zM470 69h1v1h-1zM145 70h1v1h-1zM150 70h1v1h-1zM152 71h2v1h-2zM163 71h1v1h-1zM185 71h1v1h-1zM305 71h1v1h-1zM326 71h1v1h-1zM373 71h1v1h-1zM434 71h1v1h-1zM442 71h1v1h-1zM450 71h1v1h-1zM457 71h2v1h-2zM136 72h1v1h-1zM193 72h1v1h-1zM300 72h1v1h-1zM449 72h1v1h-1zM464 72h1v1h-1zM142 73h1v1h-1zM147 73h1v1h-1zM161 73h1v1h-1zM169 73h1v1h-1zM194 73h1v1h-1zM452 73h2v1h-2zM481 73h1v1h-1zM133 74h1v1h-1zM146 74h1v1h-1zM158 74h1v1h-1zM287 74h1v1h-1zM162 75h1v1h-1zM287 75h1v1h-1zM379 75h1v1h-1zM430 75h1v1h-1zM455 75h1v1h-1zM160 76h1v1h-1zM133 77h1v1h-1zM137 77h1v1h-1zM166 77h1v1h-1zM168 77h1v1h-1zM175 77h1v1h-1zM287 77h1v1h-1zM455 77h1v1h-1zM137 78h2v1h-2zM149 78h1v1h-1zM160 78h1v1h-1zM460 78h1v1h-1zM136 79h1v1h-1zM142 79h1v1h-1zM144 79h1v1h-1zM150 79h1v1h-1zM133 80h1v1h-1zM139 80h1v1h-1zM161 80h1v1h-1zM164 80h1v1h-1zM172 80h1v1h-1zM184 80h1v1h-1zM194 80h1v1h-1zM134 81h1v1h-1zM150 81h1v1h-1zM156 81h1v1h-1zM174 81h1v1h-1zM176 81h1v1h-1zM287 81h1v1h-1zM292 81h2v1h-2zM447 81h1v1h-1zM485 81h1v1h-1zM133 82h1v1h-1zM142 82h1v1h-1zM189 82h1v1h-1zM294 82h1v1h-1zM437 82h1v1h-1zM132 83h2v1h-2zM136 83h1v1h-1zM145 83h1v1h-1zM149 83h1v1h-1zM169 83h1v1h-1zM458 83h1v1h-1zM130 84h1v1h-1zM428 84h1v1h-1zM136 85h1v1h-1zM139 85h1v1h-1zM141 85h1v1h-1zM151 85h2v1h-2zM155 85h1v1h-1zM158 85h1v1h-1zM164 85h1v1h-1zM171 85h2v1h-2zM175 85h1v1h-1zM181 85h1v1h-1zM186 85h1v1h-1zM300 85h1v1h-1zM437 85h1v1h-1zM440 85h1v1h-1zM457 85h1v1h-1zM469 85h1v1h-1zM131 86h1v1h-1zM137 86h1v1h-1zM156 86h1v1h-1zM163 86h3v1h-3zM168 86h1v1h-1zM442 86h1v1h-1zM481 86h1v1h-1zM133 87h1v1h-1zM153 87h1v1h-1zM159 87h1v1h-1zM166 87h1v1h-1zM179 87h1v1h-1zM432 87h1v1h-1zM447 87h1v1h-1zM134 88h1v1h-1zM158 88h1v1h-1zM177 88h1v1h-1zM301 88h1v1h-1zM140 89h1v1h-1zM161 89h1v1h-1zM164 89h1v1h-1zM177 89h1v1h-1zM446 89h1v1h-1zM138 90h1v1h-1zM165 90h1v1h-1zM168 90h1v1h-1zM382 90h1v1h-1zM426 90h1v1h-1zM439 90h1v1h-1zM146 91h1v1h-1zM150 91h1v1h-1zM153 91h1v1h-1zM161 91h1v1h-1zM179 91h1v1h-1zM181 91h1v1h-1zM350 91h1v1h-1zM352 91h2v1h-2zM374 91h1v1h-1zM144 92h1v1h-1zM153 92h1v1h-1zM164 92h1v1h-1zM175 92h1v1h-1zM185 92h1v1h-1zM297 92h1v1h-1zM299 92h1v1h-1zM451 92h1v1h-1zM455 92h1v1h-1zM155 93h1v1h-1zM173 93h1v1h-1zM311 93h1v1h-1zM366 93h1v1h-1zM441 93h1v1h-1zM452 93h1v1h-1zM156 94h3v1h-3zM170 94h1v1h-1zM174 94h1v1h-1zM459 94h1v1h-1zM182 95h1v1h-1zM459 95h1v1h-1zM142 96h2v1h-2zM161 96h1v1h-1zM181 96h1v1h-1zM283 96h1v1h-1zM156 97h1v1h-1zM170 97h1v1h-1zM173 97h1v1h-1zM161 98h2v1h-2zM415 98h1v1h-1zM142 99h1v1h-1zM149 99h1v1h-1zM158 99h1v1h-1zM423 99h2v1h-2zM427 99h1v1h-1zM411 100h1v1h-1zM414 100h1v1h-1zM142 101h1v1h-1zM145 101h1v1h-1zM153 101h1v1h-1zM406 101h1v1h-1zM413 101h1v1h-1zM423 101h1v1h-1zM433 101h1v1h-1zM141 102h1v1h-1zM153 102h1v1h-1zM414 102h2v1h-2zM421 102h1v1h-1zM435 102h1v1h-1zM438 102h1v1h-1zM404 103h1v1h-1zM421 103h1v1h-1zM149 104h1v1h-1zM402 104h2v1h-2zM432 104h1v1h-1zM434 104h1v1h-1zM436 104h1v1h-1zM458 104h1v1h-1zM140 105h2v1h-2zM149 105h1v1h-1zM393 105h1v1h-1zM402 105h1v1h-1zM421 105h1v1h-1zM423 105h1v1h-1zM426 105h1v1h-1zM141 106h1v1h-1zM374 106h1v1h-1zM393 106h1v1h-1zM402 106h1v1h-1zM418 106h1v1h-1zM429 106h1v1h-1zM436 106h1v1h-1zM345 107h1v1h-1zM407 107h1v1h-1zM417 107h1v1h-1zM425 107h1v1h-1zM433 107h2v1h-2zM436 107h1v1h-1zM441 107h3v1h-3zM461 107h1v1h-1zM143 108h1v1h-1zM400 108h1v1h-1zM419 108h1v1h-1zM422 108h1v1h-1zM427 108h1v1h-1zM433 108h1v1h-1zM439 108h1v1h-1zM143 109h1v1h-1zM146 109h1v1h-1zM154 109h1v1h-1zM429 109h1v1h-1zM434 109h1v1h-1zM449 109h1v1h-1zM455 109h1v1h-1zM395 110h1v1h-1zM410 110h1v1h-1zM441 110h1v1h-1zM148 111h1v1h-1zM153 111h1v1h-1zM180 111h1v1h-1zM399 111h1v1h-1zM403 111h2v1h-2zM410 111h1v1h-1zM413 111h1v1h-1zM422 111h1v1h-1zM446 111h1v1h-1zM152 112h1v1h-1zM180 112h1v1h-1zM401 112h1v1h-1zM407 112h1v1h-1zM418 112h2v1h-2zM450 112h1v1h-1zM452 112h1v1h-1zM148 113h1v1h-1zM178 113h2v1h-2zM400 113h1v1h-1zM435 113h1v1h-1zM443 113h1v1h-1zM152 114h1v1h-1zM183 114h1v1h-1zM403 114h1v1h-1zM420 114h1v1h-1zM444 114h1v1h-1zM145 115h2v1h-2zM149 115h1v1h-1zM154 115h1v1h-1zM184 115h1v1h-1zM406 115h1v1h-1zM412 115h1v1h-1zM428 115h1v1h-1zM431 115h1v1h-1zM154 116h1v1h-1zM410 116h1v1h-1zM414 116h3v1h-3zM447 116h1v1h-1zM147 117h1v1h-1zM155 117h1v1h-1zM191 117h1v1h-1zM402 117h1v1h-1zM406 117h1v1h-1zM411 117h1v1h-1zM430 117h1v1h-1zM437 117h1v1h-1zM445 117h1v1h-1zM155 118h1v1h-1zM407 118h1v1h-1zM438 118h1v1h-1zM441 118h1v1h-1zM149 119h1v1h-1zM194 119h1v1h-1zM413 119h1v1h-1zM437 119h1v1h-1zM443 119h1v1h-1zM190 120h1v1h-1zM289 120h1v1h-1zM403 120h1v1h-1zM444 120h1v1h-1zM447 120h1v1h-1zM157 121h1v1h-1zM160 121h1v1h-1zM272 121h1v1h-1zM404 121h1v1h-1zM432 121h2v1h-2zM440 121h1v1h-1zM444 121h1v1h-1zM150 122h1v1h-1zM152 122h1v1h-1zM162 122h1v1h-1zM292 122h1v1h-1zM295 122h1v1h-1zM440 122h1v1h-1zM471 122h1v1h-1zM158 123h1v1h-1zM278 123h1v1h-1zM289 123h1v1h-1zM297 123h1v1h-1zM434 123h1v1h-1zM441 123h1v1h-1zM449 123h1v1h-1zM285 124h1v1h-1zM302 124h1v1h-1zM409 124h1v1h-1zM412 124h1v1h-1zM441 124h1v1h-1zM449 124h1v1h-1zM164 125h1v1h-1zM271 125h1v1h-1zM273 125h1v1h-1zM287 125h1v1h-1zM301 125h1v1h-1zM450 125h1v1h-1zM282 126h1v1h-1zM292 126h1v1h-1zM307 126h1v1h-1zM441 126h1v1h-1zM449 126h1v1h-1zM452 126h1v1h-1zM280 127h1v1h-1zM284 127h1v1h-1zM288 127h1v1h-1zM321 127h1v1h-1zM408 127h1v1h-1zM472 127h1v1h-1zM280 128h1v1h-1zM283 128h1v1h-1zM287 128h1v1h-1zM292 128h2v1h-2zM297 128h1v1h-1zM308 128h1v1h-1zM404 128h1v1h-1zM282 129h1v1h-1zM287 129h1v1h-1zM294 129h1v1h-1zM307 129h1v1h-1zM310 129h1v1h-1zM320 129h1v1h-1zM327 129h1v1h-1zM340 129h1v1h-1zM439 129h1v1h-1zM446 129h1v1h-1zM475 129h1v1h-1zM272 130h1v1h-1zM287 130h1v1h-1zM289 130h1v1h-1zM303 130h1v1h-1zM323 130h1v1h-1zM331 130h1v1h-1zM337 130h1v1h-1zM340 130h1v1h-1zM167 131h1v1h-1zM286 131h3v1h-3zM292 131h1v1h-1zM294 131h1v1h-1zM297 131h1v1h-1zM302 131h1v1h-1zM307 131h1v1h-1zM309 131h1v1h-1zM313 131h1v1h-1zM342 131h1v1h-1zM449 131h1v1h-1zM290 132h1v1h-1zM312 132h1v1h-1zM321 132h1v1h-1zM325 132h1v1h-1zM341 132h1v1h-1zM406 132h1v1h-1zM446 132h1v1h-1zM273 133h1v1h-1zM275 133h1v1h-1zM294 133h1v1h-1zM309 133h1v1h-1zM316 133h1v1h-1zM318 133h1v1h-1zM327 133h1v1h-1zM339 133h1v1h-1zM347 133h1v1h-1zM353 133h1v1h-1zM406 133h1v1h-1zM450 133h1v1h-1zM190 134h1v1h-1zM307 134h1v1h-1zM310 134h1v1h-1zM316 134h1v1h-1zM325 134h1v1h-1zM329 134h2v1h-2zM338 134h1v1h-1zM342 134h1v1h-1zM449 134h1v1h-1zM453 134h1v1h-1zM187 135h1v1h-1zM189 135h1v1h-1zM191 135h1v1h-1zM286 135h1v1h-1zM288 135h1v1h-1zM311 135h1v1h-1zM329 135h1v1h-1zM333 135h1v1h-1zM348 135h1v1h-1zM407 135h1v1h-1zM409 135h1v1h-1zM446 135h1v1h-1zM475 135h1v1h-1zM187 136h1v1h-1zM190 136h1v1h-1zM194 136h1v1h-1zM204 136h1v1h-1zM282 136h1v1h-1zM286 136h1v1h-1zM302 136h1v1h-1zM306 136h1v1h-1zM311 136h1v1h-1zM316 136h1v1h-1zM319 136h2v1h-2zM338 136h1v1h-1zM353 136h1v1h-1zM411 136h1v1h-1zM191 137h1v1h-1zM275 137h1v1h-1zM282 137h1v1h-1zM302 137h1v1h-1zM306 137h2v1h-2zM320 137h1v1h-1zM322 137h1v1h-1zM326 137h2v1h-2zM357 137h1v1h-1zM448 137h1v1h-1zM186 138h1v1h-1zM204 138h1v1h-1zM277 138h2v1h-2zM281 138h1v1h-1zM293 138h1v1h-1zM307 138h1v1h-1zM309 138h1v1h-1zM313 138h1v1h-1zM319 138h1v1h-1zM322 138h1v1h-1zM327 138h2v1h-2zM339 138h1v1h-1zM479 138h1v1h-1zM198 139h1v1h-1zM280 139h1v1h-1zM301 139h1v1h-1zM305 139h1v1h-1zM307 139h1v1h-1zM311 139h1v1h-1zM313 139h1v1h-1zM319 139h1v1h-1zM332 139h1v1h-1zM349 139h1v1h-1zM440 139h1v1h-1zM180 140h1v1h-1zM199 140h1v1h-1zM206 140h1v1h-1zM282 140h3v1h-3zM331 140h1v1h-1zM333 140h1v1h-1zM341 140h1v1h-1zM344 140h1v1h-1zM352 140h1v1h-1zM189 141h1v1h-1zM199 141h1v1h-1zM280 141h1v1h-1zM300 141h1v1h-1zM312 141h1v1h-1zM315 141h1v1h-1zM325 141h1v1h-1zM343 141h2v1h-2zM348 141h1v1h-1zM185 142h1v1h-1zM195 142h1v1h-1zM204 142h1v1h-1zM278 142h1v1h-1zM281 142h1v1h-1zM283 142h1v1h-1zM297 142h1v1h-1zM299 142h1v1h-1zM308 142h1v1h-1zM310 142h1v1h-1zM314 142h2v1h-2zM332 142h1v1h-1zM343 142h1v1h-1zM351 142h1v1h-1zM181 143h1v1h-1zM186 143h1v1h-1zM190 143h1v1h-1zM192 143h1v1h-1zM197 143h2v1h-2zM285 143h1v1h-1zM291 143h1v1h-1zM305 143h1v1h-1zM314 143h1v1h-1zM320 143h1v1h-1zM347 143h1v1h-1zM357 143h1v1h-1zM189 144h1v1h-1zM289 144h1v1h-1zM320 144h1v1h-1zM190 145h1v1h-1zM193 145h1v1h-1zM200 145h1v1h-1zM292 145h1v1h-1zM332 145h1v1h-1zM343 145h1v1h-1zM359 145h1v1h-1zM190 146h1v1h-1zM202 146h1v1h-1zM215 146h1v1h-1zM293 146h1v1h-1zM308 146h1v1h-1zM315 146h2v1h-2zM337 146h1v1h-1zM445 146h1v1h-1zM292 147h1v1h-1zM309 147h1v1h-1zM311 147h1v1h-1zM329 147h1v1h-1zM337 147h1v1h-1zM343 147h1v1h-1zM186 148h1v1h-1zM188 148h1v1h-1zM196 148h1v1h-1zM217 148h1v1h-1zM330 148h1v1h-1zM353 148h1v1h-1zM357 148h1v1h-1zM465 148h1v1h-1zM197 149h1v1h-1zM201 149h1v1h-1zM329 149h1v1h-1zM335 149h1v1h-1zM346 149h1v1h-1zM349 149h1v1h-1zM353 149h1v1h-1zM446 149h1v1h-1zM468 149h1v1h-1zM188 150h1v1h-1zM194 150h1v1h-1zM196 150h1v1h-1zM211 150h2v1h-2zM318 150h1v1h-1zM324 150h1v1h-1zM327 150h1v1h-1zM331 150h1v1h-1zM340 150h1v1h-1zM348 150h1v1h-1zM184 151h2v1h-2zM195 151h1v1h-1zM317 151h1v1h-1zM328 151h1v1h-1zM341 151h1v1h-1zM350 151h1v1h-1zM466 151h1v1h-1zM188 152h1v1h-1zM202 152h1v1h-1zM204 152h1v1h-1zM217 152h1v1h-1zM318 152h1v1h-1zM321 152h1v1h-1zM335 152h1v1h-1zM341 152h1v1h-1zM344 152h1v1h-1zM353 152h1v1h-1zM465 152h1v1h-1zM192 153h1v1h-1zM201 153h1v1h-1zM343 153h2v1h-2zM350 153h1v1h-1zM355 153h1v1h-1zM186 154h1v1h-1zM212 154h1v1h-1zM334 154h1v1h-1zM337 154h2v1h-2zM345 154h1v1h-1zM352 154h2v1h-2zM442 154h1v1h-1zM462 154h1v1h-1zM188 155h1v1h-1zM204 155h1v1h-1zM333 155h2v1h-2zM343 155h1v1h-1zM195 156h2v1h-2zM205 156h1v1h-1zM219 156h1v1h-1zM313 156h1v1h-1zM315 156h1v1h-1zM320 156h1v1h-1zM327 156h1v1h-1zM336 156h1v1h-1zM343 156h2v1h-2zM347 156h1v1h-1zM458 156h1v1h-1zM461 156h1v1h-1zM194 157h1v1h-1zM214 157h2v1h-2zM343 157h1v1h-1zM345 157h1v1h-1zM351 157h2v1h-2zM357 157h1v1h-1zM446 157h1v1h-1zM208 158h1v1h-1zM321 158h2v1h-2zM327 158h1v1h-1zM335 158h1v1h-1zM339 158h1v1h-1zM350 158h1v1h-1zM466 158h1v1h-1zM184 159h1v1h-1zM192 159h1v1h-1zM200 159h1v1h-1zM204 159h1v1h-1zM309 159h1v1h-1zM313 159h1v1h-1zM322 159h1v1h-1zM328 159h1v1h-1zM184 160h1v1h-1zM329 160h1v1h-1zM333 160h1v1h-1zM345 160h2v1h-2zM353 160h1v1h-1zM473 160h2v1h-2zM177 161h2v1h-2zM190 161h1v1h-1zM204 161h2v1h-2zM209 161h1v1h-1zM215 161h1v1h-1zM320 161h1v1h-1zM341 161h1v1h-1zM351 161h1v1h-1zM199 162h1v1h-1zM220 162h1v1h-1zM310 162h1v1h-1zM320 162h1v1h-1zM325 162h1v1h-1zM330 162h1v1h-1zM332 162h1v1h-1zM337 162h1v1h-1zM339 162h1v1h-1zM467 162h1v1h-1zM474 162h1v1h-1zM181 163h2v1h-2zM205 163h1v1h-1zM213 163h1v1h-1zM222 163h1v1h-1zM317 163h2v1h-2zM327 163h1v1h-1zM330 163h1v1h-1zM335 163h1v1h-1zM348 163h1v1h-1zM354 163h1v1h-1zM461 163h1v1h-1zM503 163h1v1h-1zM212 164h1v1h-1zM235 164h1v1h-1zM324 164h1v1h-1zM336 164h1v1h-1zM348 164h1v1h-1zM497 164h1v1h-1zM501 164h1v1h-1zM186 165h1v1h-1zM188 165h1v1h-1zM194 165h2v1h-2zM206 165h1v1h-1zM210 165h1v1h-1zM214 165h2v1h-2zM218 165h1v1h-1zM223 165h1v1h-1zM225 165h1v1h-1zM230 165h1v1h-1zM236 165h1v1h-1zM320 165h1v1h-1zM328 165h1v1h-1zM346 165h1v1h-1zM449 165h1v1h-1zM466 165h1v1h-1zM502 165h1v1h-1zM193 166h1v1h-1zM201 166h1v1h-1zM207 166h1v1h-1zM222 166h2v1h-2zM226 166h2v1h-2zM237 166h2v1h-2zM333 166h1v1h-1zM343 166h2v1h-2zM350 166h3v1h-3zM496 166h1v1h-1zM178 167h1v1h-1zM198 167h1v1h-1zM205 167h1v1h-1zM209 167h1v1h-1zM224 167h1v1h-1zM226 167h1v1h-1zM230 167h1v1h-1zM331 167h1v1h-1zM336 167h1v1h-1zM338 167h1v1h-1zM353 167h1v1h-1zM451 167h1v1h-1zM189 168h1v1h-1zM193 168h1v1h-1zM202 168h1v1h-1zM213 168h1v1h-1zM230 168h2v1h-2zM233 168h1v1h-1zM236 168h1v1h-1zM314 168h2v1h-2zM331 168h1v1h-1zM336 168h1v1h-1zM342 168h1v1h-1zM345 168h1v1h-1zM351 168h1v1h-1zM448 168h1v1h-1zM451 168h1v1h-1zM472 168h1v1h-1zM501 168h1v1h-1zM202 169h1v1h-1zM208 169h1v1h-1zM213 169h1v1h-1zM222 169h1v1h-1zM226 169h1v1h-1zM230 169h1v1h-1zM232 169h1v1h-1zM342 169h1v1h-1zM347 169h1v1h-1zM451 169h1v1h-1zM472 169h1v1h-1zM189 170h1v1h-1zM203 170h1v1h-1zM212 170h1v1h-1zM237 170h1v1h-1zM323 170h1v1h-1zM335 170h1v1h-1zM347 170h1v1h-1zM349 170h2v1h-2zM352 170h1v1h-1zM180 171h1v1h-1zM192 171h1v1h-1zM194 171h1v1h-1zM211 171h1v1h-1zM220 171h1v1h-1zM224 171h1v1h-1zM234 171h1v1h-1zM238 171h1v1h-1zM243 171h1v1h-1zM453 171h2v1h-2zM502 171h1v1h-1zM505 171h1v1h-1zM200 172h1v1h-1zM214 172h1v1h-1zM218 172h2v1h-2zM233 172h2v1h-2zM236 172h1v1h-1zM314 172h1v1h-1zM329 172h2v1h-2zM333 172h1v1h-1zM454 172h1v1h-1zM199 173h1v1h-1zM202 173h1v1h-1zM214 173h1v1h-1zM235 173h1v1h-1zM329 173h1v1h-1zM345 173h1v1h-1zM348 173h1v1h-1zM200 174h1v1h-1zM212 174h1v1h-1zM214 174h1v1h-1zM217 174h1v1h-1zM318 174h1v1h-1zM346 174h1v1h-1zM348 174h2v1h-2zM351 174h1v1h-1zM353 174h1v1h-1zM504 174h1v1h-1zM203 175h1v1h-1zM208 175h1v1h-1zM213 175h1v1h-1zM218 175h2v1h-2zM238 175h1v1h-1zM320 175h1v1h-1zM328 175h1v1h-1zM331 175h1v1h-1zM334 175h1v1h-1zM336 175h1v1h-1zM347 175h1v1h-1zM351 175h1v1h-1zM353 175h1v1h-1zM181 176h1v1h-1zM193 176h1v1h-1zM211 176h1v1h-1zM215 176h1v1h-1zM220 176h1v1h-1zM318 176h1v1h-1zM324 176h1v1h-1zM328 176h1v1h-1zM348 176h1v1h-1zM511 176h1v1h-1zM182 177h1v1h-1zM185 177h1v1h-1zM207 177h1v1h-1zM210 177h1v1h-1zM232 177h1v1h-1zM234 177h1v1h-1zM236 177h1v1h-1zM333 177h1v1h-1zM341 177h2v1h-2zM348 177h1v1h-1zM188 178h2v1h-2zM207 178h1v1h-1zM215 178h1v1h-1zM224 178h1v1h-1zM231 178h1v1h-1zM235 178h2v1h-2zM325 178h1v1h-1zM337 178h1v1h-1zM343 178h1v1h-1zM346 178h1v1h-1zM349 178h1v1h-1zM197 179h3v1h-3zM224 179h1v1h-1zM226 179h1v1h-1zM236 179h1v1h-1zM316 179h2v1h-2zM323 179h1v1h-1zM203 180h1v1h-1zM219 180h1v1h-1zM230 180h2v1h-2zM234 180h1v1h-1zM238 180h1v1h-1zM319 180h1v1h-1zM329 180h2v1h-2zM346 180h1v1h-1zM348 180h1v1h-1zM350 180h1v1h-1zM183 181h1v1h-1zM206 181h1v1h-1zM219 181h1v1h-1zM226 181h1v1h-1zM234 181h1v1h-1zM315 181h1v1h-1zM317 181h1v1h-1zM321 181h1v1h-1zM343 181h1v1h-1zM346 181h2v1h-2zM184 182h1v1h-1zM203 182h1v1h-1zM214 182h1v1h-1zM221 182h1v1h-1zM315 182h1v1h-1zM320 182h2v1h-2zM326 182h1v1h-1zM335 182h2v1h-2zM343 182h1v1h-1zM503 182h1v1h-1zM201 183h1v1h-1zM217 183h1v1h-1zM224 183h1v1h-1zM229 183h2v1h-2zM322 183h1v1h-1zM346 183h1v1h-1zM353 183h1v1h-1zM489 183h1v1h-1zM202 184h1v1h-1zM215 184h1v1h-1zM326 184h1v1h-1zM340 184h2v1h-2zM344 184h1v1h-1zM367 184h1v1h-1zM187 185h2v1h-2zM205 185h1v1h-1zM227 185h1v1h-1zM320 185h1v1h-1zM336 185h1v1h-1zM340 185h1v1h-1zM344 185h1v1h-1zM351 185h1v1h-1zM353 185h1v1h-1zM485 185h3v1h-3zM491 185h1v1h-1zM198 186h1v1h-1zM203 186h1v1h-1zM217 186h1v1h-1zM229 186h1v1h-1zM232 186h1v1h-1zM237 186h1v1h-1zM314 186h1v1h-1zM329 186h1v1h-1zM350 186h1v1h-1zM492 186h1v1h-1zM237 187h1v1h-1zM316 187h1v1h-1zM352 187h2v1h-2zM482 187h1v1h-1zM187 188h1v1h-1zM205 188h1v1h-1zM209 188h1v1h-1zM215 188h1v1h-1zM236 188h1v1h-1zM238 188h1v1h-1zM317 188h1v1h-1zM319 188h2v1h-2zM323 188h1v1h-1zM327 188h1v1h-1zM331 188h1v1h-1zM345 188h2v1h-2zM491 188h1v1h-1zM198 189h1v1h-1zM201 189h3v1h-3zM209 189h1v1h-1zM214 189h2v1h-2zM224 189h1v1h-1zM317 189h2v1h-2zM320 189h1v1h-1zM331 189h1v1h-1zM338 189h1v1h-1zM341 189h1v1h-1zM367 189h1v1h-1zM200 190h1v1h-1zM204 190h1v1h-1zM209 190h1v1h-1zM232 190h1v1h-1zM326 190h1v1h-1zM348 190h2v1h-2zM504 190h1v1h-1zM188 191h1v1h-1zM192 191h1v1h-1zM199 191h1v1h-1zM201 191h1v1h-1zM217 191h4v1h-4zM226 191h1v1h-1zM322 191h1v1h-1zM326 191h1v1h-1zM330 191h2v1h-2zM478 191h2v1h-2zM488 191h2v1h-2zM502 191h1v1h-1zM210 192h1v1h-1zM227 192h1v1h-1zM235 192h1v1h-1zM318 192h1v1h-1zM322 192h2v1h-2zM344 192h1v1h-1zM363 192h1v1h-1zM365 192h1v1h-1zM478 192h1v1h-1zM493 192h1v1h-1zM496 192h1v1h-1zM507 192h1v1h-1zM201 193h1v1h-1zM204 193h1v1h-1zM206 193h1v1h-1zM208 193h1v1h-1zM233 193h1v1h-1zM235 193h1v1h-1zM319 193h1v1h-1zM325 193h1v1h-1zM330 193h2v1h-2zM367 193h1v1h-1zM503 193h1v1h-1zM196 194h1v1h-1zM206 194h1v1h-1zM212 194h1v1h-1zM228 194h2v1h-2zM313 194h1v1h-1zM328 194h1v1h-1zM340 194h1v1h-1zM492 194h1v1h-1zM497 194h1v1h-1zM503 194h1v1h-1zM212 195h1v1h-1zM225 195h1v1h-1zM313 195h1v1h-1zM322 195h1v1h-1zM324 195h1v1h-1zM342 195h1v1h-1zM344 195h1v1h-1zM348 195h1v1h-1zM364 195h1v1h-1zM473 195h1v1h-1zM483 195h1v1h-1zM489 195h1v1h-1zM494 195h1v1h-1zM503 195h2v1h-2zM200 196h2v1h-2zM205 196h1v1h-1zM207 196h1v1h-1zM214 196h1v1h-1zM225 196h1v1h-1zM317 196h1v1h-1zM319 196h1v1h-1zM325 196h1v1h-1zM362 196h1v1h-1zM473 196h1v1h-1zM480 196h1v1h-1zM487 196h1v1h-1zM489 196h1v1h-1zM504 196h3v1h-3zM206 197h1v1h-1zM211 197h1v1h-1zM217 197h2v1h-2zM221 197h1v1h-1zM223 197h1v1h-1zM320 197h2v1h-2zM328 197h1v1h-1zM360 197h1v1h-1zM364 197h1v1h-1zM497 197h2v1h-2zM200 198h1v1h-1zM203 198h1v1h-1zM216 198h1v1h-1zM219 198h1v1h-1zM224 198h1v1h-1zM229 198h1v1h-1zM315 198h1v1h-1zM321 198h1v1h-1zM327 198h1v1h-1zM337 198h1v1h-1zM343 198h1v1h-1zM477 198h1v1h-1zM486 198h1v1h-1zM505 198h1v1h-1zM507 198h1v1h-1zM228 199h1v1h-1zM324 199h1v1h-1zM328 199h1v1h-1zM343 199h1v1h-1zM474 199h1v1h-1zM478 199h1v1h-1zM482 199h1v1h-1zM492 199h2v1h-2zM495 199h1v1h-1zM505 199h1v1h-1zM213 200h1v1h-1zM228 200h1v1h-1zM324 200h1v1h-1zM326 200h1v1h-1zM470 200h1v1h-1zM479 200h1v1h-1zM495 200h1v1h-1zM497 200h1v1h-1zM504 200h1v1h-1zM199 201h1v1h-1zM205 201h1v1h-1zM208 201h1v1h-1zM217 201h1v1h-1zM219 201h1v1h-1zM465 201h2v1h-2zM489 201h2v1h-2zM504 201h1v1h-1zM507 201h1v1h-1zM207 202h1v1h-1zM211 202h1v1h-1zM214 202h1v1h-1zM217 202h1v1h-1zM222 202h1v1h-1zM225 202h1v1h-1zM324 202h1v1h-1zM326 202h1v1h-1zM333 202h1v1h-1zM342 202h1v1h-1zM464 202h1v1h-1zM468 202h1v1h-1zM478 202h1v1h-1zM488 202h1v1h-1zM509 202h1v1h-1zM203 203h1v1h-1zM230 203h1v1h-1zM331 203h1v1h-1zM337 203h1v1h-1zM358 203h1v1h-1zM363 203h1v1h-1zM459 203h1v1h-1zM469 203h1v1h-1zM479 203h1v1h-1zM485 203h1v1h-1zM491 203h1v1h-1zM496 203h1v1h-1zM504 203h1v1h-1zM506 203h1v1h-1zM509 203h1v1h-1zM223 204h1v1h-1zM332 204h1v1h-1zM492 204h1v1h-1zM504 204h1v1h-1zM200 205h1v1h-1zM224 205h1v1h-1zM327 205h1v1h-1zM331 205h1v1h-1zM343 205h2v1h-2zM484 205h3v1h-3zM490 205h1v1h-1zM504 205h1v1h-1zM507 205h1v1h-1zM323 206h1v1h-1zM328 206h1v1h-1zM331 206h1v1h-1zM333 206h1v1h-1zM337 206h1v1h-1zM463 206h1v1h-1zM465 206h1v1h-1zM486 206h1v1h-1zM488 206h1v1h-1zM493 206h1v1h-1zM208 207h1v1h-1zM228 207h1v1h-1zM340 207h1v1h-1zM467 207h1v1h-1zM471 207h1v1h-1zM474 207h1v1h-1zM480 207h1v1h-1zM485 207h1v1h-1zM500 207h1v1h-1zM512 207h1v1h-1zM205 208h1v1h-1zM214 208h1v1h-1zM228 208h1v1h-1zM331 208h1v1h-1zM360 208h1v1h-1zM459 208h1v1h-1zM469 208h1v1h-1zM485 208h1v1h-1zM494 208h1v1h-1zM195 209h1v1h-1zM339 209h1v1h-1zM359 209h1v1h-1zM471 209h1v1h-1zM483 209h1v1h-1zM199 210h1v1h-1zM203 210h1v1h-1zM209 210h1v1h-1zM220 210h1v1h-1zM334 210h1v1h-1zM464 210h1v1h-1zM481 210h1v1h-1zM489 210h1v1h-1zM504 210h1v1h-1zM512 210h1v1h-1zM203 211h1v1h-1zM210 211h1v1h-1zM221 211h1v1h-1zM322 211h1v1h-1zM463 211h1v1h-1zM489 211h1v1h-1zM494 211h1v1h-1zM504 211h1v1h-1zM507 211h1v1h-1zM202 212h1v1h-1zM208 212h1v1h-1zM219 212h1v1h-1zM320 212h1v1h-1zM328 212h1v1h-1zM332 212h1v1h-1zM459 212h1v1h-1zM480 212h2v1h-2zM485 212h1v1h-1zM504 212h1v1h-1zM510 212h1v1h-1zM203 213h1v1h-1zM205 213h1v1h-1zM208 213h1v1h-1zM217 213h1v1h-1zM220 213h1v1h-1zM508 213h2v1h-2zM204 214h2v1h-2zM214 214h1v1h-1zM323 214h1v1h-1zM339 214h1v1h-1zM480 214h1v1h-1zM210 215h2v1h-2zM322 215h1v1h-1zM507 215h1v1h-1zM205 216h1v1h-1zM207 216h2v1h-2zM219 216h1v1h-1zM320 216h3v1h-3zM500 216h1v1h-1zM214 217h1v1h-1zM322 217h1v1h-1zM328 217h1v1h-1zM333 217h1v1h-1zM499 217h1v1h-1zM502 217h1v1h-1zM211 218h1v1h-1zM220 218h1v1h-1zM222 218h1v1h-1zM463 218h1v1h-1zM476 218h1v1h-1zM499 218h2v1h-2zM504 218h1v1h-1zM509 218h1v1h-1zM459 219h1v1h-1zM472 219h1v1h-1zM476 219h1v1h-1zM485 219h1v1h-1zM494 219h1v1h-1zM508 219h1v1h-1zM208 220h1v1h-1zM223 220h1v1h-1zM334 220h1v1h-1zM459 220h1v1h-1zM474 220h1v1h-1zM502 220h1v1h-1zM203 221h1v1h-1zM331 221h1v1h-1zM333 221h1v1h-1zM495 221h1v1h-1zM500 221h1v1h-1zM206 222h1v1h-1zM208 222h1v1h-1zM222 222h1v1h-1zM331 222h1v1h-1zM487 222h1v1h-1zM493 222h1v1h-1zM501 222h1v1h-1zM206 223h1v1h-1zM208 223h1v1h-1zM219 223h1v1h-1zM320 223h1v1h-1zM505 223h1v1h-1zM206 224h1v1h-1zM327 224h2v1h-2zM458 224h1v1h-1zM502 224h1v1h-1zM219 225h1v1h-1zM221 225h1v1h-1zM455 225h1v1h-1zM496 225h1v1h-1zM501 225h1v1h-1zM215 226h1v1h-1zM481 226h1v1h-1zM484 226h1v1h-1zM491 226h1v1h-1zM493 226h1v1h-1zM210 227h2v1h-2zM485 227h1v1h-1zM494 227h1v1h-1zM496 227h1v1h-1zM499 227h1v1h-1zM485 228h1v1h-1zM491 228h1v1h-1zM216 229h1v1h-1zM494 229h1v1h-1zM204 231h1v1h-1zM209 231h1v1h-1zM488 231h1v1h-1zM211 232h1v1h-1zM488 232h1v1h-1zM495 232h1v1h-1zM534 232h1v1h-1zM215 233h1v1h-1zM492 234h1v1h-1zM204 236h1v1h-1zM529 236h1v1h-1zM202 241h1v1h-1zM208 242h1v1h-1zM487 242h1v1h-1zM201 244h1v1h-1zM202 246h1v1h-1zM204 246h1v1h-1zM203 247h1v1h-1zM201 252h1v1h-1zM208 255h1v1h-1zM208 257h1v1h-1z" fill="#3a9ea3"/><path d="M160 41h1v1h-1zM161 46h2v1h-2zM162 47h1v1h-1zM170 47h1v1h-1zM165 48h2v1h-2zM170 48h1v1h-1zM162 49h2v1h-2zM170 49h1v1h-1zM174 49h1v1h-1zM165 50h1v1h-1zM168 50h1v1h-1zM171 50h1v1h-1zM163 51h1v1h-1zM166 51h1v1h-1zM168 51h1v1h-1zM166 52h1v1h-1zM170 52h1v1h-1zM161 53h2v1h-2zM165 53h1v1h-1zM171 53h1v1h-1zM174 53h1v1h-1zM166 54h1v1h-1zM170 55h1v1h-1zM148 59h1v1h-1zM159 65h1v1h-1zM153 69h1v1h-1zM165 71h1v1h-1zM153 72h1v1h-1zM157 72h1v1h-1zM168 72h1v1h-1zM137 73h1v1h-1zM164 75h1v1h-1zM136 89h1v1h-1zM147 93h1v1h-1zM163 98h1v1h-1zM316 191h1v1h-1zM329 191h1v1h-1zM336 197h1v1h-1zM466 202h1v1h-1zM485 202h1v1h-1zM494 202h1v1h-1zM328 203h1v1h-1zM341 203h1v1h-1zM474 203h1v1h-1zM476 203h1v1h-1zM470 204h1v1h-1zM493 204h1v1h-1zM487 206h1v1h-1zM324 207h1v1h-1zM458 207h1v1h-1zM473 207h1v1h-1zM478 207h1v1h-1zM488 209h1v1h-1zM323 210h1v1h-1zM459 211h1v1h-1zM474 212h1v1h-1zM457 213h1v1h-1zM462 213h1v1h-1zM469 213h1v1h-1zM478 213h1v1h-1zM486 213h1v1h-1zM485 214h1v1h-1zM465 215h1v1h-1zM473 216h1v1h-1zM337 217h1v1h-1zM473 218h1v1h-1zM482 218h1v1h-1zM484 218h1v1h-1zM464 220h1v1h-1zM482 220h1v1h-1zM464 221h1v1h-1zM476 221h1v1h-1zM480 222h1v1h-1zM326 223h1v1h-1zM459 226h1v1h-1z" fill="#c98a4a"/><path d="M135 44h1v1h-1zM136 46h2v1h-2zM136 47h3v1h-3zM140 47h1v1h-1zM142 47h1v1h-1zM135 48h2v1h-2zM138 48h2v1h-2zM142 48h1v1h-1zM135 49h3v1h-3zM139 49h2v1h-2zM138 50h2v1h-2zM141 50h2v1h-2zM137 51h2v1h-2zM140 51h1v1h-1zM142 51h1v1h-1zM138 52h4v1h-4zM138 53h5v1h-5zM138 54h5v1h-5zM138 55h3v1h-3zM138 56h4v1h-4zM137 57h2v1h-2zM138 58h3v1h-3zM137 59h2v1h-2zM141 59h1v1h-1zM139 60h1v1h-1zM174 62h1v1h-1zM376 62h1v1h-1zM436 62h1v1h-1zM364 64h1v1h-1zM374 64h1v1h-1zM442 64h1v1h-1zM453 64h1v1h-1zM318 65h1v1h-1zM208 66h1v1h-1zM469 67h1v1h-1zM473 67h1v1h-1zM442 69h1v1h-1zM146 71h1v1h-1zM310 72h1v1h-1zM458 73h1v1h-1zM167 74h1v1h-1zM155 76h1v1h-1zM148 77h1v1h-1zM132 78h1v1h-1zM452 83h1v1h-1zM157 84h1v1h-1zM480 84h1v1h-1zM414 87h1v1h-1zM184 90h1v1h-1zM154 92h1v1h-1zM136 94h1v1h-1zM176 94h1v1h-1zM157 96h1v1h-1zM175 96h1v1h-1zM419 100h1v1h-1zM439 100h1v1h-1zM431 103h1v1h-1zM140 104h1v1h-1zM429 104h1v1h-1zM153 105h1v1h-1zM445 108h1v1h-1zM399 110h1v1h-1zM146 117h1v1h-1zM435 119h1v1h-1zM297 120h1v1h-1zM373 120h1v1h-1zM406 120h1v1h-1zM411 120h1v1h-1zM438 122h1v1h-1zM439 123h1v1h-1zM442 123h1v1h-1zM448 123h1v1h-1zM165 126h1v1h-1zM168 128h1v1h-1zM271 128h1v1h-1zM290 128h1v1h-1zM310 130h1v1h-1zM331 131h1v1h-1zM339 132h1v1h-1zM440 132h1v1h-1zM454 132h1v1h-1zM300 133h1v1h-1zM342 133h1v1h-1zM410 133h1v1h-1zM343 134h1v1h-1zM322 135h1v1h-1zM306 138h1v1h-1zM410 138h1v1h-1zM291 139h1v1h-1zM315 139h1v1h-1zM186 140h1v1h-1zM198 141h1v1h-1zM323 142h1v1h-1zM480 143h1v1h-1zM279 144h1v1h-1zM293 144h1v1h-1zM286 145h1v1h-1zM336 146h1v1h-1zM214 147h1v1h-1zM284 147h1v1h-1zM342 149h1v1h-1zM316 154h1v1h-1zM349 154h1v1h-1zM354 154h1v1h-1zM213 157h1v1h-1zM206 158h1v1h-1zM213 158h1v1h-1zM215 163h1v1h-1zM450 165h1v1h-1zM192 166h1v1h-1zM315 166h1v1h-1zM348 166h1v1h-1zM497 166h1v1h-1zM197 167h1v1h-1zM239 167h1v1h-1zM333 167h1v1h-1zM324 169h1v1h-1zM318 172h1v1h-1zM216 174h1v1h-1zM236 174h1v1h-1zM325 174h1v1h-1zM336 174h1v1h-1zM323 175h1v1h-1zM346 175h1v1h-1zM349 176h1v1h-1zM480 176h1v1h-1zM320 178h1v1h-1zM320 179h1v1h-1zM322 181h1v1h-1zM326 181h1v1h-1zM342 182h1v1h-1zM315 184h1v1h-1zM323 184h1v1h-1zM230 185h1v1h-1zM332 185h1v1h-1zM218 186h1v1h-1zM214 187h1v1h-1zM333 188h1v1h-1zM328 189h1v1h-1zM342 189h1v1h-1zM216 190h1v1h-1zM225 190h1v1h-1zM236 190h1v1h-1zM346 191h1v1h-1zM363 191h1v1h-1zM332 193h1v1h-1zM474 194h1v1h-1zM318 196h1v1h-1zM363 197h1v1h-1zM483 197h1v1h-1zM203 200h1v1h-1zM337 200h1v1h-1zM475 202h1v1h-1zM490 203h1v1h-1zM321 204h1v1h-1zM501 206h1v1h-1zM212 207h1v1h-1zM459 207h1v1h-1zM208 208h1v1h-1zM327 208h1v1h-1zM466 211h1v1h-1zM225 213h1v1h-1zM222 221h1v1h-1zM498 221h1v1h-1zM504 221h1v1h-1zM329 224h1v1h-1zM215 229h1v1h-1z" fill="#454a4f"/></g><text x="-1.50" y="19.60" font-size="28" text-anchor="start" fill="#1a1a1a" stroke="#1a1a1a" stroke-width="0.18" >a</text><text x="162.45" y="15.90" font-size="12.4" text-anchor="middle" fill="#1a1a1a" stroke="#1a1a1a" stroke-width="0.18" textLength="23.37" lengthAdjust="spacingAndGlyphs">180°</text><text x="162.45" y="309.40" font-size="12.4" text-anchor="middle" fill="#1a1a1a" stroke="#1a1a1a" stroke-width="0.18" textLength="23.37" lengthAdjust="spacingAndGlyphs">180°</text><text x="206.80" y="15.90" font-size="12.4" text-anchor="middle" fill="#1a1a1a" stroke="#1a1a1a" stroke-width="0.18" textLength="37.18" lengthAdjust="spacingAndGlyphs">120° W</text><text x="206.80" y="309.40" font-size="12.4" text-anchor="middle" fill="#1a1a1a" stroke="#1a1a1a" stroke-width="0.18" textLength="37.18" lengthAdjust="spacingAndGlyphs">120° W</text><text x="251.20" y="15.90" font-size="12.4" text-anchor="middle" fill="#1a1a1a" stroke="#1a1a1a" stroke-width="0.18" textLength="30.89" lengthAdjust="spacingAndGlyphs">60° W</text><text x="251.20" y="309.40" font-size="12.4" text-anchor="middle" fill="#1a1a1a" stroke="#1a1a1a" stroke-width="0.18" textLength="30.89" lengthAdjust="spacingAndGlyphs">60° W</text><text x="295.50" y="15.90" font-size="12.4" text-anchor="middle" fill="#1a1a1a" stroke="#1a1a1a" stroke-width="0.18" textLength="10.80" lengthAdjust="spacingAndGlyphs">0°</text><text x="295.50" y="309.40" font-size="12.4" text-anchor="middle" fill="#1a1a1a" stroke="#1a1a1a" stroke-width="0.18" textLength="10.80" lengthAdjust="spacingAndGlyphs">0°</text><text x="339.80" y="15.90" font-size="12.4" text-anchor="middle" fill="#1a1a1a" stroke="#1a1a1a" stroke-width="0.18" textLength="27.76" lengthAdjust="spacingAndGlyphs">60° E</text><text x="339.80" y="309.40" font-size="12.4" text-anchor="middle" fill="#1a1a1a" stroke="#1a1a1a" stroke-width="0.18" textLength="27.76" lengthAdjust="spacingAndGlyphs">60° E</text><text x="384.20" y="15.90" font-size="12.4" text-anchor="middle" fill="#1a1a1a" stroke="#1a1a1a" stroke-width="0.18" textLength="34.05" lengthAdjust="spacingAndGlyphs">120° E</text><text x="384.20" y="309.40" font-size="12.4" text-anchor="middle" fill="#1a1a1a" stroke="#1a1a1a" stroke-width="0.18" textLength="34.05" lengthAdjust="spacingAndGlyphs">120° E</text><text x="428.50" y="15.90" font-size="12.4" text-anchor="middle" fill="#1a1a1a" stroke="#1a1a1a" stroke-width="0.18" textLength="23.37" lengthAdjust="spacingAndGlyphs">180°</text><text x="428.50" y="309.40" font-size="12.4" text-anchor="middle" fill="#1a1a1a" stroke="#1a1a1a" stroke-width="0.18" textLength="23.37" lengthAdjust="spacingAndGlyphs">180°</text><path d="M162.45,25V30.5M206.80,25V30.5M251.20,25V30.5M295.50,25V30.5M339.80,25V30.5M384.20,25V30.5M428.50,25V30.5M206.80,290.5V285M251.20,290.5V285M295.50,290.5V285M339.80,290.5V285M384.20,290.5V285M428.50,290.5V285" stroke="#555" stroke-width="0.9" fill="none"/><text x="54.60" y="75.20" font-size="12.4" text-anchor="end" fill="#1a1a1a" stroke="#1a1a1a" stroke-width="0.18" textLength="28.39" lengthAdjust="spacingAndGlyphs">45° N</text><text x="18.60" y="162.90" font-size="12.4" text-anchor="end" fill="#1a1a1a" stroke="#1a1a1a" stroke-width="0.18" textLength="10.80" lengthAdjust="spacingAndGlyphs">0°</text><text x="54.80" y="250.60" font-size="12.4" text-anchor="end" fill="#1a1a1a" stroke="#1a1a1a" stroke-width="0.18" textLength="27.76" lengthAdjust="spacingAndGlyphs">45° S</text><path d="M62,70.6H68M29.2,158H35" stroke="#555" stroke-width="0.9"/><rect x="57.5" y="148" width="112" height="144" fill="#fff"/><rect x="107.90" y="271.09" width="3.2" height="11.52" fill="#4d7c3a"/><rect x="114.70" y="172.35" width="3.2" height="110.25" fill="#107070"/><rect x="121.40" y="200.53" width="3.2" height="82.08" fill="#1e96a5"/><rect x="127.90" y="259.81" width="3.2" height="22.79" fill="#3cafb9"/><rect x="134.90" y="272.80" width="3.2" height="9.80" fill="#f8f3e1"/><rect x="140.90" y="276.72" width="3.2" height="5.88" fill="#eea05f"/><rect x="147.90" y="278.93" width="3.2" height="3.68" fill="#d76e28"/><rect x="154.40" y="277.70" width="3.2" height="4.90" fill="#a04b23"/><path d="M106.3,158.8V282.6H165.5" stroke="#111" stroke-width="1" fill="none"/><text x="95.00" y="287.40" font-size="13.2" text-anchor="end" fill="#1a1a1a" stroke="#1a1a1a" stroke-width="0.18" textLength="5.75" lengthAdjust="spacingAndGlyphs">0</text><text x="95.00" y="262.90" font-size="13.2" text-anchor="end" fill="#1a1a1a" stroke="#1a1a1a" stroke-width="0.18" textLength="11.50" lengthAdjust="spacingAndGlyphs">10</text><text x="95.00" y="238.40" font-size="13.2" text-anchor="end" fill="#1a1a1a" stroke="#1a1a1a" stroke-width="0.18" textLength="11.50" lengthAdjust="spacingAndGlyphs">20</text><text x="95.00" y="213.90" font-size="13.2" text-anchor="end" fill="#1a1a1a" stroke="#1a1a1a" stroke-width="0.18" textLength="11.50" lengthAdjust="spacingAndGlyphs">30</text><text x="95.00" y="189.40" font-size="13.2" text-anchor="end" fill="#1a1a1a" stroke="#1a1a1a" stroke-width="0.18" textLength="11.50" lengthAdjust="spacingAndGlyphs">40</text><text x="95.00" y="164.90" font-size="13.2" text-anchor="end" fill="#1a1a1a" stroke="#1a1a1a" stroke-width="0.18" textLength="11.50" lengthAdjust="spacingAndGlyphs">50</text><text x="0.00" y="0.00" font-size="13.2" text-anchor="middle" fill="#1a1a1a" stroke="#1a1a1a" stroke-width="0.18" transform="translate(77.5,221.4) rotate(-90)" textLength="81" lengthAdjust="spacingAndGlyphs">Area fraction (%)</text><rect x="3.8" y="297.7" width="33.5" height="10.5" fill="#3b4045"/><rect x="3.8" y="314.2" width="33.5" height="8.2" fill="#4d7c3a"/><text x="47.40" y="307.40" font-size="12.7" text-anchor="start" fill="#1a1a1a" stroke="#1a1a1a" stroke-width="0.18" >Unrecovered</text><text x="47.60" y="325.20" font-size="12.7" text-anchor="start" fill="#1a1a1a" stroke="#1a1a1a" stroke-width="0.18" >No vegetation productivity loss</text><rect x="249.50" y="313.9" width="30.71" height="8" fill="#107070"/><rect x="279.91" y="313.9" width="30.71" height="8" fill="#1e96a5"/><rect x="310.33" y="313.9" width="30.71" height="8" fill="#3cafb9"/><rect x="340.74" y="313.9" width="30.71" height="8" fill="#f8f3e1"/><rect x="371.16" y="313.9" width="30.71" height="8" fill="#eea05f"/><rect x="401.57" y="313.9" width="30.71" height="8" fill="#d76e28"/><rect x="431.99" y="313.9" width="30.71" height="8" fill="#a04b23"/><rect x="249.5" y="313.9" width="212.90" height="8" fill="none" stroke="#8a8a8a" stroke-width="0.7"/><text x="250.70" y="336.00" font-size="12.4" text-anchor="middle" fill="#1a1a1a" stroke="#1a1a1a" stroke-width="0.18" >0</text><text x="280.00" y="336.00" font-size="12.4" text-anchor="middle" fill="#1a1a1a" stroke="#1a1a1a" stroke-width="0.18" >6</text><text x="310.00" y="336.00" font-size="12.4" text-anchor="middle" fill="#1a1a1a" stroke="#1a1a1a" stroke-width="0.18" >12</text><text x="343.60" y="336.00" font-size="12.4" text-anchor="middle" fill="#1a1a1a" stroke="#1a1a1a" stroke-width="0.18" >18</text><text x="374.10" y="336.00" font-size="12.4" text-anchor="middle" fill="#1a1a1a" stroke="#1a1a1a" stroke-width="0.18" >24</text><text x="404.00" y="336.00" font-size="12.4" text-anchor="middle" fill="#1a1a1a" stroke="#1a1a1a" stroke-width="0.18" >30</text><text x="434.60" y="336.00" font-size="12.4" text-anchor="middle" fill="#1a1a1a" stroke="#1a1a1a" stroke-width="0.18" >36</text><text x="375.60" y="353.20" font-size="12.6" text-anchor="middle" fill="#1a1a1a" stroke="#1a1a1a" stroke-width="0.18" >Recovery time (months)</text><text x="670.20" y="20.50" font-size="28" text-anchor="start" fill="#1a1a1a" stroke="#1a1a1a" stroke-width="0.18" >b</text><path d="M557,248.6 L568,244.5 L571,241.5 L585,240.3 L600,239.4 L612,236.6 L621,237.3 L628.5,238.1 L614,239.6 L600,243.3 L585,245.2 L577,246.9 L565,248.9 L557,249.3 Z M596,228.3 L603,228.8 L598,229.6Z" fill="#b4cde6" opacity="0.9"/><path d="M555.2,33.2 561.4,36.0 568.0,38.4 571.6,40.5 569.9,43.6 570.1,46.9 572.7,50.3 576.5,52.1 580.5,53.4 575.6,54.0 572.7,55.9 568.9,57.4 564.7,58.5 566.6,60.7 570.4,63.0 574.1,64.5 570.8,66.8 567.0,69.2 568.0,71.1 571.8,73.5 571.3,75.3 569.4,77.2 570.4,79.6 573.2,82.0 575.1,85.5 573.7,89.3 577.5,92.6 583.1,96.8 582.2,100.2 578.4,102.5 584.6,104.4 578.4,105.4 575.6,107.3 571.3,109.6 570.8,112.0 576.0,115.8 573.7,117.7 569.4,120.5 571.3,122.9 568.5,126.7 568.5,128.6 563.7,130.5 557.1,134.7 559.5,137.1 559.0,140.9 562.8,144.7 563.7,151.4 567.0,153.7 571.8,157.0 566.6,160.8 571.3,164.8 566.6,168.4 563.3,172.2 566.1,176.0 567.0,179.8 567.0,183.6 562.3,186.4 560.9,191.1 564.2,195.4 567.5,197.3 575.1,200.8 580.4,202.6 585.0,204.3 580.4,206.7 582.7,209.0 583.9,214.9 586.2,218.4 587.4,223.0 589.7,225.4 582.1,226.5 592.0,227.7 599.1,228.9 588.5,230.0 581.5,232.1 588.5,233.5 600.2,235.3 614.2,237.6 599.1,239.4 588.5,240.5 585.0,242.3 576.9,245.2 571.0,247.0 564.6,248.7" fill="none" stroke="#2a78b2" stroke-width="1.5" stroke-linejoin="round"/><path d="M644.7,9.0V268.5H545.4" fill="none" stroke="#333" stroke-width="0.9"/><path d="M644.7,268.48H640.7M644.7,241.13H640.7M644.7,213.79H640.7M644.7,186.44H640.7M644.7,159.10H640.7M644.7,131.75H640.7M644.7,104.41H640.7M644.7,77.06H640.7M644.7,49.72H640.7M644.7,22.38H640.7M644.7,254.81H642.7M644.7,227.46H642.7M644.7,200.12H642.7M644.7,172.77H642.7M644.7,145.43H642.7M644.7,118.08H642.7M644.7,90.74H642.7M644.7,63.39H642.7M644.7,36.05H642.7M556.20,268.5V265M576.00,268.5V265M595.80,268.5V265M615.60,268.5V265M635.40,268.5V265M546.30,268.5V266.5M566.10,268.5V266.5M585.90,268.5V266.5M605.70,268.5V266.5M625.50,268.5V266.5" stroke="#333" stroke-width="0.9"/><text x="649.40" y="272.78" font-size="12.1" text-anchor="start" fill="#1a1a1a" stroke="#1a1a1a" stroke-width="0.18" >−60</text><text x="649.40" y="245.44" font-size="12.1" text-anchor="start" fill="#1a1a1a" stroke="#1a1a1a" stroke-width="0.18" >−45</text><text x="649.40" y="218.09" font-size="12.1" text-anchor="start" fill="#1a1a1a" stroke="#1a1a1a" stroke-width="0.18" >−30</text><text x="649.40" y="190.75" font-size="12.1" text-anchor="start" fill="#1a1a1a" stroke="#1a1a1a" stroke-width="0.18" >−15</text><text x="649.60" y="163.40" font-size="12.1" text-anchor="start" fill="#1a1a1a" stroke="#1a1a1a" stroke-width="0.18" >0</text><text x="649.60" y="136.06" font-size="12.1" text-anchor="start" fill="#1a1a1a" stroke="#1a1a1a" stroke-width="0.18" >15</text><text x="649.60" y="108.71" font-size="12.1" text-anchor="start" fill="#1a1a1a" stroke="#1a1a1a" stroke-width="0.18" >30</text><text x="649.60" y="81.36" font-size="12.1" text-anchor="start" fill="#1a1a1a" stroke="#1a1a1a" stroke-width="0.18" >45</text><text x="649.60" y="54.02" font-size="12.1" text-anchor="start" fill="#1a1a1a" stroke="#1a1a1a" stroke-width="0.18" >60</text><text x="649.60" y="26.68" font-size="12.1" text-anchor="start" fill="#1a1a1a" stroke="#1a1a1a" stroke-width="0.18" >75</text><text x="556.20" y="283.00" font-size="12.1" text-anchor="middle" fill="#1a1a1a" stroke="#1a1a1a" stroke-width="0.18" >5</text><text x="576.00" y="283.00" font-size="12.1" text-anchor="middle" fill="#1a1a1a" stroke="#1a1a1a" stroke-width="0.18" >10</text><text x="595.80" y="283.00" font-size="12.1" text-anchor="middle" fill="#1a1a1a" stroke="#1a1a1a" stroke-width="0.18" >15</text><text x="615.60" y="283.00" font-size="12.1" text-anchor="middle" fill="#1a1a1a" stroke="#1a1a1a" stroke-width="0.18" >20</text><text x="635.40" y="283.00" font-size="12.1" text-anchor="middle" fill="#1a1a1a" stroke="#1a1a1a" stroke-width="0.18" >25</text><text x="609.60" y="304.60" font-size="13.2" text-anchor="middle" fill="#1a1a1a" stroke="#1a1a1a" stroke-width="0.18" >Recovery time (months)</text><text x="0.00" y="0.00" font-size="13.2" text-anchor="middle" fill="#1a1a1a" stroke="#1a1a1a" stroke-width="0.18" transform="translate(680.3,155.3) rotate(-90)">Latitude (°)</text><text x="-0.20" y="370.60" font-size="28" text-anchor="start" fill="#1a1a1a" stroke="#1a1a1a" stroke-width="0.18" >c</text><defs><linearGradient id="vg0" gradientUnits="userSpaceOnUse" x1="0" y1="416.5" x2="0" y2="467.9"><stop offset="0" stop-color="#9ccc8c"/><stop offset="1" stop-color="#1b6a34"/></linearGradient><linearGradient id="vg1" gradientUnits="userSpaceOnUse" x1="0" y1="446.2" x2="0" y2="467.9"><stop offset="0" stop-color="#b0d6a0"/><stop offset="1" stop-color="#4b9545"/></linearGradient><linearGradient id="vg5" gradientUnits="userSpaceOnUse" x1="0" y1="425.8" x2="0" y2="467.9"><stop offset="0" stop-color="#e8c870"/><stop offset="1" stop-color="#d29b1e"/></linearGradient><linearGradient id="vg6" gradientUnits="userSpaceOnUse" x1="0" y1="429.0" x2="0" y2="467.9"><stop offset="0" stop-color="#cdb0e0"/><stop offset="1" stop-color="#9b73b9"/></linearGradient><linearGradient id="vg7" gradientUnits="userSpaceOnUse" x1="0" y1="414.4" x2="0" y2="467.9"><stop offset="0" stop-color="#e8c8da"/><stop offset="1" stop-color="#d09ab8"/></linearGradient></defs><path d="M99.80,416.52C99.80,420.49 99.77,433.04 99.80,440.37C99.83,447.70 99.88,455.75 100.00,460.49C100.12,465.22 100.33,466.52 100.50,468.76C100.67,471.01 100.68,472.57 101.00,473.95C101.32,475.33 101.88,476.01 102.40,477.04C102.92,478.06 103.55,479.09 104.10,480.12C104.65,481.15 105.18,482.17 105.70,483.20C106.22,484.23 106.78,485.26 107.20,486.28C107.62,487.31 107.95,488.50 108.20,489.37C108.45,490.23 108.70,490.80 108.70,491.48C108.70,492.15 108.40,492.75 108.20,493.42C108.00,494.10 107.92,494.86 107.50,495.53C107.08,496.21 106.52,496.80 105.70,497.48C104.88,498.16 103.55,499.07 102.60,499.59C101.65,500.10 100.60,500.40 100.00,500.56C99.40,500.72 99.60,500.72 99.00,500.56C98.40,500.40 97.35,500.10 96.40,499.59C95.45,499.07 94.12,498.16 93.30,497.48C92.48,496.80 91.92,496.21 91.50,495.53C91.08,494.86 91.00,494.10 90.80,493.42C90.60,492.75 90.30,492.15 90.30,491.48C90.30,490.80 90.55,490.23 90.80,489.37C91.05,488.50 91.38,487.31 91.80,486.28C92.22,485.26 92.78,484.23 93.30,483.20C93.82,482.17 94.35,481.15 94.90,480.12C95.45,479.09 96.08,478.06 96.60,477.04C97.12,476.01 97.68,475.33 98.00,473.95C98.32,472.57 98.33,471.01 98.50,468.76C98.67,466.52 98.88,465.22 99.00,460.49C99.12,455.75 99.17,447.70 99.20,440.37C99.23,433.04 99.20,420.49 99.20,416.52Z" fill="url(#vg0)"/><path d="M99.50,477.52V495.37" stroke="#1a1a1a" stroke-width="0.5" opacity="0.45"/><circle cx="99.50" cy="485.64" r="0.9" fill="#fff"/><path d="M131.50,446.21C131.55,450.32 131.65,466.08 131.80,470.87C131.95,475.66 131.98,473.57 132.40,474.93C132.82,476.28 133.47,477.60 134.30,478.98C135.13,480.36 136.28,481.82 137.40,483.20C138.52,484.58 139.90,486.07 141.00,487.26C142.10,488.45 143.75,489.48 144.00,490.34C144.25,491.21 143.43,491.58 142.50,492.45C141.57,493.32 139.77,494.50 138.40,495.53C137.03,496.56 135.42,497.78 134.30,498.62C133.18,499.45 132.30,500.24 131.70,500.56C131.10,500.89 131.30,500.89 130.70,500.56C130.10,500.24 129.22,499.45 128.10,498.62C126.98,497.78 125.37,496.56 124.00,495.53C122.63,494.50 120.83,493.32 119.90,492.45C118.97,491.58 118.15,491.21 118.40,490.34C118.65,489.48 120.30,488.45 121.40,487.26C122.50,486.07 123.88,484.58 125.00,483.20C126.12,481.82 127.27,480.36 128.10,478.98C128.93,477.60 129.58,476.28 130.00,474.93C130.42,473.57 130.45,475.66 130.60,470.87C130.75,466.08 130.85,450.32 130.90,446.21Z" fill="url(#vg1)"/><path d="M131.20,479.96V497.80" stroke="#1a1a1a" stroke-width="0.5" opacity="0.45"/><circle cx="131.20" cy="488.07" r="0.9" fill="#fff"/><path d="M163.10,394.94C163.15,407.92 163.27,458.73 163.40,472.82C163.53,486.91 163.67,477.50 163.90,479.47C164.13,481.44 164.43,482.93 164.80,484.66C165.17,486.39 165.70,488.31 166.10,489.85C166.50,491.40 166.98,492.80 167.20,493.91C167.42,495.02 167.60,495.64 167.40,496.51C167.20,497.37 166.62,498.43 166.00,499.10C165.38,499.78 164.42,500.32 163.70,500.56C162.98,500.81 162.42,500.81 161.70,500.56C160.98,500.32 160.02,499.78 159.40,499.10C158.78,498.43 158.20,497.37 158.00,496.51C157.80,495.64 157.98,495.02 158.20,493.91C158.42,492.80 158.90,491.40 159.30,489.85C159.70,488.31 160.23,486.39 160.60,484.66C160.97,482.93 161.27,481.44 161.50,479.47C161.73,477.50 161.87,486.91 162.00,472.82C162.13,458.73 162.25,407.92 162.30,394.94Z" fill="#7cb84e" stroke="#2f8f6a" stroke-width="0.55"/><rect x="161.80" y="482.55" width="1.8" height="12.17" fill="none" stroke="#3a3a3a" stroke-width="0.5"/><circle cx="162.70" cy="482.55" r="0.9" fill="#fff"/><path d="M194.70,420.09C194.77,429.98 194.83,468.49 195.10,479.47C195.37,490.45 195.88,484.01 196.30,485.96C196.72,487.91 197.27,489.61 197.60,491.15C197.93,492.69 198.28,494.10 198.30,495.21C198.32,496.32 198.20,496.91 197.70,497.80C197.20,498.70 196.03,500.10 195.30,500.56C194.57,501.02 194.03,501.02 193.30,500.56C192.57,500.10 191.40,498.70 190.90,497.80C190.40,496.91 190.28,496.32 190.30,495.21C190.32,494.10 190.67,492.69 191.00,491.15C191.33,489.61 191.88,487.91 192.30,485.96C192.72,484.01 193.23,490.45 193.50,479.47C193.77,468.49 193.83,429.98 193.90,420.09Z" fill="#8cc45a" stroke="#3a9a6a" stroke-width="0.55"/><path d="M194.30,480.28V498.13" stroke="#1a1a1a" stroke-width="0.5" opacity="0.45"/><circle cx="194.30" cy="488.39" r="0.9" fill="#fff"/><path d="M225.90,412.14C225.93,423.60 226.00,469.28 226.10,480.93C226.20,492.58 226.43,479.36 226.50,482.07C226.57,484.77 226.55,494.07 226.50,497.15C226.45,500.24 226.48,499.99 226.20,500.56C225.92,501.13 225.08,501.13 224.80,500.56C224.52,499.99 224.55,500.24 224.50,497.15C224.45,494.07 224.43,484.77 224.50,482.07C224.57,479.36 224.80,492.58 224.90,480.93C225.00,469.28 225.07,423.60 225.10,412.14Z" fill="#7cc29a" stroke="#3a9a8a" stroke-width="0.55"/><rect x="224.60" y="482.55" width="1.8" height="16.23" fill="none" stroke="#3a3a3a" stroke-width="0.5"/><circle cx="225.50" cy="490.66" r="0.9" fill="#fff"/><path d="M257.50,425.76C257.52,432.53 257.52,458.49 257.60,466.33C257.68,474.17 257.75,470.84 258.00,472.82C258.25,474.79 258.60,476.63 259.10,478.17C259.60,479.71 260.35,480.77 261.00,482.07C261.65,483.36 262.38,484.66 263.00,485.96C263.62,487.26 264.27,488.64 264.70,489.85C265.13,491.07 265.67,492.15 265.60,493.26C265.53,494.37 265.07,495.53 264.30,496.51C263.53,497.48 261.98,498.43 261.00,499.10C260.02,499.78 259.27,500.32 258.40,500.56C257.53,500.81 256.67,500.81 255.80,500.56C254.93,500.32 254.18,499.78 253.20,499.10C252.22,498.43 250.67,497.48 249.90,496.51C249.13,495.53 248.67,494.37 248.60,493.26C248.53,492.15 249.07,491.07 249.50,489.85C249.93,488.64 250.58,487.26 251.20,485.96C251.82,484.66 252.55,483.36 253.20,482.07C253.85,480.77 254.60,479.71 255.10,478.17C255.60,476.63 255.95,474.79 256.20,472.82C256.45,470.84 256.52,474.17 256.60,466.33C256.68,458.49 256.68,432.53 256.70,425.76Z" fill="url(#vg5)"/><rect x="256.20" y="483.36" width="1.8" height="11.84" fill="none" stroke="#3a3a3a" stroke-width="0.5"/><circle cx="257.10" cy="489.04" r="0.9" fill="#fff"/><path d="M289.10,429.01C289.12,435.88 289.05,462.46 289.20,470.22C289.35,477.98 289.53,473.82 290.00,475.58C290.47,477.33 291.12,479.04 292.00,480.77C292.88,482.50 294.32,484.45 295.30,485.96C296.28,487.47 297.03,488.53 297.90,489.85C298.77,491.18 300.17,492.91 300.50,493.91C300.83,494.91 300.98,495.10 299.90,495.86C298.82,496.61 295.75,497.67 294.00,498.45C292.25,499.24 290.40,500.21 289.40,500.56C288.40,500.91 289.00,500.91 288.00,500.56C287.00,500.21 285.15,499.24 283.40,498.45C281.65,497.67 278.58,496.61 277.50,495.86C276.42,495.10 276.57,494.91 276.90,493.91C277.23,492.91 278.63,491.18 279.50,489.85C280.37,488.53 281.12,487.47 282.10,485.96C283.08,484.45 284.52,482.50 285.40,480.77C286.28,479.04 286.93,477.33 287.40,475.58C287.87,473.82 288.05,477.98 288.20,470.22C288.35,462.46 288.28,435.88 288.30,429.01Z" fill="url(#vg6)"/><rect x="287.80" y="483.36" width="1.8" height="11.84" fill="none" stroke="#3a3a3a" stroke-width="0.5"/><circle cx="288.70" cy="485.96" r="0.9" fill="#fff"/><path d="M321.00,414.41C321.02,424.39 320.95,463.43 321.10,474.28C321.25,485.12 321.50,477.74 321.90,479.47C322.30,481.20 322.95,482.93 323.50,484.66C324.05,486.39 324.85,488.53 325.20,489.85C325.55,491.18 325.82,491.50 325.60,492.61C325.38,493.72 324.57,495.32 323.90,496.51C323.23,497.70 322.07,499.07 321.60,499.75C321.13,500.43 321.35,500.43 321.10,500.56C320.85,500.70 320.35,500.70 320.10,500.56C319.85,500.43 320.07,500.43 319.60,499.75C319.13,499.07 317.97,497.70 317.30,496.51C316.63,495.32 315.82,493.72 315.60,492.61C315.38,491.50 315.65,491.18 316.00,489.85C316.35,488.53 317.15,486.39 317.70,484.66C318.25,482.93 318.90,481.20 319.30,479.47C319.70,477.74 319.95,485.12 320.10,474.28C320.25,463.43 320.18,424.39 320.20,414.41Z" fill="url(#vg7)"/><rect x="319.70" y="478.17" width="1.8" height="15.74" fill="none" stroke="#3a3a3a" stroke-width="0.5"/><circle cx="320.60" cy="482.07" r="0.9" fill="#fff"/><path d="M83.8,370.4V508.8H334.3M83.8,500.40H87.7M83.8,484.17H86.2M83.8,467.95H87.7M83.8,451.72H86.2M83.8,435.50H87.7M83.8,419.27H86.2M83.8,403.05H87.7M83.8,386.82H86.2M83.8,370.60H87.7M99.50,508.8V505M131.20,508.8V505M162.70,508.8V505M194.30,508.8V505M225.50,508.8V505M257.10,508.8V505M288.70,508.8V505M320.60,508.8V505" fill="none" stroke="#585858" stroke-width="0.9"/><text x="79.60" y="503.30" font-size="10.9" text-anchor="end" fill="#1a1a1a" stroke="#1a1a1a" stroke-width="0.18" >0</text><text x="79.60" y="470.85" font-size="10.9" text-anchor="end" fill="#1a1a1a" stroke="#1a1a1a" stroke-width="0.18" >20</text><text x="79.60" y="438.40" font-size="10.9" text-anchor="end" fill="#1a1a1a" stroke="#1a1a1a" stroke-width="0.18" >40</text><text x="79.60" y="405.95" font-size="10.9" text-anchor="end" fill="#1a1a1a" stroke="#1a1a1a" stroke-width="0.18" >60</text><text x="79.60" y="373.50" font-size="10.9" text-anchor="end" fill="#1a1a1a" stroke="#1a1a1a" stroke-width="0.18" >80</text><text x="0.00" y="0.00" font-size="10.8" text-anchor="middle" fill="#1a1a1a" stroke="#1a1a1a" stroke-width="0.18" transform="translate(64.2,438.9) rotate(-90)">Recovery time (months)</text><text x="106.60" y="411.20" font-size="10.2" text-anchor="middle" fill="#1a1a1a" stroke="#1a1a1a" stroke-width="0.18" >(42,026)</text><text x="133.90" y="437.80" font-size="10.2" text-anchor="middle" fill="#1a1a1a" stroke="#1a1a1a" stroke-width="0.18" >(58,309)</text><text x="164.20" y="389.60" font-size="10.2" text-anchor="middle" fill="#1a1a1a" stroke="#1a1a1a" stroke-width="0.18" >(22,404)</text><text x="192.70" y="416.80" font-size="10.2" text-anchor="middle" fill="#1a1a1a" stroke="#1a1a1a" stroke-width="0.18" >(17,920)</text><text x="228.80" y="408.60" font-size="10.2" text-anchor="middle" fill="#1a1a1a" stroke="#1a1a1a" stroke-width="0.18" >(4,172)</text><text x="254.60" y="424.50" font-size="10.2" text-anchor="middle" fill="#1a1a1a" stroke="#1a1a1a" stroke-width="0.18" >(40,715)</text><text x="292.50" y="425.70" font-size="10.2" text-anchor="middle" fill="#1a1a1a" stroke="#1a1a1a" stroke-width="0.18" >(56,324)</text><text x="323.00" y="412.40" font-size="10.2" text-anchor="middle" fill="#1a1a1a" stroke="#1a1a1a" stroke-width="0.18" >(22,652)</text><text x="0.00" y="0.00" font-size="10.6" text-anchor="end" fill="#1a1a1a" stroke="#1a1a1a" stroke-width="0.18" transform="translate(105.90,522.0) rotate(-45)">Evergreen broadleaf forest</text><text x="0.00" y="0.00" font-size="10.6" text-anchor="end" fill="#1a1a1a" stroke="#1a1a1a" stroke-width="0.18" transform="translate(137.60,522.0) rotate(-45)">Deciduous broadleaf forest</text><text x="0.00" y="0.00" font-size="10.6" text-anchor="end" fill="#1a1a1a" stroke="#1a1a1a" stroke-width="0.18" transform="translate(169.10,522.0) rotate(-45)">Evergreen needleleaf forest</text><text x="0.00" y="0.00" font-size="10.6" text-anchor="end" fill="#1a1a1a" stroke="#1a1a1a" stroke-width="0.18" transform="translate(200.70,522.0) rotate(-45)">Deciduous needleleaf forest</text><text x="0.00" y="0.00" font-size="10.6" text-anchor="end" fill="#1a1a1a" stroke="#1a1a1a" stroke-width="0.18" transform="translate(231.90,522.0) rotate(-45)">Mixed forest</text><text x="0.00" y="0.00" font-size="10.6" text-anchor="end" fill="#1a1a1a" stroke="#1a1a1a" stroke-width="0.18" transform="translate(263.50,522.0) rotate(-45)">Grassalnd</text><text x="0.00" y="0.00" font-size="10.6" text-anchor="end" fill="#1a1a1a" stroke="#1a1a1a" stroke-width="0.18" transform="translate(295.10,522.0) rotate(-45)">Shrubland</text><text x="0.00" y="0.00" font-size="10.6" text-anchor="end" fill="#1a1a1a" stroke="#1a1a1a" stroke-width="0.18" transform="translate(327.00,522.0) rotate(-45)">Savanna</text><text x="670.50" y="370.60" font-size="28" text-anchor="start" fill="#1a1a1a" stroke="#1a1a1a" stroke-width="0.18" >d</text><path d="M403.10 370.10h2.75v2.75h-2.75zM407.36 370.10h2.75v2.75h-2.75zM411.62 370.10h2.75v2.75h-2.75zM415.88 370.10h2.75v2.75h-2.75zM420.14 370.10h2.75v2.75h-2.75zM424.40 370.10h2.75v2.75h-2.75zM428.66 370.10h2.75v2.75h-2.75zM432.92 370.10h2.75v2.75h-2.75zM437.18 370.10h2.75v2.75h-2.75zM441.44 370.10h2.75v2.75h-2.75zM445.70 370.10h2.75v2.75h-2.75zM449.96 370.10h2.75v2.75h-2.75zM454.22 370.10h2.75v2.75h-2.75zM458.48 370.10h2.75v2.75h-2.75zM467.00 370.10h2.75v2.75h-2.75zM479.78 370.10h2.75v2.75h-2.75zM484.04 370.10h2.75v2.75h-2.75zM492.56 370.10h2.75v2.75h-2.75zM496.82 370.10h2.75v2.75h-2.75zM501.08 370.10h2.75v2.75h-2.75zM505.34 370.10h2.75v2.75h-2.75zM509.60 370.10h2.75v2.75h-2.75zM518.12 370.10h2.75v2.75h-2.75zM539.42 370.10h2.75v2.75h-2.75zM577.76 370.10h2.75v2.75h-2.75zM590.54 370.10h2.75v2.75h-2.75zM407.36 374.75h2.75v2.75h-2.75zM424.40 374.75h2.75v2.75h-2.75zM432.92 374.75h2.75v2.75h-2.75zM437.18 374.75h2.75v2.75h-2.75zM441.44 374.75h2.75v2.75h-2.75zM445.70 374.75h2.75v2.75h-2.75zM449.96 374.75h2.75v2.75h-2.75zM454.22 374.75h2.75v2.75h-2.75zM458.48 374.75h2.75v2.75h-2.75zM467.00 374.75h2.75v2.75h-2.75zM484.04 374.75h2.75v2.75h-2.75zM492.56 374.75h2.75v2.75h-2.75zM496.82 374.75h2.75v2.75h-2.75zM505.34 374.75h2.75v2.75h-2.75zM509.60 374.75h2.75v2.75h-2.75zM526.64 374.75h2.75v2.75h-2.75zM530.90 374.75h2.75v2.75h-2.75zM535.16 374.75h2.75v2.75h-2.75zM539.42 374.75h2.75v2.75h-2.75zM543.68 374.75h2.75v2.75h-2.75zM569.24 374.75h2.75v2.75h-2.75zM573.50 374.75h2.75v2.75h-2.75zM577.76 374.75h2.75v2.75h-2.75zM594.80 374.75h2.75v2.75h-2.75zM599.06 374.75h2.75v2.75h-2.75zM607.58 374.75h2.75v2.75h-2.75zM475.52 379.41h2.75v2.75h-2.75zM484.04 379.41h2.75v2.75h-2.75zM488.30 379.41h2.75v2.75h-2.75zM496.82 379.41h2.75v2.75h-2.75zM501.08 379.41h2.75v2.75h-2.75zM509.60 379.41h2.75v2.75h-2.75zM518.12 379.41h2.75v2.75h-2.75zM530.90 379.41h2.75v2.75h-2.75zM535.16 379.41h2.75v2.75h-2.75zM543.68 379.41h2.75v2.75h-2.75zM547.94 379.41h2.75v2.75h-2.75zM552.20 379.41h2.75v2.75h-2.75zM569.24 379.41h2.75v2.75h-2.75zM577.76 379.41h2.75v2.75h-2.75zM582.02 379.41h2.75v2.75h-2.75zM586.28 379.41h2.75v2.75h-2.75zM599.06 379.41h2.75v2.75h-2.75zM603.32 379.41h2.75v2.75h-2.75zM420.14 384.06h2.75v2.75h-2.75zM428.66 384.06h2.75v2.75h-2.75zM437.18 384.06h2.75v2.75h-2.75zM467.00 384.06h2.75v2.75h-2.75zM484.04 384.06h2.75v2.75h-2.75zM492.56 384.06h2.75v2.75h-2.75zM501.08 384.06h2.75v2.75h-2.75zM509.60 384.06h2.75v2.75h-2.75zM526.64 384.06h2.75v2.75h-2.75zM547.94 384.06h2.75v2.75h-2.75zM599.06 384.06h2.75v2.75h-2.75zM458.48 388.72h2.75v2.75h-2.75zM471.26 388.72h2.75v2.75h-2.75zM526.64 388.72h2.75v2.75h-2.75zM535.16 388.72h2.75v2.75h-2.75zM539.42 388.72h2.75v2.75h-2.75zM543.68 388.72h2.75v2.75h-2.75zM552.20 388.72h2.75v2.75h-2.75zM556.46 388.72h2.75v2.75h-2.75zM560.72 388.72h2.75v2.75h-2.75zM564.98 388.72h2.75v2.75h-2.75zM569.24 388.72h2.75v2.75h-2.75zM573.50 388.72h2.75v2.75h-2.75zM590.54 388.72h2.75v2.75h-2.75zM607.58 388.72h2.75v2.75h-2.75zM611.84 388.72h2.75v2.75h-2.75zM407.36 393.38h2.75v2.75h-2.75zM454.22 393.38h2.75v2.75h-2.75zM471.26 393.38h2.75v2.75h-2.75zM475.52 393.38h2.75v2.75h-2.75zM488.30 393.38h2.75v2.75h-2.75zM492.56 393.38h2.75v2.75h-2.75zM505.34 393.38h2.75v2.75h-2.75zM513.86 393.38h2.75v2.75h-2.75zM518.12 393.38h2.75v2.75h-2.75zM530.90 393.38h2.75v2.75h-2.75zM535.16 393.38h2.75v2.75h-2.75zM539.42 393.38h2.75v2.75h-2.75zM543.68 393.38h2.75v2.75h-2.75zM552.20 393.38h2.75v2.75h-2.75zM564.98 393.38h2.75v2.75h-2.75zM569.24 393.38h2.75v2.75h-2.75zM573.50 393.38h2.75v2.75h-2.75zM577.76 393.38h2.75v2.75h-2.75zM582.02 393.38h2.75v2.75h-2.75zM586.28 393.38h2.75v2.75h-2.75zM594.80 393.38h2.75v2.75h-2.75zM599.06 393.38h2.75v2.75h-2.75zM411.62 398.03h2.75v2.75h-2.75zM501.08 398.03h2.75v2.75h-2.75zM505.34 398.03h2.75v2.75h-2.75zM526.64 398.03h2.75v2.75h-2.75zM535.16 398.03h2.75v2.75h-2.75zM539.42 398.03h2.75v2.75h-2.75zM543.68 398.03h2.75v2.75h-2.75zM552.20 398.03h2.75v2.75h-2.75zM556.46 398.03h2.75v2.75h-2.75zM560.72 398.03h2.75v2.75h-2.75zM564.98 398.03h2.75v2.75h-2.75zM569.24 398.03h2.75v2.75h-2.75zM582.02 398.03h2.75v2.75h-2.75zM590.54 398.03h2.75v2.75h-2.75zM594.80 398.03h2.75v2.75h-2.75zM603.32 398.03h2.75v2.75h-2.75zM607.58 398.03h2.75v2.75h-2.75zM611.84 398.03h2.75v2.75h-2.75zM411.62 402.69h2.75v2.75h-2.75zM420.14 402.69h2.75v2.75h-2.75zM437.18 402.69h2.75v2.75h-2.75zM449.96 402.69h2.75v2.75h-2.75zM467.00 402.69h2.75v2.75h-2.75zM471.26 402.69h2.75v2.75h-2.75zM475.52 402.69h2.75v2.75h-2.75zM479.78 402.69h2.75v2.75h-2.75zM484.04 402.69h2.75v2.75h-2.75zM488.30 402.69h2.75v2.75h-2.75zM501.08 402.69h2.75v2.75h-2.75zM509.60 402.69h2.75v2.75h-2.75zM513.86 402.69h2.75v2.75h-2.75zM526.64 402.69h2.75v2.75h-2.75zM530.90 402.69h2.75v2.75h-2.75zM535.16 402.69h2.75v2.75h-2.75zM547.94 402.69h2.75v2.75h-2.75zM552.20 402.69h2.75v2.75h-2.75zM556.46 402.69h2.75v2.75h-2.75zM564.98 402.69h2.75v2.75h-2.75zM569.24 402.69h2.75v2.75h-2.75zM573.50 402.69h2.75v2.75h-2.75zM577.76 402.69h2.75v2.75h-2.75zM582.02 402.69h2.75v2.75h-2.75zM590.54 402.69h2.75v2.75h-2.75zM407.36 407.34h2.75v2.75h-2.75zM432.92 407.34h2.75v2.75h-2.75zM441.44 407.34h2.75v2.75h-2.75zM471.26 407.34h2.75v2.75h-2.75zM479.78 407.34h2.75v2.75h-2.75zM484.04 407.34h2.75v2.75h-2.75zM488.30 407.34h2.75v2.75h-2.75zM492.56 407.34h2.75v2.75h-2.75zM496.82 407.34h2.75v2.75h-2.75zM501.08 407.34h2.75v2.75h-2.75zM505.34 407.34h2.75v2.75h-2.75zM509.60 407.34h2.75v2.75h-2.75zM526.64 407.34h2.75v2.75h-2.75zM535.16 407.34h2.75v2.75h-2.75zM556.46 407.34h2.75v2.75h-2.75zM564.98 407.34h2.75v2.75h-2.75zM569.24 407.34h2.75v2.75h-2.75zM573.50 407.34h2.75v2.75h-2.75zM577.76 407.34h2.75v2.75h-2.75zM582.02 407.34h2.75v2.75h-2.75zM590.54 407.34h2.75v2.75h-2.75zM407.36 412.00h2.75v2.75h-2.75zM411.62 412.00h2.75v2.75h-2.75zM428.66 412.00h2.75v2.75h-2.75zM437.18 412.00h2.75v2.75h-2.75zM471.26 412.00h2.75v2.75h-2.75zM475.52 412.00h2.75v2.75h-2.75zM484.04 412.00h2.75v2.75h-2.75zM488.30 412.00h2.75v2.75h-2.75zM492.56 412.00h2.75v2.75h-2.75zM496.82 412.00h2.75v2.75h-2.75zM539.42 412.00h2.75v2.75h-2.75zM543.68 412.00h2.75v2.75h-2.75zM556.46 412.00h2.75v2.75h-2.75zM560.72 412.00h2.75v2.75h-2.75zM569.24 412.00h2.75v2.75h-2.75zM582.02 412.00h2.75v2.75h-2.75zM407.36 416.65h2.75v2.75h-2.75zM411.62 416.65h2.75v2.75h-2.75zM415.88 416.65h2.75v2.75h-2.75zM420.14 416.65h2.75v2.75h-2.75zM424.40 416.65h2.75v2.75h-2.75zM432.92 416.65h2.75v2.75h-2.75zM475.52 416.65h2.75v2.75h-2.75zM479.78 416.65h2.75v2.75h-2.75zM484.04 416.65h2.75v2.75h-2.75zM488.30 416.65h2.75v2.75h-2.75zM492.56 416.65h2.75v2.75h-2.75zM505.34 416.65h2.75v2.75h-2.75zM556.46 416.65h2.75v2.75h-2.75zM564.98 416.65h2.75v2.75h-2.75zM569.24 416.65h2.75v2.75h-2.75zM573.50 416.65h2.75v2.75h-2.75zM577.76 416.65h2.75v2.75h-2.75zM582.02 416.65h2.75v2.75h-2.75zM411.62 421.31h2.75v2.75h-2.75zM415.88 421.31h2.75v2.75h-2.75zM420.14 421.31h2.75v2.75h-2.75zM424.40 421.31h2.75v2.75h-2.75zM437.18 421.31h2.75v2.75h-2.75zM454.22 421.31h2.75v2.75h-2.75zM467.00 421.31h2.75v2.75h-2.75zM479.78 421.31h2.75v2.75h-2.75zM484.04 421.31h2.75v2.75h-2.75zM488.30 421.31h2.75v2.75h-2.75zM492.56 421.31h2.75v2.75h-2.75zM496.82 421.31h2.75v2.75h-2.75zM552.20 421.31h2.75v2.75h-2.75zM556.46 421.31h2.75v2.75h-2.75zM560.72 421.31h2.75v2.75h-2.75zM564.98 421.31h2.75v2.75h-2.75zM569.24 421.31h2.75v2.75h-2.75zM573.50 421.31h2.75v2.75h-2.75zM411.62 425.96h2.75v2.75h-2.75zM428.66 425.96h2.75v2.75h-2.75zM432.92 425.96h2.75v2.75h-2.75zM437.18 425.96h2.75v2.75h-2.75zM454.22 425.96h2.75v2.75h-2.75zM462.74 425.96h2.75v2.75h-2.75zM467.00 425.96h2.75v2.75h-2.75zM471.26 425.96h2.75v2.75h-2.75zM475.52 425.96h2.75v2.75h-2.75zM479.78 425.96h2.75v2.75h-2.75zM484.04 425.96h2.75v2.75h-2.75zM488.30 425.96h2.75v2.75h-2.75zM505.34 425.96h2.75v2.75h-2.75zM513.86 425.96h2.75v2.75h-2.75zM518.12 425.96h2.75v2.75h-2.75zM530.90 425.96h2.75v2.75h-2.75zM556.46 425.96h2.75v2.75h-2.75zM564.98 425.96h2.75v2.75h-2.75zM573.50 425.96h2.75v2.75h-2.75zM577.76 425.96h2.75v2.75h-2.75zM590.54 425.96h2.75v2.75h-2.75zM403.10 430.62h2.75v2.75h-2.75zM411.62 430.62h2.75v2.75h-2.75zM415.88 430.62h2.75v2.75h-2.75zM420.14 430.62h2.75v2.75h-2.75zM428.66 430.62h2.75v2.75h-2.75zM432.92 430.62h2.75v2.75h-2.75zM437.18 430.62h2.75v2.75h-2.75zM445.70 430.62h2.75v2.75h-2.75zM449.96 430.62h2.75v2.75h-2.75zM454.22 430.62h2.75v2.75h-2.75zM458.48 430.62h2.75v2.75h-2.75zM462.74 430.62h2.75v2.75h-2.75zM467.00 430.62h2.75v2.75h-2.75zM471.26 430.62h2.75v2.75h-2.75zM475.52 430.62h2.75v2.75h-2.75zM484.04 430.62h2.75v2.75h-2.75zM488.30 430.62h2.75v2.75h-2.75zM501.08 430.62h2.75v2.75h-2.75zM505.34 430.62h2.75v2.75h-2.75zM513.86 430.62h2.75v2.75h-2.75zM518.12 430.62h2.75v2.75h-2.75zM526.64 430.62h2.75v2.75h-2.75zM556.46 430.62h2.75v2.75h-2.75zM573.50 430.62h2.75v2.75h-2.75zM582.02 430.62h2.75v2.75h-2.75zM403.10 435.27h2.75v2.75h-2.75zM411.62 435.27h2.75v2.75h-2.75zM415.88 435.27h2.75v2.75h-2.75zM428.66 435.27h2.75v2.75h-2.75zM432.92 435.27h2.75v2.75h-2.75zM441.44 435.27h2.75v2.75h-2.75zM445.70 435.27h2.75v2.75h-2.75zM458.48 435.27h2.75v2.75h-2.75zM462.74 435.27h2.75v2.75h-2.75zM467.00 435.27h2.75v2.75h-2.75zM484.04 435.27h2.75v2.75h-2.75zM488.30 435.27h2.75v2.75h-2.75zM492.56 435.27h2.75v2.75h-2.75zM518.12 435.27h2.75v2.75h-2.75zM539.42 435.27h2.75v2.75h-2.75zM552.20 435.27h2.75v2.75h-2.75zM560.72 435.27h2.75v2.75h-2.75zM564.98 435.27h2.75v2.75h-2.75zM411.62 439.93h2.75v2.75h-2.75zM424.40 439.93h2.75v2.75h-2.75zM428.66 439.93h2.75v2.75h-2.75zM432.92 439.93h2.75v2.75h-2.75zM437.18 439.93h2.75v2.75h-2.75zM458.48 439.93h2.75v2.75h-2.75zM484.04 439.93h2.75v2.75h-2.75zM569.24 439.93h2.75v2.75h-2.75zM599.06 439.93h2.75v2.75h-2.75zM415.88 444.58h2.75v2.75h-2.75zM424.40 444.58h2.75v2.75h-2.75zM428.66 444.58h2.75v2.75h-2.75zM458.48 444.58h2.75v2.75h-2.75zM462.74 444.58h2.75v2.75h-2.75zM475.52 444.58h2.75v2.75h-2.75zM484.04 444.58h2.75v2.75h-2.75zM488.30 444.58h2.75v2.75h-2.75zM492.56 444.58h2.75v2.75h-2.75zM496.82 444.58h2.75v2.75h-2.75zM513.86 444.58h2.75v2.75h-2.75zM543.68 444.58h2.75v2.75h-2.75zM556.46 444.58h2.75v2.75h-2.75zM407.36 449.24h2.75v2.75h-2.75zM415.88 449.24h2.75v2.75h-2.75zM432.92 449.24h2.75v2.75h-2.75zM437.18 449.24h2.75v2.75h-2.75zM475.52 449.24h2.75v2.75h-2.75zM479.78 449.24h2.75v2.75h-2.75zM484.04 449.24h2.75v2.75h-2.75zM488.30 449.24h2.75v2.75h-2.75zM492.56 449.24h2.75v2.75h-2.75zM560.72 449.24h2.75v2.75h-2.75zM564.98 449.24h2.75v2.75h-2.75zM560.72 453.89h2.75v2.75h-2.75zM564.98 453.89h2.75v2.75h-2.75zM569.24 453.89h2.75v2.75h-2.75zM577.76 453.89h2.75v2.75h-2.75zM582.02 453.89h2.75v2.75h-2.75zM403.10 458.55h2.75v2.75h-2.75zM420.14 458.55h2.75v2.75h-2.75zM437.18 458.55h2.75v2.75h-2.75zM475.52 458.55h2.75v2.75h-2.75zM564.98 458.55h2.75v2.75h-2.75zM586.28 458.55h2.75v2.75h-2.75zM415.88 463.20h2.75v2.75h-2.75zM428.66 463.20h2.75v2.75h-2.75zM449.96 463.20h2.75v2.75h-2.75zM458.48 463.20h2.75v2.75h-2.75zM467.00 463.20h2.75v2.75h-2.75zM484.04 463.20h2.75v2.75h-2.75zM488.30 463.20h2.75v2.75h-2.75zM560.72 463.20h2.75v2.75h-2.75zM569.24 463.20h2.75v2.75h-2.75zM403.10 467.86h2.75v2.75h-2.75zM411.62 467.86h2.75v2.75h-2.75zM415.88 467.86h2.75v2.75h-2.75zM420.14 467.86h2.75v2.75h-2.75zM432.92 467.86h2.75v2.75h-2.75zM445.70 467.86h2.75v2.75h-2.75zM449.96 467.86h2.75v2.75h-2.75zM462.74 467.86h2.75v2.75h-2.75zM471.26 467.86h2.75v2.75h-2.75zM475.52 467.86h2.75v2.75h-2.75zM582.02 467.86h2.75v2.75h-2.75zM403.10 472.51h2.75v2.75h-2.75zM424.40 472.51h2.75v2.75h-2.75zM428.66 472.51h2.75v2.75h-2.75zM432.92 472.51h2.75v2.75h-2.75zM437.18 472.51h2.75v2.75h-2.75zM449.96 472.51h2.75v2.75h-2.75zM454.22 472.51h2.75v2.75h-2.75zM462.74 472.51h2.75v2.75h-2.75zM467.00 472.51h2.75v2.75h-2.75zM475.52 472.51h2.75v2.75h-2.75zM479.78 472.51h2.75v2.75h-2.75zM484.04 472.51h2.75v2.75h-2.75zM488.30 472.51h2.75v2.75h-2.75zM492.56 472.51h2.75v2.75h-2.75zM513.86 472.51h2.75v2.75h-2.75zM411.62 477.17h2.75v2.75h-2.75zM415.88 477.17h2.75v2.75h-2.75zM424.40 477.17h2.75v2.75h-2.75zM428.66 477.17h2.75v2.75h-2.75zM432.92 477.17h2.75v2.75h-2.75zM437.18 477.17h2.75v2.75h-2.75zM449.96 477.17h2.75v2.75h-2.75zM454.22 477.17h2.75v2.75h-2.75zM458.48 477.17h2.75v2.75h-2.75zM539.42 477.17h2.75v2.75h-2.75zM411.62 481.82h2.75v2.75h-2.75zM415.88 481.82h2.75v2.75h-2.75zM420.14 481.82h2.75v2.75h-2.75zM428.66 481.82h2.75v2.75h-2.75zM432.92 481.82h2.75v2.75h-2.75zM445.70 481.82h2.75v2.75h-2.75zM454.22 481.82h2.75v2.75h-2.75zM458.48 481.82h2.75v2.75h-2.75zM462.74 481.82h2.75v2.75h-2.75zM488.30 481.82h2.75v2.75h-2.75zM496.82 481.82h2.75v2.75h-2.75zM415.88 486.48h2.75v2.75h-2.75zM424.40 486.48h2.75v2.75h-2.75zM432.92 486.48h2.75v2.75h-2.75zM437.18 486.48h2.75v2.75h-2.75zM445.70 486.48h2.75v2.75h-2.75zM454.22 486.48h2.75v2.75h-2.75zM458.48 486.48h2.75v2.75h-2.75zM462.74 486.48h2.75v2.75h-2.75zM467.00 486.48h2.75v2.75h-2.75zM484.04 486.48h2.75v2.75h-2.75zM492.56 486.48h2.75v2.75h-2.75zM505.34 486.48h2.75v2.75h-2.75zM407.36 491.13h2.75v2.75h-2.75zM411.62 491.13h2.75v2.75h-2.75zM420.14 491.13h2.75v2.75h-2.75zM432.92 491.13h2.75v2.75h-2.75zM437.18 491.13h2.75v2.75h-2.75zM445.70 491.13h2.75v2.75h-2.75zM454.22 491.13h2.75v2.75h-2.75zM458.48 491.13h2.75v2.75h-2.75zM462.74 491.13h2.75v2.75h-2.75zM467.00 491.13h2.75v2.75h-2.75zM479.78 491.13h2.75v2.75h-2.75zM496.82 491.13h2.75v2.75h-2.75zM415.88 495.79h2.75v2.75h-2.75zM420.14 495.79h2.75v2.75h-2.75zM432.92 495.79h2.75v2.75h-2.75zM437.18 495.79h2.75v2.75h-2.75zM445.70 495.79h2.75v2.75h-2.75zM449.96 495.79h2.75v2.75h-2.75zM454.22 495.79h2.75v2.75h-2.75zM462.74 495.79h2.75v2.75h-2.75zM467.00 495.79h2.75v2.75h-2.75zM471.26 495.79h2.75v2.75h-2.75zM484.04 495.79h2.75v2.75h-2.75zM488.30 495.79h2.75v2.75h-2.75zM492.56 495.79h2.75v2.75h-2.75zM496.82 495.79h2.75v2.75h-2.75zM420.14 500.44h2.75v2.75h-2.75zM432.92 500.44h2.75v2.75h-2.75zM437.18 500.44h2.75v2.75h-2.75zM445.70 500.44h2.75v2.75h-2.75zM449.96 500.44h2.75v2.75h-2.75zM458.48 500.44h2.75v2.75h-2.75zM462.74 500.44h2.75v2.75h-2.75zM467.00 500.44h2.75v2.75h-2.75zM471.26 500.44h2.75v2.75h-2.75zM475.52 500.44h2.75v2.75h-2.75zM479.78 500.44h2.75v2.75h-2.75zM484.04 500.44h2.75v2.75h-2.75zM488.30 500.44h2.75v2.75h-2.75zM492.56 500.44h2.75v2.75h-2.75zM496.82 500.44h2.75v2.75h-2.75zM505.34 500.44h2.75v2.75h-2.75zM509.60 500.44h2.75v2.75h-2.75zM518.12 500.44h2.75v2.75h-2.75zM522.38 500.44h2.75v2.75h-2.75zM420.14 505.10h2.75v2.75h-2.75zM437.18 505.10h2.75v2.75h-2.75zM441.44 505.10h2.75v2.75h-2.75zM449.96 505.10h2.75v2.75h-2.75zM458.48 505.10h2.75v2.75h-2.75zM462.74 505.10h2.75v2.75h-2.75zM467.00 505.10h2.75v2.75h-2.75zM471.26 505.10h2.75v2.75h-2.75zM479.78 505.10h2.75v2.75h-2.75zM484.04 505.10h2.75v2.75h-2.75zM488.30 505.10h2.75v2.75h-2.75zM492.56 505.10h2.75v2.75h-2.75zM505.34 505.10h2.75v2.75h-2.75zM530.90 505.10h2.75v2.75h-2.75zM539.42 505.10h2.75v2.75h-2.75zM594.80 505.10h2.75v2.75h-2.75zM599.06 505.10h2.75v2.75h-2.75zM603.32 505.10h2.75v2.75h-2.75zM407.36 509.75h2.75v2.75h-2.75zM420.14 509.75h2.75v2.75h-2.75zM424.40 509.75h2.75v2.75h-2.75zM437.18 509.75h2.75v2.75h-2.75zM458.48 509.75h2.75v2.75h-2.75zM467.00 509.75h2.75v2.75h-2.75zM471.26 509.75h2.75v2.75h-2.75zM475.52 509.75h2.75v2.75h-2.75zM479.78 509.75h2.75v2.75h-2.75zM484.04 509.75h2.75v2.75h-2.75zM488.30 509.75h2.75v2.75h-2.75zM492.56 509.75h2.75v2.75h-2.75zM522.38 509.75h2.75v2.75h-2.75zM543.68 509.75h2.75v2.75h-2.75zM552.20 509.75h2.75v2.75h-2.75zM556.46 509.75h2.75v2.75h-2.75zM569.24 509.75h2.75v2.75h-2.75zM573.50 509.75h2.75v2.75h-2.75zM586.28 509.75h2.75v2.75h-2.75zM611.84 509.75h2.75v2.75h-2.75zM407.36 514.40h2.75v2.75h-2.75zM428.66 514.40h2.75v2.75h-2.75zM432.92 514.40h2.75v2.75h-2.75zM441.44 514.40h2.75v2.75h-2.75zM449.96 514.40h2.75v2.75h-2.75zM454.22 514.40h2.75v2.75h-2.75zM458.48 514.40h2.75v2.75h-2.75zM462.74 514.40h2.75v2.75h-2.75zM467.00 514.40h2.75v2.75h-2.75zM471.26 514.40h2.75v2.75h-2.75zM475.52 514.40h2.75v2.75h-2.75zM479.78 514.40h2.75v2.75h-2.75zM488.30 514.40h2.75v2.75h-2.75zM492.56 514.40h2.75v2.75h-2.75zM496.82 514.40h2.75v2.75h-2.75zM505.34 514.40h2.75v2.75h-2.75zM513.86 514.40h2.75v2.75h-2.75zM539.42 514.40h2.75v2.75h-2.75zM543.68 514.40h2.75v2.75h-2.75zM556.46 514.40h2.75v2.75h-2.75zM560.72 514.40h2.75v2.75h-2.75zM573.50 514.40h2.75v2.75h-2.75zM577.76 514.40h2.75v2.75h-2.75zM582.02 514.40h2.75v2.75h-2.75zM603.32 514.40h2.75v2.75h-2.75zM611.84 514.40h2.75v2.75h-2.75zM415.88 519.06h2.75v2.75h-2.75zM432.92 519.06h2.75v2.75h-2.75zM437.18 519.06h2.75v2.75h-2.75zM449.96 519.06h2.75v2.75h-2.75zM454.22 519.06h2.75v2.75h-2.75zM458.48 519.06h2.75v2.75h-2.75zM462.74 519.06h2.75v2.75h-2.75zM467.00 519.06h2.75v2.75h-2.75zM471.26 519.06h2.75v2.75h-2.75zM475.52 519.06h2.75v2.75h-2.75zM479.78 519.06h2.75v2.75h-2.75zM488.30 519.06h2.75v2.75h-2.75zM492.56 519.06h2.75v2.75h-2.75zM501.08 519.06h2.75v2.75h-2.75zM505.34 519.06h2.75v2.75h-2.75zM513.86 519.06h2.75v2.75h-2.75zM522.38 519.06h2.75v2.75h-2.75zM526.64 519.06h2.75v2.75h-2.75zM539.42 519.06h2.75v2.75h-2.75zM543.68 519.06h2.75v2.75h-2.75zM556.46 519.06h2.75v2.75h-2.75zM569.24 519.06h2.75v2.75h-2.75zM582.02 519.06h2.75v2.75h-2.75zM586.28 519.06h2.75v2.75h-2.75zM590.54 519.06h2.75v2.75h-2.75zM594.80 519.06h2.75v2.75h-2.75zM599.06 519.06h2.75v2.75h-2.75zM607.58 519.06h2.75v2.75h-2.75zM415.88 523.72h2.75v2.75h-2.75zM420.14 523.72h2.75v2.75h-2.75zM428.66 523.72h2.75v2.75h-2.75zM432.92 523.72h2.75v2.75h-2.75zM449.96 523.72h2.75v2.75h-2.75zM454.22 523.72h2.75v2.75h-2.75zM458.48 523.72h2.75v2.75h-2.75zM462.74 523.72h2.75v2.75h-2.75zM467.00 523.72h2.75v2.75h-2.75zM471.26 523.72h2.75v2.75h-2.75zM475.52 523.72h2.75v2.75h-2.75zM484.04 523.72h2.75v2.75h-2.75zM488.30 523.72h2.75v2.75h-2.75zM496.82 523.72h2.75v2.75h-2.75zM513.86 523.72h2.75v2.75h-2.75zM522.38 523.72h2.75v2.75h-2.75zM526.64 523.72h2.75v2.75h-2.75zM543.68 523.72h2.75v2.75h-2.75zM573.50 523.72h2.75v2.75h-2.75zM407.36 528.37h2.75v2.75h-2.75zM411.62 528.37h2.75v2.75h-2.75zM428.66 528.37h2.75v2.75h-2.75zM432.92 528.37h2.75v2.75h-2.75zM454.22 528.37h2.75v2.75h-2.75zM462.74 528.37h2.75v2.75h-2.75zM475.52 528.37h2.75v2.75h-2.75zM488.30 528.37h2.75v2.75h-2.75zM492.56 528.37h2.75v2.75h-2.75zM496.82 528.37h2.75v2.75h-2.75zM513.86 528.37h2.75v2.75h-2.75zM547.94 528.37h2.75v2.75h-2.75zM586.28 528.37h2.75v2.75h-2.75zM590.54 528.37h2.75v2.75h-2.75zM594.80 528.37h2.75v2.75h-2.75zM611.84 528.37h2.75v2.75h-2.75zM449.96 533.03h2.75v2.75h-2.75zM454.22 533.03h2.75v2.75h-2.75zM462.74 533.03h2.75v2.75h-2.75zM467.00 533.03h2.75v2.75h-2.75zM471.26 533.03h2.75v2.75h-2.75zM496.82 533.03h2.75v2.75h-2.75zM543.68 533.03h2.75v2.75h-2.75zM577.76 533.03h2.75v2.75h-2.75zM607.58 533.03h2.75v2.75h-2.75zM428.66 537.68h2.75v2.75h-2.75zM432.92 537.68h2.75v2.75h-2.75zM454.22 537.68h2.75v2.75h-2.75zM458.48 537.68h2.75v2.75h-2.75zM475.52 537.68h2.75v2.75h-2.75zM479.78 537.68h2.75v2.75h-2.75zM488.30 537.68h2.75v2.75h-2.75zM526.64 537.68h2.75v2.75h-2.75zM539.42 537.68h2.75v2.75h-2.75zM552.20 537.68h2.75v2.75h-2.75zM556.46 537.68h2.75v2.75h-2.75zM603.32 537.68h2.75v2.75h-2.75zM407.36 542.34h2.75v2.75h-2.75zM415.88 542.34h2.75v2.75h-2.75zM424.40 542.34h2.75v2.75h-2.75zM428.66 542.34h2.75v2.75h-2.75zM432.92 542.34h2.75v2.75h-2.75zM437.18 542.34h2.75v2.75h-2.75zM462.74 542.34h2.75v2.75h-2.75zM471.26 542.34h2.75v2.75h-2.75zM475.52 542.34h2.75v2.75h-2.75zM509.60 542.34h2.75v2.75h-2.75zM526.64 542.34h2.75v2.75h-2.75zM547.94 542.34h2.75v2.75h-2.75zM586.28 542.34h2.75v2.75h-2.75zM590.54 542.34h2.75v2.75h-2.75zM428.66 546.99h2.75v2.75h-2.75zM449.96 546.99h2.75v2.75h-2.75zM454.22 546.99h2.75v2.75h-2.75zM458.48 546.99h2.75v2.75h-2.75zM467.00 546.99h2.75v2.75h-2.75zM471.26 546.99h2.75v2.75h-2.75zM475.52 546.99h2.75v2.75h-2.75zM479.78 546.99h2.75v2.75h-2.75zM484.04 546.99h2.75v2.75h-2.75zM488.30 546.99h2.75v2.75h-2.75zM496.82 546.99h2.75v2.75h-2.75zM428.66 551.64h2.75v2.75h-2.75zM432.92 551.64h2.75v2.75h-2.75zM458.48 551.64h2.75v2.75h-2.75zM462.74 551.64h2.75v2.75h-2.75zM467.00 551.64h2.75v2.75h-2.75zM475.52 551.64h2.75v2.75h-2.75zM479.78 551.64h2.75v2.75h-2.75zM488.30 551.64h2.75v2.75h-2.75zM505.34 551.64h2.75v2.75h-2.75zM509.60 551.64h2.75v2.75h-2.75zM526.64 551.64h2.75v2.75h-2.75zM539.42 551.64h2.75v2.75h-2.75zM552.20 551.64h2.75v2.75h-2.75zM586.28 551.64h2.75v2.75h-2.75zM428.66 556.30h2.75v2.75h-2.75zM432.92 556.30h2.75v2.75h-2.75zM437.18 556.30h2.75v2.75h-2.75zM441.44 556.30h2.75v2.75h-2.75zM454.22 556.30h2.75v2.75h-2.75zM462.74 556.30h2.75v2.75h-2.75zM467.00 556.30h2.75v2.75h-2.75zM471.26 556.30h2.75v2.75h-2.75zM475.52 556.30h2.75v2.75h-2.75zM505.34 556.30h2.75v2.75h-2.75zM518.12 556.30h2.75v2.75h-2.75zM539.42 556.30h2.75v2.75h-2.75zM547.94 556.30h2.75v2.75h-2.75zM552.20 556.30h2.75v2.75h-2.75zM556.46 556.30h2.75v2.75h-2.75zM415.88 560.96h2.75v2.75h-2.75zM424.40 560.96h2.75v2.75h-2.75zM428.66 560.96h2.75v2.75h-2.75zM432.92 560.96h2.75v2.75h-2.75zM441.44 560.96h2.75v2.75h-2.75zM454.22 560.96h2.75v2.75h-2.75zM462.74 560.96h2.75v2.75h-2.75zM488.30 560.96h2.75v2.75h-2.75zM535.16 560.96h2.75v2.75h-2.75zM539.42 560.96h2.75v2.75h-2.75zM552.20 560.96h2.75v2.75h-2.75zM556.46 560.96h2.75v2.75h-2.75zM415.88 565.61h2.75v2.75h-2.75zM437.18 565.61h2.75v2.75h-2.75zM454.22 565.61h2.75v2.75h-2.75zM458.48 565.61h2.75v2.75h-2.75zM467.00 565.61h2.75v2.75h-2.75zM471.26 565.61h2.75v2.75h-2.75zM479.78 565.61h2.75v2.75h-2.75zM488.30 565.61h2.75v2.75h-2.75zM496.82 565.61h2.75v2.75h-2.75zM505.34 565.61h2.75v2.75h-2.75zM415.88 570.27h2.75v2.75h-2.75zM420.14 570.27h2.75v2.75h-2.75zM428.66 570.27h2.75v2.75h-2.75zM437.18 570.27h2.75v2.75h-2.75zM454.22 570.27h2.75v2.75h-2.75zM458.48 570.27h2.75v2.75h-2.75zM479.78 570.27h2.75v2.75h-2.75zM488.30 570.27h2.75v2.75h-2.75zM496.82 570.27h2.75v2.75h-2.75zM501.08 570.27h2.75v2.75h-2.75zM535.16 570.27h2.75v2.75h-2.75zM560.72 570.27h2.75v2.75h-2.75zM573.50 570.27h2.75v2.75h-2.75zM415.88 574.92h2.75v2.75h-2.75zM420.14 574.92h2.75v2.75h-2.75zM432.92 574.92h2.75v2.75h-2.75zM437.18 574.92h2.75v2.75h-2.75zM441.44 574.92h2.75v2.75h-2.75zM445.70 574.92h2.75v2.75h-2.75zM449.96 574.92h2.75v2.75h-2.75zM458.48 574.92h2.75v2.75h-2.75zM467.00 574.92h2.75v2.75h-2.75zM471.26 574.92h2.75v2.75h-2.75zM488.30 574.92h2.75v2.75h-2.75zM492.56 574.92h2.75v2.75h-2.75zM501.08 574.92h2.75v2.75h-2.75zM505.34 574.92h2.75v2.75h-2.75zM513.86 574.92h2.75v2.75h-2.75zM530.90 574.92h2.75v2.75h-2.75zM547.94 574.92h2.75v2.75h-2.75zM552.20 574.92h2.75v2.75h-2.75zM569.24 574.92h2.75v2.75h-2.75zM590.54 574.92h2.75v2.75h-2.75zM420.14 579.58h2.75v2.75h-2.75zM432.92 579.58h2.75v2.75h-2.75zM437.18 579.58h2.75v2.75h-2.75zM445.70 579.58h2.75v2.75h-2.75zM458.48 579.58h2.75v2.75h-2.75zM467.00 579.58h2.75v2.75h-2.75zM471.26 579.58h2.75v2.75h-2.75zM488.30 579.58h2.75v2.75h-2.75zM526.64 579.58h2.75v2.75h-2.75zM415.88 584.23h2.75v2.75h-2.75zM420.14 584.23h2.75v2.75h-2.75zM428.66 584.23h2.75v2.75h-2.75zM432.92 584.23h2.75v2.75h-2.75zM437.18 584.23h2.75v2.75h-2.75zM445.70 584.23h2.75v2.75h-2.75zM458.48 584.23h2.75v2.75h-2.75zM479.78 584.23h2.75v2.75h-2.75zM513.86 584.23h2.75v2.75h-2.75zM535.16 584.23h2.75v2.75h-2.75zM539.42 584.23h2.75v2.75h-2.75zM543.68 584.23h2.75v2.75h-2.75zM547.94 584.23h2.75v2.75h-2.75zM415.88 588.88h2.75v2.75h-2.75zM420.14 588.88h2.75v2.75h-2.75zM428.66 588.88h2.75v2.75h-2.75zM432.92 588.88h2.75v2.75h-2.75zM437.18 588.88h2.75v2.75h-2.75zM445.70 588.88h2.75v2.75h-2.75zM454.22 588.88h2.75v2.75h-2.75zM467.00 588.88h2.75v2.75h-2.75zM475.52 588.88h2.75v2.75h-2.75zM415.88 593.54h2.75v2.75h-2.75zM420.14 593.54h2.75v2.75h-2.75zM424.40 593.54h2.75v2.75h-2.75zM428.66 593.54h2.75v2.75h-2.75zM432.92 593.54h2.75v2.75h-2.75zM437.18 593.54h2.75v2.75h-2.75zM441.44 593.54h2.75v2.75h-2.75zM445.70 593.54h2.75v2.75h-2.75zM462.74 593.54h2.75v2.75h-2.75zM475.52 593.54h2.75v2.75h-2.75z" fill="#62a99f" stroke="#62a99f" stroke-width="0.9" stroke-opacity="0.22"/><path d="M462.74 370.10h2.75v2.75h-2.75zM471.26 370.10h2.75v2.75h-2.75zM475.52 370.10h2.75v2.75h-2.75zM513.86 370.10h2.75v2.75h-2.75zM522.38 370.10h2.75v2.75h-2.75zM526.64 370.10h2.75v2.75h-2.75zM530.90 370.10h2.75v2.75h-2.75zM535.16 370.10h2.75v2.75h-2.75zM543.68 370.10h2.75v2.75h-2.75zM547.94 370.10h2.75v2.75h-2.75zM552.20 370.10h2.75v2.75h-2.75zM556.46 370.10h2.75v2.75h-2.75zM560.72 370.10h2.75v2.75h-2.75zM564.98 370.10h2.75v2.75h-2.75zM569.24 370.10h2.75v2.75h-2.75zM573.50 370.10h2.75v2.75h-2.75zM582.02 370.10h2.75v2.75h-2.75zM586.28 370.10h2.75v2.75h-2.75zM594.80 370.10h2.75v2.75h-2.75zM599.06 370.10h2.75v2.75h-2.75zM603.32 370.10h2.75v2.75h-2.75zM607.58 370.10h2.75v2.75h-2.75zM611.84 370.10h2.75v2.75h-2.75zM403.10 374.75h2.75v2.75h-2.75zM411.62 374.75h2.75v2.75h-2.75zM415.88 374.75h2.75v2.75h-2.75zM462.74 374.75h2.75v2.75h-2.75zM471.26 374.75h2.75v2.75h-2.75zM479.78 374.75h2.75v2.75h-2.75zM501.08 374.75h2.75v2.75h-2.75zM513.86 374.75h2.75v2.75h-2.75zM522.38 374.75h2.75v2.75h-2.75zM547.94 374.75h2.75v2.75h-2.75zM552.20 374.75h2.75v2.75h-2.75zM556.46 374.75h2.75v2.75h-2.75zM560.72 374.75h2.75v2.75h-2.75zM582.02 374.75h2.75v2.75h-2.75zM603.32 374.75h2.75v2.75h-2.75zM611.84 374.75h2.75v2.75h-2.75zM403.10 379.41h2.75v2.75h-2.75zM411.62 379.41h2.75v2.75h-2.75zM420.14 379.41h2.75v2.75h-2.75zM424.40 379.41h2.75v2.75h-2.75zM428.66 379.41h2.75v2.75h-2.75zM441.44 379.41h2.75v2.75h-2.75zM458.48 379.41h2.75v2.75h-2.75zM462.74 379.41h2.75v2.75h-2.75zM479.78 379.41h2.75v2.75h-2.75zM505.34 379.41h2.75v2.75h-2.75zM522.38 379.41h2.75v2.75h-2.75zM526.64 379.41h2.75v2.75h-2.75zM556.46 379.41h2.75v2.75h-2.75zM560.72 379.41h2.75v2.75h-2.75zM573.50 379.41h2.75v2.75h-2.75zM590.54 379.41h2.75v2.75h-2.75zM403.10 384.06h2.75v2.75h-2.75zM441.44 384.06h2.75v2.75h-2.75zM479.78 384.06h2.75v2.75h-2.75zM488.30 384.06h2.75v2.75h-2.75zM496.82 384.06h2.75v2.75h-2.75zM518.12 384.06h2.75v2.75h-2.75zM530.90 384.06h2.75v2.75h-2.75zM535.16 384.06h2.75v2.75h-2.75zM539.42 384.06h2.75v2.75h-2.75zM552.20 384.06h2.75v2.75h-2.75zM556.46 384.06h2.75v2.75h-2.75zM560.72 384.06h2.75v2.75h-2.75zM564.98 384.06h2.75v2.75h-2.75zM569.24 384.06h2.75v2.75h-2.75zM573.50 384.06h2.75v2.75h-2.75zM577.76 384.06h2.75v2.75h-2.75zM594.80 384.06h2.75v2.75h-2.75zM607.58 384.06h2.75v2.75h-2.75zM403.10 388.72h2.75v2.75h-2.75zM411.62 388.72h2.75v2.75h-2.75zM437.18 388.72h2.75v2.75h-2.75zM441.44 388.72h2.75v2.75h-2.75zM449.96 388.72h2.75v2.75h-2.75zM467.00 388.72h2.75v2.75h-2.75zM475.52 388.72h2.75v2.75h-2.75zM479.78 388.72h2.75v2.75h-2.75zM484.04 388.72h2.75v2.75h-2.75zM488.30 388.72h2.75v2.75h-2.75zM496.82 388.72h2.75v2.75h-2.75zM501.08 388.72h2.75v2.75h-2.75zM513.86 388.72h2.75v2.75h-2.75zM522.38 388.72h2.75v2.75h-2.75zM530.90 388.72h2.75v2.75h-2.75zM577.76 388.72h2.75v2.75h-2.75zM582.02 388.72h2.75v2.75h-2.75zM599.06 388.72h2.75v2.75h-2.75zM403.10 393.38h2.75v2.75h-2.75zM496.82 393.38h2.75v2.75h-2.75zM501.08 393.38h2.75v2.75h-2.75zM547.94 393.38h2.75v2.75h-2.75zM560.72 393.38h2.75v2.75h-2.75zM603.32 393.38h2.75v2.75h-2.75zM403.10 398.03h2.75v2.75h-2.75zM471.26 398.03h2.75v2.75h-2.75zM479.78 398.03h2.75v2.75h-2.75zM484.04 398.03h2.75v2.75h-2.75zM496.82 398.03h2.75v2.75h-2.75zM522.38 398.03h2.75v2.75h-2.75zM586.28 398.03h2.75v2.75h-2.75zM403.10 402.69h2.75v2.75h-2.75zM415.88 402.69h2.75v2.75h-2.75zM492.56 402.69h2.75v2.75h-2.75zM496.82 402.69h2.75v2.75h-2.75zM518.12 402.69h2.75v2.75h-2.75zM539.42 402.69h2.75v2.75h-2.75zM543.68 402.69h2.75v2.75h-2.75zM403.10 407.34h2.75v2.75h-2.75zM411.62 407.34h2.75v2.75h-2.75zM420.14 407.34h2.75v2.75h-2.75zM475.52 407.34h2.75v2.75h-2.75zM530.90 407.34h2.75v2.75h-2.75zM586.28 407.34h2.75v2.75h-2.75zM403.10 412.00h2.75v2.75h-2.75zM415.88 412.00h2.75v2.75h-2.75zM424.40 412.00h2.75v2.75h-2.75zM432.92 412.00h2.75v2.75h-2.75zM445.70 412.00h2.75v2.75h-2.75zM458.48 412.00h2.75v2.75h-2.75zM462.74 412.00h2.75v2.75h-2.75zM479.78 412.00h2.75v2.75h-2.75zM509.60 412.00h2.75v2.75h-2.75zM530.90 412.00h2.75v2.75h-2.75zM552.20 412.00h2.75v2.75h-2.75zM564.98 412.00h2.75v2.75h-2.75zM403.10 416.65h2.75v2.75h-2.75zM437.18 416.65h2.75v2.75h-2.75zM449.96 416.65h2.75v2.75h-2.75zM458.48 416.65h2.75v2.75h-2.75zM462.74 416.65h2.75v2.75h-2.75zM467.00 416.65h2.75v2.75h-2.75zM496.82 416.65h2.75v2.75h-2.75zM543.68 416.65h2.75v2.75h-2.75zM552.20 416.65h2.75v2.75h-2.75zM403.10 421.31h2.75v2.75h-2.75zM407.36 421.31h2.75v2.75h-2.75zM428.66 421.31h2.75v2.75h-2.75zM458.48 421.31h2.75v2.75h-2.75zM475.52 421.31h2.75v2.75h-2.75zM501.08 421.31h2.75v2.75h-2.75zM513.86 421.31h2.75v2.75h-2.75zM586.28 421.31h2.75v2.75h-2.75zM403.10 425.96h2.75v2.75h-2.75zM407.36 425.96h2.75v2.75h-2.75zM415.88 425.96h2.75v2.75h-2.75zM420.14 425.96h2.75v2.75h-2.75zM492.56 425.96h2.75v2.75h-2.75zM496.82 425.96h2.75v2.75h-2.75zM535.16 425.96h2.75v2.75h-2.75zM547.94 425.96h2.75v2.75h-2.75zM552.20 425.96h2.75v2.75h-2.75zM560.72 425.96h2.75v2.75h-2.75zM569.24 425.96h2.75v2.75h-2.75zM599.06 425.96h2.75v2.75h-2.75zM407.36 430.62h2.75v2.75h-2.75zM424.40 430.62h2.75v2.75h-2.75zM479.78 430.62h2.75v2.75h-2.75zM492.56 430.62h2.75v2.75h-2.75zM496.82 430.62h2.75v2.75h-2.75zM564.98 430.62h2.75v2.75h-2.75zM586.28 430.62h2.75v2.75h-2.75zM437.18 435.27h2.75v2.75h-2.75zM475.52 435.27h2.75v2.75h-2.75zM479.78 435.27h2.75v2.75h-2.75zM496.82 435.27h2.75v2.75h-2.75zM569.24 435.27h2.75v2.75h-2.75zM582.02 435.27h2.75v2.75h-2.75zM403.10 439.93h2.75v2.75h-2.75zM462.74 439.93h2.75v2.75h-2.75zM475.52 439.93h2.75v2.75h-2.75zM492.56 439.93h2.75v2.75h-2.75zM547.94 439.93h2.75v2.75h-2.75zM564.98 439.93h2.75v2.75h-2.75zM603.32 439.93h2.75v2.75h-2.75zM403.10 444.58h2.75v2.75h-2.75zM420.14 444.58h2.75v2.75h-2.75zM432.92 444.58h2.75v2.75h-2.75zM479.78 444.58h2.75v2.75h-2.75zM560.72 444.58h2.75v2.75h-2.75zM403.10 449.24h2.75v2.75h-2.75zM462.74 449.24h2.75v2.75h-2.75zM552.20 449.24h2.75v2.75h-2.75zM556.46 449.24h2.75v2.75h-2.75zM582.02 449.24h2.75v2.75h-2.75zM403.10 453.89h2.75v2.75h-2.75zM407.36 453.89h2.75v2.75h-2.75zM411.62 453.89h2.75v2.75h-2.75zM454.22 453.89h2.75v2.75h-2.75zM462.74 453.89h2.75v2.75h-2.75zM475.52 453.89h2.75v2.75h-2.75zM479.78 453.89h2.75v2.75h-2.75zM488.30 453.89h2.75v2.75h-2.75zM407.36 458.55h2.75v2.75h-2.75zM479.78 458.55h2.75v2.75h-2.75zM488.30 458.55h2.75v2.75h-2.75zM501.08 458.55h2.75v2.75h-2.75zM522.38 458.55h2.75v2.75h-2.75zM582.02 458.55h2.75v2.75h-2.75zM403.10 463.20h2.75v2.75h-2.75zM424.40 463.20h2.75v2.75h-2.75zM432.92 463.20h2.75v2.75h-2.75zM462.74 463.20h2.75v2.75h-2.75zM475.52 463.20h2.75v2.75h-2.75zM496.82 463.20h2.75v2.75h-2.75zM522.38 463.20h2.75v2.75h-2.75zM564.98 463.20h2.75v2.75h-2.75zM582.02 463.20h2.75v2.75h-2.75zM437.18 467.86h2.75v2.75h-2.75zM458.48 467.86h2.75v2.75h-2.75zM492.56 467.86h2.75v2.75h-2.75zM496.82 467.86h2.75v2.75h-2.75zM577.76 467.86h2.75v2.75h-2.75zM407.36 472.51h2.75v2.75h-2.75zM471.26 472.51h2.75v2.75h-2.75zM522.38 472.51h2.75v2.75h-2.75zM420.14 477.17h2.75v2.75h-2.75zM441.44 477.17h2.75v2.75h-2.75zM462.74 477.17h2.75v2.75h-2.75zM475.52 477.17h2.75v2.75h-2.75zM479.78 477.17h2.75v2.75h-2.75zM484.04 477.17h2.75v2.75h-2.75zM488.30 477.17h2.75v2.75h-2.75zM492.56 477.17h2.75v2.75h-2.75zM403.10 481.82h2.75v2.75h-2.75zM407.36 481.82h2.75v2.75h-2.75zM424.40 481.82h2.75v2.75h-2.75zM437.18 481.82h2.75v2.75h-2.75zM441.44 481.82h2.75v2.75h-2.75zM449.96 481.82h2.75v2.75h-2.75zM467.00 481.82h2.75v2.75h-2.75zM484.04 481.82h2.75v2.75h-2.75zM492.56 481.82h2.75v2.75h-2.75zM407.36 486.48h2.75v2.75h-2.75zM428.66 486.48h2.75v2.75h-2.75zM441.44 486.48h2.75v2.75h-2.75zM449.96 486.48h2.75v2.75h-2.75zM475.52 486.48h2.75v2.75h-2.75zM479.78 486.48h2.75v2.75h-2.75zM488.30 486.48h2.75v2.75h-2.75zM509.60 486.48h2.75v2.75h-2.75zM530.90 486.48h2.75v2.75h-2.75zM424.40 491.13h2.75v2.75h-2.75zM428.66 491.13h2.75v2.75h-2.75zM441.44 491.13h2.75v2.75h-2.75zM449.96 491.13h2.75v2.75h-2.75zM471.26 491.13h2.75v2.75h-2.75zM475.52 491.13h2.75v2.75h-2.75zM484.04 491.13h2.75v2.75h-2.75zM488.30 491.13h2.75v2.75h-2.75zM407.36 495.79h2.75v2.75h-2.75zM424.40 495.79h2.75v2.75h-2.75zM428.66 495.79h2.75v2.75h-2.75zM475.52 495.79h2.75v2.75h-2.75zM479.78 495.79h2.75v2.75h-2.75zM501.08 495.79h2.75v2.75h-2.75zM535.16 495.79h2.75v2.75h-2.75zM411.62 500.44h2.75v2.75h-2.75zM415.88 500.44h2.75v2.75h-2.75zM424.40 500.44h2.75v2.75h-2.75zM441.44 500.44h2.75v2.75h-2.75zM454.22 500.44h2.75v2.75h-2.75zM501.08 500.44h2.75v2.75h-2.75zM603.32 500.44h2.75v2.75h-2.75zM607.58 500.44h2.75v2.75h-2.75zM411.62 505.10h2.75v2.75h-2.75zM424.40 505.10h2.75v2.75h-2.75zM432.92 505.10h2.75v2.75h-2.75zM445.70 505.10h2.75v2.75h-2.75zM454.22 505.10h2.75v2.75h-2.75zM475.52 505.10h2.75v2.75h-2.75zM496.82 505.10h2.75v2.75h-2.75zM501.08 505.10h2.75v2.75h-2.75zM513.86 505.10h2.75v2.75h-2.75zM522.38 505.10h2.75v2.75h-2.75zM526.64 505.10h2.75v2.75h-2.75zM607.58 505.10h2.75v2.75h-2.75zM611.84 505.10h2.75v2.75h-2.75zM411.62 509.75h2.75v2.75h-2.75zM432.92 509.75h2.75v2.75h-2.75zM441.44 509.75h2.75v2.75h-2.75zM449.96 509.75h2.75v2.75h-2.75zM454.22 509.75h2.75v2.75h-2.75zM496.82 509.75h2.75v2.75h-2.75zM501.08 509.75h2.75v2.75h-2.75zM509.60 509.75h2.75v2.75h-2.75zM518.12 509.75h2.75v2.75h-2.75zM526.64 509.75h2.75v2.75h-2.75zM560.72 509.75h2.75v2.75h-2.75zM564.98 509.75h2.75v2.75h-2.75zM577.76 509.75h2.75v2.75h-2.75zM582.02 509.75h2.75v2.75h-2.75zM590.54 509.75h2.75v2.75h-2.75zM594.80 509.75h2.75v2.75h-2.75zM599.06 509.75h2.75v2.75h-2.75zM415.88 514.40h2.75v2.75h-2.75zM424.40 514.40h2.75v2.75h-2.75zM437.18 514.40h2.75v2.75h-2.75zM445.70 514.40h2.75v2.75h-2.75zM484.04 514.40h2.75v2.75h-2.75zM518.12 514.40h2.75v2.75h-2.75zM552.20 514.40h2.75v2.75h-2.75zM564.98 514.40h2.75v2.75h-2.75zM569.24 514.40h2.75v2.75h-2.75zM586.28 514.40h2.75v2.75h-2.75zM590.54 514.40h2.75v2.75h-2.75zM594.80 514.40h2.75v2.75h-2.75zM599.06 514.40h2.75v2.75h-2.75zM424.40 519.06h2.75v2.75h-2.75zM428.66 519.06h2.75v2.75h-2.75zM441.44 519.06h2.75v2.75h-2.75zM445.70 519.06h2.75v2.75h-2.75zM484.04 519.06h2.75v2.75h-2.75zM496.82 519.06h2.75v2.75h-2.75zM509.60 519.06h2.75v2.75h-2.75zM530.90 519.06h2.75v2.75h-2.75zM535.16 519.06h2.75v2.75h-2.75zM552.20 519.06h2.75v2.75h-2.75zM560.72 519.06h2.75v2.75h-2.75zM564.98 519.06h2.75v2.75h-2.75zM573.50 519.06h2.75v2.75h-2.75zM577.76 519.06h2.75v2.75h-2.75zM611.84 519.06h2.75v2.75h-2.75zM424.40 523.72h2.75v2.75h-2.75zM437.18 523.72h2.75v2.75h-2.75zM441.44 523.72h2.75v2.75h-2.75zM479.78 523.72h2.75v2.75h-2.75zM492.56 523.72h2.75v2.75h-2.75zM518.12 523.72h2.75v2.75h-2.75zM552.20 523.72h2.75v2.75h-2.75zM560.72 523.72h2.75v2.75h-2.75zM569.24 523.72h2.75v2.75h-2.75zM582.02 523.72h2.75v2.75h-2.75zM599.06 523.72h2.75v2.75h-2.75zM603.32 523.72h2.75v2.75h-2.75zM611.84 523.72h2.75v2.75h-2.75zM420.14 528.37h2.75v2.75h-2.75zM424.40 528.37h2.75v2.75h-2.75zM437.18 528.37h2.75v2.75h-2.75zM449.96 528.37h2.75v2.75h-2.75zM458.48 528.37h2.75v2.75h-2.75zM467.00 528.37h2.75v2.75h-2.75zM479.78 528.37h2.75v2.75h-2.75zM484.04 528.37h2.75v2.75h-2.75zM518.12 528.37h2.75v2.75h-2.75zM530.90 528.37h2.75v2.75h-2.75zM535.16 528.37h2.75v2.75h-2.75zM539.42 528.37h2.75v2.75h-2.75zM543.68 528.37h2.75v2.75h-2.75zM569.24 528.37h2.75v2.75h-2.75zM577.76 528.37h2.75v2.75h-2.75zM407.36 533.03h2.75v2.75h-2.75zM420.14 533.03h2.75v2.75h-2.75zM428.66 533.03h2.75v2.75h-2.75zM432.92 533.03h2.75v2.75h-2.75zM441.44 533.03h2.75v2.75h-2.75zM475.52 533.03h2.75v2.75h-2.75zM479.78 533.03h2.75v2.75h-2.75zM484.04 533.03h2.75v2.75h-2.75zM488.30 533.03h2.75v2.75h-2.75zM492.56 533.03h2.75v2.75h-2.75zM501.08 533.03h2.75v2.75h-2.75zM513.86 533.03h2.75v2.75h-2.75zM547.94 533.03h2.75v2.75h-2.75zM586.28 533.03h2.75v2.75h-2.75zM424.40 537.68h2.75v2.75h-2.75zM437.18 537.68h2.75v2.75h-2.75zM441.44 537.68h2.75v2.75h-2.75zM449.96 537.68h2.75v2.75h-2.75zM462.74 537.68h2.75v2.75h-2.75zM467.00 537.68h2.75v2.75h-2.75zM471.26 537.68h2.75v2.75h-2.75zM492.56 537.68h2.75v2.75h-2.75zM513.86 537.68h2.75v2.75h-2.75zM420.14 542.34h2.75v2.75h-2.75zM441.44 542.34h2.75v2.75h-2.75zM445.70 542.34h2.75v2.75h-2.75zM479.78 542.34h2.75v2.75h-2.75zM484.04 542.34h2.75v2.75h-2.75zM492.56 542.34h2.75v2.75h-2.75zM543.68 542.34h2.75v2.75h-2.75zM420.14 546.99h2.75v2.75h-2.75zM432.92 546.99h2.75v2.75h-2.75zM437.18 546.99h2.75v2.75h-2.75zM441.44 546.99h2.75v2.75h-2.75zM445.70 546.99h2.75v2.75h-2.75zM462.74 546.99h2.75v2.75h-2.75zM492.56 546.99h2.75v2.75h-2.75zM501.08 546.99h2.75v2.75h-2.75zM505.34 546.99h2.75v2.75h-2.75zM509.60 546.99h2.75v2.75h-2.75zM539.42 546.99h2.75v2.75h-2.75zM547.94 546.99h2.75v2.75h-2.75zM407.36 551.64h2.75v2.75h-2.75zM424.40 551.64h2.75v2.75h-2.75zM437.18 551.64h2.75v2.75h-2.75zM441.44 551.64h2.75v2.75h-2.75zM445.70 551.64h2.75v2.75h-2.75zM449.96 551.64h2.75v2.75h-2.75zM454.22 551.64h2.75v2.75h-2.75zM484.04 551.64h2.75v2.75h-2.75zM492.56 551.64h2.75v2.75h-2.75zM496.82 551.64h2.75v2.75h-2.75zM501.08 551.64h2.75v2.75h-2.75zM518.12 551.64h2.75v2.75h-2.75zM407.36 556.30h2.75v2.75h-2.75zM415.88 556.30h2.75v2.75h-2.75zM424.40 556.30h2.75v2.75h-2.75zM445.70 556.30h2.75v2.75h-2.75zM449.96 556.30h2.75v2.75h-2.75zM458.48 556.30h2.75v2.75h-2.75zM479.78 556.30h2.75v2.75h-2.75zM484.04 556.30h2.75v2.75h-2.75zM488.30 556.30h2.75v2.75h-2.75zM492.56 556.30h2.75v2.75h-2.75zM501.08 556.30h2.75v2.75h-2.75zM582.02 556.30h2.75v2.75h-2.75zM420.14 560.96h2.75v2.75h-2.75zM437.18 560.96h2.75v2.75h-2.75zM445.70 560.96h2.75v2.75h-2.75zM449.96 560.96h2.75v2.75h-2.75zM458.48 560.96h2.75v2.75h-2.75zM467.00 560.96h2.75v2.75h-2.75zM471.26 560.96h2.75v2.75h-2.75zM492.56 560.96h2.75v2.75h-2.75zM505.34 560.96h2.75v2.75h-2.75zM513.86 560.96h2.75v2.75h-2.75zM522.38 560.96h2.75v2.75h-2.75zM530.90 560.96h2.75v2.75h-2.75zM590.54 560.96h2.75v2.75h-2.75zM420.14 565.61h2.75v2.75h-2.75zM424.40 565.61h2.75v2.75h-2.75zM428.66 565.61h2.75v2.75h-2.75zM432.92 565.61h2.75v2.75h-2.75zM441.44 565.61h2.75v2.75h-2.75zM449.96 565.61h2.75v2.75h-2.75zM462.74 565.61h2.75v2.75h-2.75zM475.52 565.61h2.75v2.75h-2.75zM424.40 570.27h2.75v2.75h-2.75zM432.92 570.27h2.75v2.75h-2.75zM441.44 570.27h2.75v2.75h-2.75zM445.70 570.27h2.75v2.75h-2.75zM449.96 570.27h2.75v2.75h-2.75zM462.74 570.27h2.75v2.75h-2.75zM467.00 570.27h2.75v2.75h-2.75zM484.04 570.27h2.75v2.75h-2.75zM505.34 570.27h2.75v2.75h-2.75zM518.12 570.27h2.75v2.75h-2.75zM530.90 570.27h2.75v2.75h-2.75zM564.98 570.27h2.75v2.75h-2.75zM582.02 570.27h2.75v2.75h-2.75zM424.40 574.92h2.75v2.75h-2.75zM428.66 574.92h2.75v2.75h-2.75zM479.78 574.92h2.75v2.75h-2.75zM496.82 574.92h2.75v2.75h-2.75zM518.12 574.92h2.75v2.75h-2.75zM522.38 574.92h2.75v2.75h-2.75zM526.64 574.92h2.75v2.75h-2.75zM535.16 574.92h2.75v2.75h-2.75zM539.42 574.92h2.75v2.75h-2.75zM543.68 574.92h2.75v2.75h-2.75zM564.98 574.92h2.75v2.75h-2.75zM582.02 574.92h2.75v2.75h-2.75zM424.40 579.58h2.75v2.75h-2.75zM428.66 579.58h2.75v2.75h-2.75zM441.44 579.58h2.75v2.75h-2.75zM449.96 579.58h2.75v2.75h-2.75zM454.22 579.58h2.75v2.75h-2.75zM479.78 579.58h2.75v2.75h-2.75zM501.08 579.58h2.75v2.75h-2.75zM556.46 579.58h2.75v2.75h-2.75zM424.40 584.23h2.75v2.75h-2.75zM441.44 584.23h2.75v2.75h-2.75zM449.96 584.23h2.75v2.75h-2.75zM454.22 584.23h2.75v2.75h-2.75zM462.74 584.23h2.75v2.75h-2.75zM424.40 588.88h2.75v2.75h-2.75zM441.44 588.88h2.75v2.75h-2.75zM449.96 588.88h2.75v2.75h-2.75zM462.74 588.88h2.75v2.75h-2.75zM492.56 588.88h2.75v2.75h-2.75zM449.96 593.54h2.75v2.75h-2.75z" fill="#84c8bf" stroke="#84c8bf" stroke-width="0.9" stroke-opacity="0.22"/><path d="M488.30 370.10h2.75v2.75h-2.75zM488.30 374.75h2.75v2.75h-2.75zM407.36 379.41h2.75v2.75h-2.75zM471.26 379.41h2.75v2.75h-2.75zM492.56 379.41h2.75v2.75h-2.75zM513.86 379.41h2.75v2.75h-2.75zM564.98 379.41h2.75v2.75h-2.75zM607.58 379.41h2.75v2.75h-2.75zM586.28 384.06h2.75v2.75h-2.75zM590.54 384.06h2.75v2.75h-2.75zM586.28 388.72h2.75v2.75h-2.75zM594.80 388.72h2.75v2.75h-2.75zM556.46 393.38h2.75v2.75h-2.75zM590.54 393.38h2.75v2.75h-2.75zM611.84 393.38h2.75v2.75h-2.75zM518.12 398.03h2.75v2.75h-2.75zM530.90 398.03h2.75v2.75h-2.75zM577.76 398.03h2.75v2.75h-2.75zM560.72 402.69h2.75v2.75h-2.75zM437.18 407.34h2.75v2.75h-2.75zM539.42 407.34h2.75v2.75h-2.75zM543.68 407.34h2.75v2.75h-2.75zM552.20 407.34h2.75v2.75h-2.75zM560.72 407.34h2.75v2.75h-2.75zM420.14 412.00h2.75v2.75h-2.75zM467.00 412.00h2.75v2.75h-2.75zM535.16 412.00h2.75v2.75h-2.75zM547.94 412.00h2.75v2.75h-2.75zM539.42 416.65h2.75v2.75h-2.75zM560.72 416.65h2.75v2.75h-2.75zM462.74 421.31h2.75v2.75h-2.75zM539.42 421.31h2.75v2.75h-2.75zM543.68 421.31h2.75v2.75h-2.75zM547.94 421.31h2.75v2.75h-2.75zM577.76 421.31h2.75v2.75h-2.75zM586.28 425.96h2.75v2.75h-2.75zM509.60 430.62h2.75v2.75h-2.75zM577.76 430.62h2.75v2.75h-2.75zM420.14 435.27h2.75v2.75h-2.75zM424.40 435.27h2.75v2.75h-2.75zM509.60 435.27h2.75v2.75h-2.75zM513.86 435.27h2.75v2.75h-2.75zM556.46 435.27h2.75v2.75h-2.75zM573.50 435.27h2.75v2.75h-2.75zM577.76 435.27h2.75v2.75h-2.75zM590.54 435.27h2.75v2.75h-2.75zM415.88 439.93h2.75v2.75h-2.75zM420.14 439.93h2.75v2.75h-2.75zM441.44 439.93h2.75v2.75h-2.75zM501.08 439.93h2.75v2.75h-2.75zM539.42 439.93h2.75v2.75h-2.75zM543.68 439.93h2.75v2.75h-2.75zM552.20 439.93h2.75v2.75h-2.75zM560.72 439.93h2.75v2.75h-2.75zM573.50 439.93h2.75v2.75h-2.75zM577.76 439.93h2.75v2.75h-2.75zM582.02 439.93h2.75v2.75h-2.75zM411.62 444.58h2.75v2.75h-2.75zM467.00 444.58h2.75v2.75h-2.75zM518.12 444.58h2.75v2.75h-2.75zM535.16 444.58h2.75v2.75h-2.75zM547.94 444.58h2.75v2.75h-2.75zM552.20 444.58h2.75v2.75h-2.75zM564.98 444.58h2.75v2.75h-2.75zM577.76 444.58h2.75v2.75h-2.75zM586.28 444.58h2.75v2.75h-2.75zM411.62 449.24h2.75v2.75h-2.75zM471.26 449.24h2.75v2.75h-2.75zM547.94 449.24h2.75v2.75h-2.75zM569.24 449.24h2.75v2.75h-2.75zM577.76 449.24h2.75v2.75h-2.75zM420.14 453.89h2.75v2.75h-2.75zM471.26 453.89h2.75v2.75h-2.75zM424.40 458.55h2.75v2.75h-2.75zM560.72 458.55h2.75v2.75h-2.75zM569.24 458.55h2.75v2.75h-2.75zM573.50 458.55h2.75v2.75h-2.75zM407.36 463.20h2.75v2.75h-2.75zM420.14 463.20h2.75v2.75h-2.75zM471.26 463.20h2.75v2.75h-2.75zM509.60 463.20h2.75v2.75h-2.75zM467.00 467.86h2.75v2.75h-2.75zM509.60 467.86h2.75v2.75h-2.75zM415.88 472.51h2.75v2.75h-2.75zM420.14 472.51h2.75v2.75h-2.75zM501.08 472.51h2.75v2.75h-2.75zM564.98 472.51h2.75v2.75h-2.75zM501.08 477.17h2.75v2.75h-2.75zM505.34 477.17h2.75v2.75h-2.75zM509.60 477.17h2.75v2.75h-2.75zM509.60 481.82h2.75v2.75h-2.75zM411.62 486.48h2.75v2.75h-2.75zM420.14 486.48h2.75v2.75h-2.75zM501.08 486.48h2.75v2.75h-2.75zM513.86 486.48h2.75v2.75h-2.75zM526.64 486.48h2.75v2.75h-2.75zM415.88 491.13h2.75v2.75h-2.75zM539.42 491.13h2.75v2.75h-2.75zM458.48 495.79h2.75v2.75h-2.75zM505.34 495.79h2.75v2.75h-2.75zM513.86 495.79h2.75v2.75h-2.75zM518.12 495.79h2.75v2.75h-2.75zM522.38 495.79h2.75v2.75h-2.75zM526.64 495.79h2.75v2.75h-2.75zM552.20 495.79h2.75v2.75h-2.75zM556.46 495.79h2.75v2.75h-2.75zM564.98 495.79h2.75v2.75h-2.75zM513.86 500.44h2.75v2.75h-2.75zM526.64 500.44h2.75v2.75h-2.75zM530.90 500.44h2.75v2.75h-2.75zM564.98 500.44h2.75v2.75h-2.75zM569.24 500.44h2.75v2.75h-2.75zM590.54 500.44h2.75v2.75h-2.75zM599.06 500.44h2.75v2.75h-2.75zM518.12 505.10h2.75v2.75h-2.75zM535.16 505.10h2.75v2.75h-2.75zM552.20 505.10h2.75v2.75h-2.75zM560.72 505.10h2.75v2.75h-2.75zM569.24 505.10h2.75v2.75h-2.75zM582.02 505.10h2.75v2.75h-2.75zM462.74 509.75h2.75v2.75h-2.75zM513.86 509.75h2.75v2.75h-2.75zM547.94 509.75h2.75v2.75h-2.75zM603.32 509.75h2.75v2.75h-2.75zM501.08 514.40h2.75v2.75h-2.75zM509.60 514.40h2.75v2.75h-2.75zM407.36 519.06h2.75v2.75h-2.75zM411.62 519.06h2.75v2.75h-2.75zM518.12 519.06h2.75v2.75h-2.75zM603.32 519.06h2.75v2.75h-2.75zM411.62 523.72h2.75v2.75h-2.75zM505.34 523.72h2.75v2.75h-2.75zM535.16 523.72h2.75v2.75h-2.75zM509.60 528.37h2.75v2.75h-2.75zM556.46 528.37h2.75v2.75h-2.75zM560.72 528.37h2.75v2.75h-2.75zM582.02 528.37h2.75v2.75h-2.75zM415.88 533.03h2.75v2.75h-2.75zM530.90 533.03h2.75v2.75h-2.75zM552.20 533.03h2.75v2.75h-2.75zM556.46 533.03h2.75v2.75h-2.75zM603.32 533.03h2.75v2.75h-2.75zM411.62 537.68h2.75v2.75h-2.75zM518.12 537.68h2.75v2.75h-2.75zM560.72 537.68h2.75v2.75h-2.75zM573.50 537.68h2.75v2.75h-2.75zM582.02 537.68h2.75v2.75h-2.75zM590.54 537.68h2.75v2.75h-2.75zM607.58 537.68h2.75v2.75h-2.75zM411.62 542.34h2.75v2.75h-2.75zM467.00 542.34h2.75v2.75h-2.75zM518.12 542.34h2.75v2.75h-2.75zM530.90 542.34h2.75v2.75h-2.75zM535.16 542.34h2.75v2.75h-2.75zM539.42 542.34h2.75v2.75h-2.75zM560.72 542.34h2.75v2.75h-2.75zM573.50 542.34h2.75v2.75h-2.75zM577.76 542.34h2.75v2.75h-2.75zM407.36 546.99h2.75v2.75h-2.75zM513.86 546.99h2.75v2.75h-2.75zM518.12 546.99h2.75v2.75h-2.75zM552.20 546.99h2.75v2.75h-2.75zM415.88 551.64h2.75v2.75h-2.75zM471.26 551.64h2.75v2.75h-2.75zM513.86 551.64h2.75v2.75h-2.75zM522.38 551.64h2.75v2.75h-2.75zM556.46 551.64h2.75v2.75h-2.75zM509.60 556.30h2.75v2.75h-2.75zM522.38 556.30h2.75v2.75h-2.75zM526.64 556.30h2.75v2.75h-2.75zM530.90 556.30h2.75v2.75h-2.75zM535.16 556.30h2.75v2.75h-2.75zM564.98 556.30h2.75v2.75h-2.75zM475.52 560.96h2.75v2.75h-2.75zM479.78 560.96h2.75v2.75h-2.75zM484.04 560.96h2.75v2.75h-2.75zM543.68 560.96h2.75v2.75h-2.75zM547.94 560.96h2.75v2.75h-2.75zM564.98 560.96h2.75v2.75h-2.75zM509.60 565.61h2.75v2.75h-2.75zM513.86 565.61h2.75v2.75h-2.75zM518.12 565.61h2.75v2.75h-2.75zM522.38 565.61h2.75v2.75h-2.75zM526.64 565.61h2.75v2.75h-2.75zM530.90 565.61h2.75v2.75h-2.75zM535.16 565.61h2.75v2.75h-2.75zM539.42 565.61h2.75v2.75h-2.75zM543.68 565.61h2.75v2.75h-2.75zM547.94 565.61h2.75v2.75h-2.75zM552.20 565.61h2.75v2.75h-2.75zM577.76 565.61h2.75v2.75h-2.75zM471.26 570.27h2.75v2.75h-2.75zM475.52 570.27h2.75v2.75h-2.75zM492.56 570.27h2.75v2.75h-2.75zM539.42 570.27h2.75v2.75h-2.75zM543.68 570.27h2.75v2.75h-2.75zM547.94 570.27h2.75v2.75h-2.75zM552.20 570.27h2.75v2.75h-2.75zM556.46 570.27h2.75v2.75h-2.75zM569.24 570.27h2.75v2.75h-2.75zM586.28 570.27h2.75v2.75h-2.75zM599.06 570.27h2.75v2.75h-2.75zM407.36 574.92h2.75v2.75h-2.75zM475.52 574.92h2.75v2.75h-2.75zM509.60 574.92h2.75v2.75h-2.75zM573.50 574.92h2.75v2.75h-2.75zM577.76 574.92h2.75v2.75h-2.75zM594.80 574.92h2.75v2.75h-2.75zM611.84 574.92h2.75v2.75h-2.75zM415.88 579.58h2.75v2.75h-2.75zM462.74 579.58h2.75v2.75h-2.75zM475.52 579.58h2.75v2.75h-2.75zM496.82 579.58h2.75v2.75h-2.75zM505.34 579.58h2.75v2.75h-2.75zM513.86 579.58h2.75v2.75h-2.75zM518.12 579.58h2.75v2.75h-2.75zM522.38 579.58h2.75v2.75h-2.75zM539.42 579.58h2.75v2.75h-2.75zM547.94 579.58h2.75v2.75h-2.75zM569.24 579.58h2.75v2.75h-2.75zM573.50 579.58h2.75v2.75h-2.75zM471.26 584.23h2.75v2.75h-2.75zM475.52 584.23h2.75v2.75h-2.75zM484.04 584.23h2.75v2.75h-2.75zM505.34 584.23h2.75v2.75h-2.75zM522.38 584.23h2.75v2.75h-2.75zM526.64 584.23h2.75v2.75h-2.75zM471.26 588.88h2.75v2.75h-2.75zM513.86 588.88h2.75v2.75h-2.75zM530.90 588.88h2.75v2.75h-2.75zM543.68 588.88h2.75v2.75h-2.75zM454.22 593.54h2.75v2.75h-2.75zM458.48 593.54h2.75v2.75h-2.75zM467.00 593.54h2.75v2.75h-2.75zM471.26 593.54h2.75v2.75h-2.75zM479.78 593.54h2.75v2.75h-2.75zM484.04 593.54h2.75v2.75h-2.75zM488.30 593.54h2.75v2.75h-2.75zM501.08 593.54h2.75v2.75h-2.75zM505.34 593.54h2.75v2.75h-2.75zM513.86 593.54h2.75v2.75h-2.75z" fill="#46877d" stroke="#46877d" stroke-width="0.9" stroke-opacity="0.22"/><path d="M420.14 374.75h2.75v2.75h-2.75zM428.66 374.75h2.75v2.75h-2.75zM475.52 374.75h2.75v2.75h-2.75zM518.12 374.75h2.75v2.75h-2.75zM564.98 374.75h2.75v2.75h-2.75zM586.28 374.75h2.75v2.75h-2.75zM590.54 374.75h2.75v2.75h-2.75zM437.18 379.41h2.75v2.75h-2.75zM445.70 379.41h2.75v2.75h-2.75zM449.96 379.41h2.75v2.75h-2.75zM454.22 379.41h2.75v2.75h-2.75zM539.42 379.41h2.75v2.75h-2.75zM594.80 379.41h2.75v2.75h-2.75zM411.62 384.06h2.75v2.75h-2.75zM445.70 384.06h2.75v2.75h-2.75zM449.96 384.06h2.75v2.75h-2.75zM454.22 384.06h2.75v2.75h-2.75zM458.48 384.06h2.75v2.75h-2.75zM462.74 384.06h2.75v2.75h-2.75zM475.52 384.06h2.75v2.75h-2.75zM505.34 384.06h2.75v2.75h-2.75zM513.86 384.06h2.75v2.75h-2.75zM543.68 384.06h2.75v2.75h-2.75zM611.84 384.06h2.75v2.75h-2.75zM407.36 388.72h2.75v2.75h-2.75zM445.70 388.72h2.75v2.75h-2.75zM454.22 388.72h2.75v2.75h-2.75zM462.74 388.72h2.75v2.75h-2.75zM492.56 388.72h2.75v2.75h-2.75zM505.34 388.72h2.75v2.75h-2.75zM509.60 388.72h2.75v2.75h-2.75zM547.94 388.72h2.75v2.75h-2.75zM603.32 388.72h2.75v2.75h-2.75zM411.62 393.38h2.75v2.75h-2.75zM415.88 393.38h2.75v2.75h-2.75zM441.44 393.38h2.75v2.75h-2.75zM458.48 393.38h2.75v2.75h-2.75zM462.74 393.38h2.75v2.75h-2.75zM467.00 393.38h2.75v2.75h-2.75zM479.78 393.38h2.75v2.75h-2.75zM484.04 393.38h2.75v2.75h-2.75zM509.60 393.38h2.75v2.75h-2.75zM526.64 393.38h2.75v2.75h-2.75zM407.36 398.03h2.75v2.75h-2.75zM420.14 398.03h2.75v2.75h-2.75zM462.74 398.03h2.75v2.75h-2.75zM467.00 398.03h2.75v2.75h-2.75zM475.52 398.03h2.75v2.75h-2.75zM488.30 398.03h2.75v2.75h-2.75zM492.56 398.03h2.75v2.75h-2.75zM547.94 398.03h2.75v2.75h-2.75zM573.50 398.03h2.75v2.75h-2.75zM407.36 402.69h2.75v2.75h-2.75zM428.66 402.69h2.75v2.75h-2.75zM432.92 402.69h2.75v2.75h-2.75zM454.22 402.69h2.75v2.75h-2.75zM458.48 402.69h2.75v2.75h-2.75zM462.74 402.69h2.75v2.75h-2.75zM505.34 402.69h2.75v2.75h-2.75zM599.06 402.69h2.75v2.75h-2.75zM607.58 402.69h2.75v2.75h-2.75zM428.66 407.34h2.75v2.75h-2.75zM445.70 407.34h2.75v2.75h-2.75zM449.96 407.34h2.75v2.75h-2.75zM454.22 407.34h2.75v2.75h-2.75zM458.48 407.34h2.75v2.75h-2.75zM462.74 407.34h2.75v2.75h-2.75zM467.00 407.34h2.75v2.75h-2.75zM441.44 412.00h2.75v2.75h-2.75zM449.96 412.00h2.75v2.75h-2.75zM454.22 412.00h2.75v2.75h-2.75zM501.08 412.00h2.75v2.75h-2.75zM573.50 412.00h2.75v2.75h-2.75zM577.76 412.00h2.75v2.75h-2.75zM428.66 416.65h2.75v2.75h-2.75zM441.44 416.65h2.75v2.75h-2.75zM445.70 416.65h2.75v2.75h-2.75zM454.22 416.65h2.75v2.75h-2.75zM471.26 416.65h2.75v2.75h-2.75zM501.08 416.65h2.75v2.75h-2.75zM535.16 416.65h2.75v2.75h-2.75zM432.92 421.31h2.75v2.75h-2.75zM441.44 421.31h2.75v2.75h-2.75zM445.70 421.31h2.75v2.75h-2.75zM449.96 421.31h2.75v2.75h-2.75zM471.26 421.31h2.75v2.75h-2.75zM424.40 425.96h2.75v2.75h-2.75zM441.44 425.96h2.75v2.75h-2.75zM445.70 425.96h2.75v2.75h-2.75zM449.96 425.96h2.75v2.75h-2.75zM458.48 425.96h2.75v2.75h-2.75zM501.08 425.96h2.75v2.75h-2.75zM543.68 425.96h2.75v2.75h-2.75zM441.44 430.62h2.75v2.75h-2.75zM547.94 430.62h2.75v2.75h-2.75zM560.72 430.62h2.75v2.75h-2.75zM407.36 435.27h2.75v2.75h-2.75zM449.96 435.27h2.75v2.75h-2.75zM454.22 435.27h2.75v2.75h-2.75zM471.26 435.27h2.75v2.75h-2.75zM501.08 435.27h2.75v2.75h-2.75zM505.34 435.27h2.75v2.75h-2.75zM547.94 435.27h2.75v2.75h-2.75zM407.36 439.93h2.75v2.75h-2.75zM445.70 439.93h2.75v2.75h-2.75zM449.96 439.93h2.75v2.75h-2.75zM454.22 439.93h2.75v2.75h-2.75zM467.00 439.93h2.75v2.75h-2.75zM471.26 439.93h2.75v2.75h-2.75zM479.78 439.93h2.75v2.75h-2.75zM488.30 439.93h2.75v2.75h-2.75zM496.82 439.93h2.75v2.75h-2.75zM407.36 444.58h2.75v2.75h-2.75zM437.18 444.58h2.75v2.75h-2.75zM441.44 444.58h2.75v2.75h-2.75zM449.96 444.58h2.75v2.75h-2.75zM454.22 444.58h2.75v2.75h-2.75zM420.14 449.24h2.75v2.75h-2.75zM424.40 449.24h2.75v2.75h-2.75zM441.44 449.24h2.75v2.75h-2.75zM454.22 449.24h2.75v2.75h-2.75zM458.48 449.24h2.75v2.75h-2.75zM467.00 449.24h2.75v2.75h-2.75zM496.82 449.24h2.75v2.75h-2.75zM415.88 453.89h2.75v2.75h-2.75zM424.40 453.89h2.75v2.75h-2.75zM428.66 453.89h2.75v2.75h-2.75zM432.92 453.89h2.75v2.75h-2.75zM445.70 453.89h2.75v2.75h-2.75zM449.96 453.89h2.75v2.75h-2.75zM467.00 453.89h2.75v2.75h-2.75zM484.04 453.89h2.75v2.75h-2.75zM496.82 453.89h2.75v2.75h-2.75zM411.62 458.55h2.75v2.75h-2.75zM415.88 458.55h2.75v2.75h-2.75zM428.66 458.55h2.75v2.75h-2.75zM432.92 458.55h2.75v2.75h-2.75zM445.70 458.55h2.75v2.75h-2.75zM449.96 458.55h2.75v2.75h-2.75zM454.22 458.55h2.75v2.75h-2.75zM458.48 458.55h2.75v2.75h-2.75zM467.00 458.55h2.75v2.75h-2.75zM484.04 458.55h2.75v2.75h-2.75zM492.56 458.55h2.75v2.75h-2.75zM496.82 458.55h2.75v2.75h-2.75zM411.62 463.20h2.75v2.75h-2.75zM437.18 463.20h2.75v2.75h-2.75zM445.70 463.20h2.75v2.75h-2.75zM454.22 463.20h2.75v2.75h-2.75zM479.78 463.20h2.75v2.75h-2.75zM492.56 463.20h2.75v2.75h-2.75zM577.76 463.20h2.75v2.75h-2.75zM586.28 463.20h2.75v2.75h-2.75zM407.36 467.86h2.75v2.75h-2.75zM424.40 467.86h2.75v2.75h-2.75zM428.66 467.86h2.75v2.75h-2.75zM441.44 467.86h2.75v2.75h-2.75zM454.22 467.86h2.75v2.75h-2.75zM479.78 467.86h2.75v2.75h-2.75zM501.08 467.86h2.75v2.75h-2.75zM505.34 467.86h2.75v2.75h-2.75zM522.38 467.86h2.75v2.75h-2.75zM411.62 472.51h2.75v2.75h-2.75zM441.44 472.51h2.75v2.75h-2.75zM445.70 472.51h2.75v2.75h-2.75zM458.48 472.51h2.75v2.75h-2.75zM496.82 472.51h2.75v2.75h-2.75zM445.70 477.17h2.75v2.75h-2.75zM467.00 477.17h2.75v2.75h-2.75zM471.26 477.17h2.75v2.75h-2.75zM471.26 481.82h2.75v2.75h-2.75zM475.52 481.82h2.75v2.75h-2.75zM479.78 481.82h2.75v2.75h-2.75zM471.26 486.48h2.75v2.75h-2.75zM492.56 491.13h2.75v2.75h-2.75zM411.62 495.79h2.75v2.75h-2.75zM441.44 495.79h2.75v2.75h-2.75zM428.66 500.44h2.75v2.75h-2.75zM415.88 505.10h2.75v2.75h-2.75zM428.66 505.10h2.75v2.75h-2.75zM556.46 505.10h2.75v2.75h-2.75zM577.76 505.10h2.75v2.75h-2.75zM590.54 505.10h2.75v2.75h-2.75zM415.88 509.75h2.75v2.75h-2.75zM428.66 509.75h2.75v2.75h-2.75zM445.70 509.75h2.75v2.75h-2.75zM505.34 509.75h2.75v2.75h-2.75zM530.90 509.75h2.75v2.75h-2.75zM535.16 509.75h2.75v2.75h-2.75zM607.58 509.75h2.75v2.75h-2.75zM411.62 514.40h2.75v2.75h-2.75zM420.14 514.40h2.75v2.75h-2.75zM522.38 514.40h2.75v2.75h-2.75zM526.64 514.40h2.75v2.75h-2.75zM535.16 514.40h2.75v2.75h-2.75zM547.94 514.40h2.75v2.75h-2.75zM607.58 514.40h2.75v2.75h-2.75zM547.94 519.06h2.75v2.75h-2.75zM407.36 523.72h2.75v2.75h-2.75zM445.70 523.72h2.75v2.75h-2.75zM509.60 523.72h2.75v2.75h-2.75zM556.46 523.72h2.75v2.75h-2.75zM577.76 523.72h2.75v2.75h-2.75zM441.44 528.37h2.75v2.75h-2.75zM445.70 528.37h2.75v2.75h-2.75zM471.26 528.37h2.75v2.75h-2.75zM526.64 528.37h2.75v2.75h-2.75zM564.98 528.37h2.75v2.75h-2.75zM599.06 528.37h2.75v2.75h-2.75zM411.62 533.03h2.75v2.75h-2.75zM424.40 533.03h2.75v2.75h-2.75zM437.18 533.03h2.75v2.75h-2.75zM445.70 533.03h2.75v2.75h-2.75zM458.48 533.03h2.75v2.75h-2.75zM505.34 533.03h2.75v2.75h-2.75zM509.60 533.03h2.75v2.75h-2.75zM518.12 533.03h2.75v2.75h-2.75zM560.72 533.03h2.75v2.75h-2.75zM445.70 537.68h2.75v2.75h-2.75zM509.60 537.68h2.75v2.75h-2.75zM535.16 537.68h2.75v2.75h-2.75zM543.68 537.68h2.75v2.75h-2.75zM449.96 542.34h2.75v2.75h-2.75zM454.22 542.34h2.75v2.75h-2.75zM458.48 542.34h2.75v2.75h-2.75zM488.30 542.34h2.75v2.75h-2.75zM594.80 542.34h2.75v2.75h-2.75zM424.40 546.99h2.75v2.75h-2.75zM420.14 556.30h2.75v2.75h-2.75zM496.82 556.30h2.75v2.75h-2.75zM411.62 560.96h2.75v2.75h-2.75zM501.08 560.96h2.75v2.75h-2.75zM509.60 560.96h2.75v2.75h-2.75zM526.64 560.96h2.75v2.75h-2.75zM445.70 565.61h2.75v2.75h-2.75zM484.04 565.61h2.75v2.75h-2.75zM501.08 565.61h2.75v2.75h-2.75zM556.46 565.61h2.75v2.75h-2.75zM407.36 570.27h2.75v2.75h-2.75zM509.60 570.27h2.75v2.75h-2.75zM513.86 570.27h2.75v2.75h-2.75zM526.64 570.27h2.75v2.75h-2.75zM462.74 574.92h2.75v2.75h-2.75zM484.04 574.92h2.75v2.75h-2.75zM560.72 574.92h2.75v2.75h-2.75zM492.56 579.58h2.75v2.75h-2.75zM560.72 579.58h2.75v2.75h-2.75zM467.00 584.23h2.75v2.75h-2.75zM458.48 588.88h2.75v2.75h-2.75z" fill="#fbf1e6" stroke="#fbf1e6" stroke-width="0.9" stroke-opacity="0.22"/><path d="M415.88 379.41h2.75v2.75h-2.75zM467.00 379.41h2.75v2.75h-2.75zM407.36 384.06h2.75v2.75h-2.75zM471.26 384.06h2.75v2.75h-2.75zM603.32 384.06h2.75v2.75h-2.75zM424.40 388.72h2.75v2.75h-2.75zM428.66 388.72h2.75v2.75h-2.75zM432.92 388.72h2.75v2.75h-2.75zM518.12 388.72h2.75v2.75h-2.75zM420.14 393.38h2.75v2.75h-2.75zM432.92 393.38h2.75v2.75h-2.75zM445.70 393.38h2.75v2.75h-2.75zM522.38 393.38h2.75v2.75h-2.75zM415.88 398.03h2.75v2.75h-2.75zM424.40 398.03h2.75v2.75h-2.75zM445.70 398.03h2.75v2.75h-2.75zM449.96 398.03h2.75v2.75h-2.75zM454.22 398.03h2.75v2.75h-2.75zM458.48 398.03h2.75v2.75h-2.75zM509.60 398.03h2.75v2.75h-2.75zM599.06 398.03h2.75v2.75h-2.75zM424.40 402.69h2.75v2.75h-2.75zM445.70 402.69h2.75v2.75h-2.75zM415.88 407.34h2.75v2.75h-2.75zM424.40 407.34h2.75v2.75h-2.75zM569.24 430.62h2.75v2.75h-2.75zM445.70 444.58h2.75v2.75h-2.75zM471.26 444.58h2.75v2.75h-2.75zM428.66 449.24h2.75v2.75h-2.75zM449.96 449.24h2.75v2.75h-2.75zM437.18 453.89h2.75v2.75h-2.75zM441.44 453.89h2.75v2.75h-2.75zM458.48 453.89h2.75v2.75h-2.75zM441.44 458.55h2.75v2.75h-2.75zM462.74 458.55h2.75v2.75h-2.75zM471.26 458.55h2.75v2.75h-2.75zM441.44 463.20h2.75v2.75h-2.75zM484.04 467.86h2.75v2.75h-2.75zM488.30 467.86h2.75v2.75h-2.75zM403.10 477.17h2.75v2.75h-2.75zM407.36 477.17h2.75v2.75h-2.75zM407.36 500.44h2.75v2.75h-2.75zM407.36 505.10h2.75v2.75h-2.75zM530.90 514.40h2.75v2.75h-2.75zM420.14 519.06h2.75v2.75h-2.75zM501.08 523.72h2.75v2.75h-2.75zM547.94 523.72h2.75v2.75h-2.75zM564.98 523.72h2.75v2.75h-2.75zM590.54 523.72h2.75v2.75h-2.75zM594.80 523.72h2.75v2.75h-2.75zM607.58 523.72h2.75v2.75h-2.75zM501.08 528.37h2.75v2.75h-2.75zM552.20 528.37h2.75v2.75h-2.75zM603.32 528.37h2.75v2.75h-2.75zM420.14 537.68h2.75v2.75h-2.75zM501.08 537.68h2.75v2.75h-2.75zM586.28 537.68h2.75v2.75h-2.75zM599.06 537.68h2.75v2.75h-2.75zM496.82 542.34h2.75v2.75h-2.75zM501.08 542.34h2.75v2.75h-2.75zM505.34 542.34h2.75v2.75h-2.75zM496.82 560.96h2.75v2.75h-2.75zM492.56 565.61h2.75v2.75h-2.75zM569.24 565.61h2.75v2.75h-2.75zM522.38 570.27h2.75v2.75h-2.75zM509.60 579.58h2.75v2.75h-2.75z" fill="#eeb08a" stroke="#eeb08a" stroke-width="0.9" stroke-opacity="0.22"/><path d="M432.92 379.41h2.75v2.75h-2.75zM432.92 384.06h2.75v2.75h-2.75zM582.02 384.06h2.75v2.75h-2.75zM420.14 388.72h2.75v2.75h-2.75zM428.66 393.38h2.75v2.75h-2.75zM428.66 398.03h2.75v2.75h-2.75zM513.86 398.03h2.75v2.75h-2.75zM582.02 425.96h2.75v2.75h-2.75zM522.38 435.27h2.75v2.75h-2.75zM543.68 435.27h2.75v2.75h-2.75zM573.50 449.24h2.75v2.75h-2.75zM501.08 481.82h2.75v2.75h-2.75zM509.60 505.10h2.75v2.75h-2.75zM530.90 523.72h2.75v2.75h-2.75zM539.42 523.72h2.75v2.75h-2.75zM607.58 528.37h2.75v2.75h-2.75zM484.04 537.68h2.75v2.75h-2.75zM505.34 537.68h2.75v2.75h-2.75zM564.98 546.99h2.75v2.75h-2.75zM556.46 574.92h2.75v2.75h-2.75zM564.98 579.58h2.75v2.75h-2.75zM552.20 584.23h2.75v2.75h-2.75zM560.72 584.23h2.75v2.75h-2.75z" fill="#a05a3c" stroke="#a05a3c" stroke-width="0.9" stroke-opacity="0.22"/><path d="M415.88 384.06h2.75v2.75h-2.75zM522.38 384.06h2.75v2.75h-2.75zM415.88 388.72h2.75v2.75h-2.75zM424.40 393.38h2.75v2.75h-2.75zM437.18 393.38h2.75v2.75h-2.75zM449.96 393.38h2.75v2.75h-2.75zM432.92 398.03h2.75v2.75h-2.75zM437.18 398.03h2.75v2.75h-2.75zM441.44 398.03h2.75v2.75h-2.75zM441.44 402.69h2.75v2.75h-2.75zM552.20 430.62h2.75v2.75h-2.75zM445.70 449.24h2.75v2.75h-2.75zM560.72 467.86h2.75v2.75h-2.75zM586.28 523.72h2.75v2.75h-2.75zM415.88 528.37h2.75v2.75h-2.75zM505.34 528.37h2.75v2.75h-2.75zM522.38 528.37h2.75v2.75h-2.75zM496.82 537.68h2.75v2.75h-2.75zM420.14 551.64h2.75v2.75h-2.75zM513.86 556.30h2.75v2.75h-2.75zM518.12 560.96h2.75v2.75h-2.75zM454.22 574.92h2.75v2.75h-2.75z" fill="#dc8a55" stroke="#dc8a55" stroke-width="0.9" stroke-opacity="0.22"/><path d="M399.7,598.4H618.4" stroke="#888" stroke-width="0.9"/><text x="394.20" y="371.80" font-size="10.3" text-anchor="end" fill="#1a1a1a" stroke="#1a1a1a" stroke-width="0.18" >28</text><text x="394.20" y="395.96" font-size="10.3" text-anchor="end" fill="#1a1a1a" stroke="#1a1a1a" stroke-width="0.18" >24</text><text x="394.20" y="420.12" font-size="10.3" text-anchor="end" fill="#1a1a1a" stroke="#1a1a1a" stroke-width="0.18" >20</text><text x="394.20" y="444.28" font-size="10.3" text-anchor="end" fill="#1a1a1a" stroke="#1a1a1a" stroke-width="0.18" >16</text><text x="394.20" y="468.44" font-size="10.3" text-anchor="end" fill="#1a1a1a" stroke="#1a1a1a" stroke-width="0.18" >12</text><text x="394.20" y="492.60" font-size="10.3" text-anchor="end" fill="#1a1a1a" stroke="#1a1a1a" stroke-width="0.18" >8</text><text x="394.20" y="516.76" font-size="10.3" text-anchor="end" fill="#1a1a1a" stroke="#1a1a1a" stroke-width="0.18" >4</text><text x="394.20" y="540.92" font-size="10.3" text-anchor="end" fill="#1a1a1a" stroke="#1a1a1a" stroke-width="0.18" >0</text><text x="394.20" y="565.08" font-size="10.3" text-anchor="end" fill="#1a1a1a" stroke="#1a1a1a" stroke-width="0.18" >−4</text><text x="394.20" y="589.24" font-size="10.3" text-anchor="end" fill="#1a1a1a" stroke="#1a1a1a" stroke-width="0.18" >−8</text><text x="399.70" y="611.60" font-size="10.3" text-anchor="middle" fill="#1a1a1a" stroke="#1a1a1a" stroke-width="0.18" >0</text><text x="430.94" y="611.60" font-size="10.3" text-anchor="middle" fill="#1a1a1a" stroke="#1a1a1a" stroke-width="0.18" >500</text><text x="462.18" y="611.60" font-size="10.3" text-anchor="middle" fill="#1a1a1a" stroke="#1a1a1a" stroke-width="0.18" >1000</text><text x="493.42" y="611.60" font-size="10.3" text-anchor="middle" fill="#1a1a1a" stroke="#1a1a1a" stroke-width="0.18" >1500</text><text x="524.66" y="611.60" font-size="10.3" text-anchor="middle" fill="#1a1a1a" stroke="#1a1a1a" stroke-width="0.18" >2000</text><text x="555.90" y="611.60" font-size="10.3" text-anchor="middle" fill="#1a1a1a" stroke="#1a1a1a" stroke-width="0.18" >2500</text><text x="587.14" y="611.60" font-size="10.3" text-anchor="middle" fill="#1a1a1a" stroke="#1a1a1a" stroke-width="0.18" >3000</text><text x="618.38" y="611.60" font-size="10.3" text-anchor="middle" fill="#1a1a1a" stroke="#1a1a1a" stroke-width="0.18" >3500</text><text x="509.20" y="630.60" font-size="12.4" text-anchor="middle" fill="#1a1a1a" stroke="#1a1a1a" stroke-width="0.18" >Mean annual precipitation (mm)</text><text x="0.00" y="0.00" font-size="12.4" text-anchor="middle" fill="#1a1a1a" stroke="#1a1a1a" stroke-width="0.18" transform="translate(377.8,484) rotate(-90)">Mean air temperature (°C)</text><rect x="634.5" y="388.60" width="6.5" height="27.61" fill="#a04b23"/><rect x="634.5" y="415.91" width="6.5" height="27.61" fill="#d76e28"/><rect x="634.5" y="443.23" width="6.5" height="27.61" fill="#eea05f"/><rect x="634.5" y="470.54" width="6.5" height="27.61" fill="#f8f3e1"/><rect x="634.5" y="497.86" width="6.5" height="27.61" fill="#3cafb9"/><rect x="634.5" y="525.17" width="6.5" height="27.61" fill="#1e96a5"/><rect x="634.5" y="552.49" width="6.5" height="27.61" fill="#107070"/><rect x="634.5" y="388.6" width="6.5" height="191.20" fill="none" stroke="#777" stroke-width="0.7"/><text x="646.80" y="419.91" font-size="11.4" text-anchor="start" fill="#1a1a1a" stroke="#1a1a1a" stroke-width="0.18" >24</text><text x="646.80" y="447.23" font-size="11.4" text-anchor="start" fill="#1a1a1a" stroke="#1a1a1a" stroke-width="0.18" >20</text><text x="646.80" y="474.54" font-size="11.4" text-anchor="start" fill="#1a1a1a" stroke="#1a1a1a" stroke-width="0.18" >16</text><text x="646.80" y="501.86" font-size="11.4" text-anchor="start" fill="#1a1a1a" stroke="#1a1a1a" stroke-width="0.18" >12</text><text x="646.80" y="529.17" font-size="11.4" text-anchor="start" fill="#1a1a1a" stroke="#1a1a1a" stroke-width="0.18" >8</text><text x="646.80" y="556.49" font-size="11.4" text-anchor="start" fill="#1a1a1a" stroke="#1a1a1a" stroke-width="0.18" >4</text><text x="0.00" y="0.00" font-size="12.1" text-anchor="middle" fill="#1a1a1a" stroke="#1a1a1a" stroke-width="0.18" transform="translate(673.9,483.8) rotate(-90)">Average recovery time (months)</text></svg></body></html>
